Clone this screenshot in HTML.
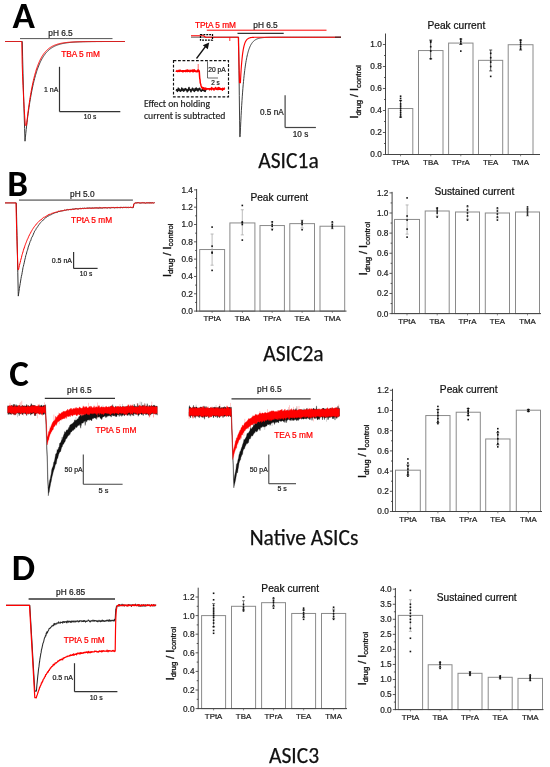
<!DOCTYPE html>
<html><head><meta charset="utf-8"><title>figure</title>
<style>html,body{margin:0;padding:0;background:#fff;}svg{display:block}</style></head>
<body><svg width="550" height="767" viewBox="0 0 550 767">
<rect width="550" height="767" fill="#fff"/>
<text x="12.6" y="27.6" font-size="37" fill="#000" text-anchor="start" font-family="Carlito, Liberation Sans, sans-serif" font-weight="bold" textLength="22.42" lengthAdjust="spacingAndGlyphs" >A</text>
<text x="7.3" y="195.6" font-size="37" fill="#000" text-anchor="start" font-family="Carlito, Liberation Sans, sans-serif" font-weight="bold" textLength="20.75" lengthAdjust="spacingAndGlyphs" >B</text>
<text x="9.2" y="386.3" font-size="37" fill="#000" text-anchor="start" font-family="Carlito, Liberation Sans, sans-serif" font-weight="bold" textLength="19.59" lengthAdjust="spacingAndGlyphs" >C</text>
<text x="11.7" y="579.5" font-size="37" fill="#000" text-anchor="start" font-family="Carlito, Liberation Sans, sans-serif" font-weight="bold" textLength="23.33" lengthAdjust="spacingAndGlyphs" >D</text>
<text x="60.5" y="36" font-size="8.3" fill="#222" text-anchor="middle" font-family="Liberation Sans, Arial, sans-serif" font-weight="normal" stroke="#222" stroke-width="0.22" >pH 6.5</text>
<line x1="20" y1="38.6" x2="112.5" y2="38.6" stroke="#555" stroke-width="1" />
<path d="M5 41.5 L5.4 41.5 L5.8 41.5 L6.2 41.5 L6.6 41.5 L7 41.5 L7.4 41.5 L7.8 41.5 L8.2 41.5 L8.6 41.5 L9 41.5 L9.4 41.5 L9.8 41.5 L10.2 41.5 L10.6 41.5 L11 41.5 L11.4 41.5 L11.8 41.5 L12.2 41.5 L12.6 41.5 L13 41.5 L13.4 41.5 L13.8 41.5 L14.2 41.5 L14.6 41.5 L15 41.5 L15.4 41.5 L15.8 41.5 L16.2 41.5 L16.6 41.5 L17 41.5 L17.4 41.5 L17.8 41.5 L18.2 41.5 L18.6 41.5 L19 41.5 L19.4 41.5 L19.8 41.5 L20.2 41.5 L20.6 41.5 L21 41.5 L21.4 41.5 L21.8 41.5 L22.2 41.5 L22.3 41.5 L22.6 56.9 L23 73.15 L23.4 87.98 L23.8 101.99 L24.2 115.46 L24.6 128.5 L25 141.2 L25.4 137.17 L25.8 133.31 L26.2 129.6 L26.6 126.04 L27 122.62 L27.4 119.35 L27.8 116.2 L28.2 113.18 L28.6 110.29 L29 107.51 L29.4 104.84 L29.8 102.28 L30.2 99.83 L30.6 97.47 L31 95.21 L31.4 93.04 L31.8 90.96 L32.2 88.96 L32.6 87.04 L33 85.2 L33.4 83.44 L33.8 81.74 L34.2 80.12 L34.6 78.56 L35 77.06 L35.4 75.62 L35.8 74.25 L36.2 72.92 L36.6 71.65 L37 70.44 L37.4 69.27 L37.8 68.14 L38.2 67.07 L38.6 66.04 L39 65.04 L39.4 64.09 L39.8 63.18 L40.2 62.3 L40.6 61.46 L41 60.66 L41.4 59.88 L41.8 59.14 L42.2 58.43 L42.6 57.74 L43 57.09 L43.4 56.46 L43.8 55.85 L44.2 55.27 L44.6 54.72 L45 54.18 L45.4 53.67 L45.8 53.18 L46.2 52.71 L46.6 52.25 L47 51.82 L47.4 51.4 L47.8 51 L48.2 50.62 L48.6 50.25 L49 49.9 L49.4 49.56 L49.8 49.23 L50.2 48.92 L50.6 48.62 L51 48.33 L51.4 48.06 L51.8 47.79 L52.2 47.54 L52.6 47.29 L53 47.06 L53.4 46.84 L53.8 46.62 L54.2 46.41 L54.6 46.21 L55 46.02 L55.4 45.84 L55.8 45.67 L56.2 45.5 L56.6 45.34 L57 45.18 L57.4 45.03 L57.8 44.89 L58.2 44.75 L58.6 44.62 L59 44.5 L59.4 44.37 L59.8 44.26 L60.2 44.15 L60.6 44.04 L61 43.94 L61.4 43.84 L61.8 43.74 L62.2 43.65 L62.6 43.57 L63 43.48 L63.4 43.4 L63.8 43.33 L64.2 43.25 L64.6 43.18 L65 43.11 L65.4 43.05 L65.8 42.99 L66.2 42.93 L66.6 42.87 L67 42.81 L67.4 42.76 L67.8 42.71 L68.2 42.66 L68.6 42.61 L69 42.57 L69.4 42.53 L69.8 42.48 L70.2 42.44 L70.6 42.41 L71 42.37 L71.4 42.33 L71.8 42.3 L72.2 42.27 L72.6 42.24 L73 42.21 L73.4 42.18 L73.8 42.15 L74.2 42.13 L74.6 42.1 L75 42.08 L75.4 42.05 L75.8 42.03 L76.2 42.01 L76.6 41.99 L77 41.97 L77.4 41.95 L77.8 41.93 L78.2 41.91 L78.6 41.9 L79 41.88 L79.4 41.87 L79.8 41.85 L80.2 41.84 L80.6 41.82 L81 41.81 L81.4 41.8 L81.8 41.79 L82.2 41.77 L82.6 41.76 L83 41.75 L83.4 41.74 L83.8 41.73 L84.2 41.72 L84.6 41.71 L85 41.71 L85.4 41.7 L85.8 41.69 L86.2 41.68 L86.6 41.67 L87 41.67 L87.4 41.66 L87.8 41.65 L88.2 41.65 L88.6 41.64 L89 41.64 L89.4 41.63 L89.8 41.63 L90.2 41.62 L90.6 41.62 L91 41.61 L91.4 41.61 L91.8 41.6 L92.2 41.6 L92.6 41.59 L93 41.59 L93.4 41.59 L93.8 41.58 L94.2 41.58 L94.6 41.58 L95 41.57 L95.4 41.57 L95.8 41.57 L96.2 41.56 L96.6 41.56 L97 41.56 L97.4 41.56 L97.8 41.55 L98.2 41.55 L98.6 41.55 L99 41.55 L99.4 41.55 L99.8 41.54 L100.2 41.54 L100.6 41.54 L101 41.54 L101.4 41.54 L101.8 41.54 L102.2 41.53 L102.6 41.53 L103 41.53 L103.4 41.53 L103.8 41.53 L104.2 41.53 L104.6 41.53 L105 41.53 L105.4 41.53 L105.8 41.52 L106.2 41.52 L106.6 41.52 L107 41.52 L107.4 41.52 L107.8 41.52 L108.2 41.52 L108.6 41.52 L109 41.52 L109.4 41.52 L109.8 41.52 L110.2 41.52 L110.6 41.51 L111 41.51 L111.4 41.51 L111.8 41.51 L112.2 41.51 L112.6 41.51 L113 41.51 L113.4 41.51 L113.8 41.51 L114.2 41.51 L114.6 41.51 L115 41.51 L115.4 41.51 L115.8 41.51 L116.2 41.51 L116.6 41.51 L117 41.51 L117.4 41.51 L117.8 41.51 L118.2 41.51 L118.6 41.51 L119 41.51 L119.4 41.51 L119.8 41.51 L120.2 41.51 L120.6 41.51 L121 41.51 L121.4 41.5 L121.8 41.5 L122.2 41.5 L122.6 41.5 L123 41.5 L123.4 41.5 L123.8 41.5 L124.2 41.5 L124.6 41.5 L125 41.5" fill="none" stroke="#3a3a3a" stroke-width="1.0" stroke-linejoin="round" />
<path d="M5 41.5 L5.4 41.5 L5.8 41.5 L6.2 41.5 L6.6 41.5 L7 41.5 L7.4 41.5 L7.8 41.5 L8.2 41.5 L8.6 41.5 L9 41.5 L9.4 41.5 L9.8 41.5 L10.2 41.5 L10.6 41.5 L11 41.5 L11.4 41.5 L11.8 41.5 L12.2 41.5 L12.6 41.5 L13 41.5 L13.4 41.5 L13.8 41.5 L14.2 41.5 L14.6 41.5 L15 41.5 L15.4 41.5 L15.8 41.5 L16.2 41.5 L16.6 41.5 L17 41.5 L17.4 41.5 L17.8 41.5 L18.2 41.5 L18.6 41.5 L19 41.5 L19.4 41.5 L19.8 41.5 L20.2 41.5 L20.6 41.5 L21 41.5 L21.4 41.5 L21.8 41.5 L22.2 64.33 L22.6 76.11 L23 85.64 L23.4 93.96 L23.8 101.47 L24.2 108.4 L24.6 114.89 L25 121.01 L25.3 125.4 L25.4 125.4 L25.8 125.4 L26.2 125.4 L26.5 125.4 L26.6 124.47 L27 120.87 L27.4 117.42 L27.8 114.12 L28.2 110.96 L28.6 107.94 L29 105.05 L29.4 102.29 L29.8 99.65 L30.2 97.12 L30.6 94.7 L31 92.39 L31.4 90.18 L31.8 88.06 L32.2 86.04 L32.6 84.1 L33 82.25 L33.4 80.48 L33.8 78.78 L34.2 77.16 L34.6 75.61 L35 74.13 L35.4 72.71 L35.8 71.35 L36.2 70.06 L36.6 68.81 L37 67.63 L37.4 66.49 L37.8 65.4 L38.2 64.37 L38.6 63.37 L39 62.42 L39.4 61.51 L39.8 60.64 L40.2 59.81 L40.6 59.01 L41 58.25 L41.4 57.52 L41.8 56.83 L42.2 56.16 L42.6 55.52 L43 54.91 L43.4 54.33 L43.8 53.77 L44.2 53.24 L44.6 52.73 L45 52.24 L45.4 51.77 L45.8 51.33 L46.2 50.9 L46.6 50.49 L47 50.1 L47.4 49.73 L47.8 49.37 L48.2 49.03 L48.6 48.7 L49 48.39 L49.4 48.09 L49.8 47.8 L50.2 47.53 L50.6 47.27 L51 47.01 L51.4 46.77 L51.8 46.55 L52.2 46.33 L52.6 46.12 L53 45.92 L53.4 45.72 L53.8 45.54 L54.2 45.36 L54.6 45.2 L55 45.04 L55.4 44.88 L55.8 44.74 L56.2 44.59 L56.6 44.46 L57 44.33 L57.4 44.21 L57.8 44.09 L58.2 43.98 L58.6 43.87 L59 43.77 L59.4 43.67 L59.8 43.57 L60.2 43.48 L60.6 43.4 L61 43.32 L61.4 43.24 L61.8 43.16 L62.2 43.09 L62.6 43.02 L63 42.95 L63.4 42.89 L63.8 42.83 L64.2 42.77 L64.6 42.72 L65 42.66 L65.4 42.61 L65.8 42.56 L66.2 42.52 L66.6 42.47 L67 42.43 L67.4 42.39 L67.8 42.35 L68.2 42.32 L68.6 42.28 L69 42.25 L69.4 42.21 L69.8 42.18 L70.2 42.15 L70.6 42.12 L71 42.1 L71.4 42.07 L71.8 42.05 L72.2 42.02 L72.6 42 L73 41.98 L73.4 41.96 L73.8 41.94 L74.2 41.92 L74.6 41.9 L75 41.88 L75.4 41.87 L75.8 41.85 L76.2 41.84 L76.6 41.82 L77 41.81 L77.4 41.79 L77.8 41.78 L78.2 41.77 L78.6 41.76 L79 41.75 L79.4 41.74 L79.8 41.72 L80.2 41.72 L80.6 41.71 L81 41.7 L81.4 41.69 L81.8 41.68 L82.2 41.67 L82.6 41.66 L83 41.66 L83.4 41.65 L83.8 41.64 L84.2 41.64 L84.6 41.63 L85 41.63 L85.4 41.62 L85.8 41.62 L86.2 41.61 L86.6 41.61 L87 41.6 L87.4 41.6 L87.8 41.59 L88.2 41.59 L88.6 41.58 L89 41.58 L89.4 41.58 L89.8 41.57 L90.2 41.57 L90.6 41.57 L91 41.56 L91.4 41.56 L91.8 41.56 L92.2 41.56 L92.6 41.55 L93 41.55 L93.4 41.55 L93.8 41.55 L94.2 41.55 L94.6 41.54 L95 41.54 L95.4 41.54 L95.8 41.54 L96.2 41.54 L96.6 41.53 L97 41.53 L97.4 41.53 L97.8 41.53 L98.2 41.53 L98.6 41.53 L99 41.53 L99.4 41.53 L99.8 41.52 L100.2 41.52 L100.6 41.52 L101 41.52 L101.4 41.52 L101.8 41.52 L102.2 41.52 L102.6 41.52 L103 41.52 L103.4 41.52 L103.8 41.52 L104.2 41.51 L104.6 41.51 L105 41.51 L105.4 41.51 L105.8 41.51 L106.2 41.51 L106.6 41.51 L107 41.51 L107.4 41.51 L107.8 41.51 L108.2 41.51 L108.6 41.51 L109 41.51 L109.4 41.51 L109.8 41.51 L110.2 41.51 L110.6 41.51 L111 41.51 L111.4 41.51 L111.8 41.51 L112.2 41.51 L112.6 41.51 L113 41.51 L113.4 41.51 L113.8 41.51 L114.2 41.5 L114.6 41.5 L115 41.5 L115.4 41.5 L115.8 41.5 L116.2 41.5 L116.6 41.5 L117 41.5 L117.4 41.5 L117.8 41.5 L118.2 41.5 L118.6 41.5 L119 41.5 L119.4 41.5 L119.8 41.5 L120.2 41.5 L120.6 41.5 L121 41.5 L121.4 41.5 L121.8 41.5 L122.2 41.5 L122.6 41.5 L123 41.5 L123.4 41.5 L123.8 41.5 L124.2 41.5 L124.6 41.5 L125 41.5" fill="none" stroke="#ff0000" stroke-width="1.0" stroke-linejoin="round" />
<text x="80.5" y="57" font-size="8.3" fill="#ff0000" text-anchor="middle" font-family="Liberation Sans, Arial, sans-serif" font-weight="normal" stroke="#ff0000" stroke-width="0.22" >TBA 5 mM</text>
<line x1="59.5" y1="66.8" x2="59.5" y2="111.6" stroke="#333" stroke-width="1.2" />
<line x1="59.5" y1="111.6" x2="120.3" y2="111.6" stroke="#333" stroke-width="1.2" />
<text x="58.3" y="92.1" font-size="6.9" fill="#222" text-anchor="end" font-family="Liberation Sans, Arial, sans-serif" font-weight="normal" stroke="#222" stroke-width="0.22" >1 nA</text>
<text x="90.1" y="119.2" font-size="6.6" fill="#222" text-anchor="middle" font-family="Liberation Sans, Arial, sans-serif" font-weight="normal" stroke="#222" stroke-width="0.22" >10 s</text>
<text x="215.5" y="27.5" font-size="8.3" fill="#ff0000" text-anchor="middle" font-family="Liberation Sans, Arial, sans-serif" font-weight="normal" stroke="#ff0000" stroke-width="0.22" >TPtA 5 mM</text>
<text x="265.5" y="27.5" font-size="8.3" fill="#222" text-anchor="middle" font-family="Liberation Sans, Arial, sans-serif" font-weight="normal" stroke="#222" stroke-width="0.22" >pH 6.5</text>
<line x1="206.8" y1="30.2" x2="326.5" y2="30.2" stroke="#ff0000" stroke-width="1" />
<line x1="237.5" y1="33.4" x2="283.7" y2="33.4" stroke="#333" stroke-width="1.2" />
<path d="M191 37.2 L191.3 37.2 L191.6 37.2 L191.9 37.2 L192.2 37.2 L192.5 37.2 L192.8 37.2 L193.1 37.2 L193.4 37.2 L193.7 37.2 L194 37.2 L194.3 37.2 L194.6 37.2 L194.9 37.2 L195.2 37.2 L195.5 37.2 L195.8 37.2 L196.1 37.2 L196.4 37.2 L196.7 37.2 L197 37.2 L197.3 37.2 L197.6 37.2 L197.9 37.2 L198.2 37.2 L198.5 37.2 L198.8 37.2 L199.1 37.2 L199.4 37.2 L199.7 37.2 L200 37.2 L200.3 37.2 L200.6 37.2 L200.9 37.2 L201.2 37.2 L201.5 37.2 L201.8 37.2 L202.1 37.2 L202.4 37.2 L202.7 37.2 L203 37.2 L203.3 37.2 L203.6 37.2 L203.9 37.2 L204.2 37.2 L204.5 37.2 L204.8 37.2 L205.1 37.2 L205.4 37.2 L205.7 37.2 L206 37.2 L206.3 37.2 L206.6 37.2 L206.9 37.2 L207.2 37.2 L207.5 37.2 L207.8 37.2 L208.1 37.2 L208.4 37.2 L208.7 37.2 L209 37.2 L209.3 37.2 L209.6 37.2 L209.9 37.2 L210.2 37.2 L210.5 37.2 L210.8 37.2 L211.1 37.2 L211.4 37.2 L211.7 37.2 L212 37.2 L212.3 37.2 L212.6 37.2 L212.9 37.2 L213.2 37.2 L213.5 37.2 L213.8 37.2 L214.1 37.2 L214.4 37.2 L214.7 37.2 L215 37.2 L215.3 37.2 L215.6 37.2 L215.9 37.2 L216.2 37.2 L216.5 37.2 L216.8 37.2 L217.1 37.2 L217.4 37.2 L217.7 37.2 L218 37.2 L218.3 37.2 L218.6 37.2 L218.9 37.2 L219.2 37.2 L219.5 37.2 L219.8 37.2 L220.1 37.2 L220.4 37.2 L220.7 37.2 L221 37.2 L221.3 37.2 L221.6 37.2 L221.9 37.2 L222.2 37.2 L222.5 37.2 L222.8 37.2 L223.1 37.2 L223.4 37.2 L223.7 37.2 L224 37.2 L224.3 37.2 L224.6 37.2 L224.9 37.2 L225.2 37.2 L225.5 37.2 L225.8 37.2 L226.1 37.2 L226.4 37.2 L226.7 37.2 L227 37.2 L227.3 37.2 L227.6 37.2 L227.9 37.2 L228.2 37.2 L228.5 37.2 L228.8 37.2 L229.1 37.2 L229.4 37.2 L229.7 37.2 L230 37.2 L230.3 37.2 L230.6 37.2 L230.9 37.2 L231.2 37.2 L231.5 37.2 L231.8 37.2 L232.1 37.2 L232.4 37.2 L232.7 37.2 L233 37.2 L233.3 37.2 L233.6 37.2 L233.9 37.2 L234.2 37.2 L234.5 37.2 L234.8 37.2 L235.1 37.2 L235.4 37.2 L235.7 37.2 L236 37.2 L236.3 37.2 L236.6 37.2 L236.9 37.2 L237.2 37.2 L237.5 37.2 L237.8 37.2 L238.1 37.2 L238.4 37.2 L238.6 37.2 L238.7 45.5 L239 70.4 L239.3 95.3 L239.6 120.2 L239.8 136.8 L239.9 136.8 L240.1 136.8 L240.2 134.46 L240.5 127.75 L240.8 121.51 L241.1 115.7 L241.4 110.29 L241.7 105.25 L242 100.56 L242.3 96.19 L242.6 92.12 L242.9 88.34 L243.2 84.81 L243.5 81.53 L243.8 78.47 L244.1 75.63 L244.4 72.98 L244.7 70.51 L245 68.22 L245.3 66.08 L245.6 64.09 L245.9 62.23 L246.2 60.51 L246.5 58.9 L246.8 57.4 L247.1 56.01 L247.4 54.72 L247.7 53.51 L248 52.38 L248.3 51.34 L248.6 50.36 L248.9 49.45 L249.2 48.61 L249.5 47.82 L249.8 47.09 L250.1 46.41 L250.4 45.77 L250.7 45.18 L251 44.63 L251.3 44.12 L251.6 43.64 L251.9 43.2 L252.2 42.79 L252.5 42.4 L252.8 42.04 L253.1 41.71 L253.4 41.4 L253.7 41.11 L254 40.84 L254.3 40.59 L254.6 40.35 L254.9 40.14 L255.2 39.93 L255.5 39.75 L255.8 39.57 L256.1 39.41 L256.4 39.25 L256.7 39.11 L257 38.98 L257.3 38.86 L257.6 38.74 L257.9 38.64 L258.2 38.54 L258.5 38.45 L258.8 38.36 L259.1 38.28 L259.4 38.21 L259.7 38.14 L260 38.07 L260.3 38.01 L260.6 37.96 L260.9 37.9 L261.2 37.86 L261.5 37.81 L261.8 37.77 L262.1 37.73 L262.4 37.69 L262.7 37.66 L263 37.63 L263.3 37.6 L263.6 37.57 L263.9 37.54 L264.2 37.52 L264.5 37.5 L264.8 37.48 L265.1 37.46 L265.4 37.44 L265.7 37.42 L266 37.41 L266.3 37.39 L266.6 37.38 L266.9 37.37 L267.2 37.36 L267.5 37.35 L267.8 37.34 L268.1 37.33 L268.4 37.32 L268.7 37.31 L269 37.3 L269.3 37.3 L269.6 37.29 L269.9 37.28 L270.2 37.28 L270.5 37.27 L270.8 37.27 L271.1 37.26 L271.4 37.26 L271.7 37.25 L272 37.25 L272.3 37.25 L272.6 37.24 L272.9 37.24 L273.2 37.24 L273.5 37.24 L273.8 37.23 L274.1 37.23 L274.4 37.23 L274.7 37.23 L275 37.22 L275.3 37.22 L275.6 37.22 L275.9 37.22 L276.2 37.22 L276.5 37.22 L276.8 37.22 L277.1 37.21 L277.4 37.21 L277.7 37.21 L278 37.21 L278.3 37.21 L278.6 37.21 L278.9 37.21 L279.2 37.21 L279.5 37.21 L279.8 37.21 L280.1 37.21 L280.4 37.21 L280.7 37.21 L281 37.21 L281.3 37.21 L281.6 37.21 L281.9 37.2 L282.2 37.2 L282.5 37.2 L282.8 37.2 L283.1 37.2 L283.4 37.2 L283.7 37.2 L284 37.2 L284.3 37.2 L284.6 37.2 L284.9 37.2 L285.2 37.2 L285.5 37.2 L285.8 37.2 L286.1 37.2 L286.4 37.2 L286.7 37.2 L287 37.2 L287.3 37.2 L287.6 37.2 L287.9 37.2 L288.2 37.2 L288.5 37.2 L288.8 37.2 L289.1 37.2 L289.4 37.2 L289.7 37.2 L290 37.2 L290.3 37.2 L290.6 37.2 L290.9 37.2 L291.2 37.2 L291.5 37.2 L291.8 37.2 L292.1 37.2 L292.4 37.2 L292.7 37.2 L293 37.2 L293.3 37.2 L293.6 37.2 L293.9 37.2 L294.2 37.2 L294.5 37.2 L294.8 37.2 L295.1 37.2 L295.4 37.2 L295.7 37.2 L296 37.2 L296.3 37.2 L296.6 37.2 L296.9 37.2 L297.2 37.2 L297.5 37.2 L297.8 37.2 L298.1 37.2 L298.4 37.2 L298.7 37.2 L299 37.2 L299.3 37.2 L299.6 37.2 L299.9 37.2 L300.2 37.2 L300.5 37.2 L300.8 37.2 L301.1 37.2 L301.4 37.2 L301.7 37.2 L302 37.2 L302.3 37.2 L302.6 37.2 L302.9 37.2 L303.2 37.2 L303.5 37.2 L303.8 37.2 L304.1 37.2 L304.4 37.2 L304.7 37.2 L305 37.2 L305.3 37.2 L305.6 37.2 L305.9 37.2 L306.2 37.2 L306.5 37.2 L306.8 37.2 L307.1 37.2 L307.4 37.2 L307.7 37.2 L308 37.2 L308.3 37.2 L308.6 37.2 L308.9 37.2 L309.2 37.2 L309.5 37.2 L309.8 37.2 L310.1 37.2 L310.4 37.2 L310.7 37.2 L311 37.2 L311.3 37.2 L311.6 37.2 L311.9 37.2 L312.2 37.2 L312.5 37.2 L312.8 37.2 L313.1 37.2 L313.4 37.2 L313.7 37.2 L314 37.2 L314.3 37.2 L314.6 37.2 L314.9 37.2 L315.2 37.2 L315.5 37.2 L315.8 37.2 L316.1 37.2 L316.4 37.2 L316.7 37.2 L317 37.2 L317.3 37.2 L317.6 37.2 L317.9 37.2 L318.2 37.2 L318.5 37.2 L318.8 37.2 L319.1 37.2 L319.4 37.2 L319.7 37.2 L320 37.2 L320.3 37.2 L320.6 37.2 L320.9 37.2 L321.2 37.2 L321.5 37.2 L321.8 37.2 L322.1 37.2 L322.4 37.2 L322.7 37.2 L323 37.2 L323.3 37.2 L323.6 37.2 L323.9 37.2 L324.2 37.2 L324.5 37.2 L324.8 37.2 L325.1 37.2 L325.4 37.2 L325.7 37.2 L326 37.2 L326.3 37.2 L326.6 37.2 L326.9 37.2 L327.2 37.2 L327.5 37.2 L327.8 37.2 L328.1 37.2 L328.4 37.2 L328.7 37.2 L329 37.2 L329.3 37.2 L329.6 37.2 L329.9 37.2 L330.2 37.2 L330.5 37.2 L330.8 37.2 L331.1 37.2 L331.4 37.2 L331.7 37.2 L332 37.2 L332.3 37.2 L332.6 37.2 L332.9 37.2 L333.2 37.2 L333.5 37.2 L333.8 37.2 L334.1 37.2 L334.4 37.2 L334.7 37.2 L335 37.2 L335.3 37.2 L335.6 37.2 L335.9 37.2 L336.2 37.2 L336.5 37.2 L336.8 37.2 L337.1 37.2 L337.4 37.2 L337.7 37.2 L338 37.2 L338.3 37.2 L338.6 37.2 L338.9 37.2 L339.2 37.2 L339.5 37.2 L339.8 37.2 L340.1 37.2 L340.4 37.2 L340.7 37.2 L341 37.2" fill="none" stroke="#2a2a2a" stroke-width="0.9" stroke-linejoin="round" />
<path d="M191 35.7 L203.5 35.7 L205.5 37.2 L206 37.2 L206.3 37.2 L206.6 37.2 L206.9 37.2 L207.2 37.2 L207.5 37.2 L207.8 37.2 L208.1 37.2 L208.4 37.2 L208.7 37.2 L209 37.2 L209.3 37.2 L209.6 37.2 L209.9 37.2 L210.2 37.2 L210.5 37.2 L210.8 37.2 L211.1 37.2 L211.4 37.2 L211.7 37.2 L212 37.2 L212.3 37.2 L212.6 37.2 L212.9 37.2 L213.2 37.2 L213.5 37.2 L213.8 37.2 L214.1 37.2 L214.4 37.2 L214.7 37.2 L215 37.2 L215.3 37.2 L215.6 37.2 L215.9 37.2 L216.2 37.2 L216.5 37.2 L216.8 37.2 L217.1 37.2 L217.4 37.2 L217.7 37.2 L218 37.2 L218.3 37.2 L218.6 37.2 L218.9 37.2 L219.2 37.2 L219.5 37.2 L219.8 37.2 L220.1 37.2 L220.4 37.2 L220.7 37.2 L221 37.2 L221.3 37.2 L221.6 37.2 L221.9 37.2 L222.2 37.2 L222.5 37.2 L222.8 37.2 L223.1 37.2 L223.4 37.2 L223.7 37.2 L224 37.2 L224.3 37.2 L224.6 37.2 L224.9 37.2 L225.2 37.2 L225.5 37.2 L225.8 37.2 L226.1 37.2 L226.4 37.2 L226.7 37.2 L227 37.2 L227.3 37.2 L227.6 37.2 L227.9 37.2 L228.2 37.2 L228.5 37.2 L228.8 37.2 L229.1 37.2 L229.4 37.2 L229.7 37.2 L230 37.2 L230.3 37.2 L230.6 37.2 L230.9 37.2 L231.2 37.2 L231.5 37.2 L231.8 37.2 L232.1 37.2 L232.4 37.2 L232.7 37.2 L233 37.2 L233.3 37.2 L233.6 37.2 L233.9 37.2 L234.2 37.2 L234.5 37.2 L234.8 37.2 L235.1 37.2 L235.4 37.2 L235.7 37.2 L236 37.2 L236.3 37.2 L236.6 37.2 L236.9 37.2 L237.2 37.2 L237.5 37.2 L237.8 37.2 L238.1 37.2 L238.3 37.2 L238.4 40.99 L238.7 52.37 L239 63.74 L239.3 75.12 L239.5 82.7 L239.6 82.7 L239.9 82.7 L240.2 82.7 L240.4 82.7 L240.5 80.68 L240.8 75.14 L241.1 70.3 L241.4 66.08 L241.7 62.4 L242 59.19 L242.3 56.38 L242.6 53.94 L242.9 51.8 L243.2 49.94 L243.5 48.32 L243.8 46.9 L244.1 45.66 L244.4 44.59 L244.7 43.64 L245 42.82 L245.3 42.11 L245.6 41.48 L245.9 40.93 L246.2 40.46 L246.5 40.04 L246.8 39.68 L247.1 39.36 L247.4 39.09 L247.7 38.85 L248 38.64 L248.3 38.45 L248.6 38.29 L248.9 38.16 L249.2 38.03 L249.5 37.93 L249.8 37.83 L250.1 37.75 L250.4 37.68 L250.7 37.62 L251 37.57 L251.3 37.52 L251.6 37.48 L251.9 37.44 L252.2 37.41 L252.5 37.39 L252.8 37.36 L253.1 37.34 L253.4 37.32 L253.7 37.31 L254 37.29 L254.3 37.28 L254.6 37.27 L254.9 37.26 L255.2 37.25 L255.5 37.25 L255.8 37.24 L256.1 37.24 L256.4 37.23 L256.7 37.23 L257 37.22 L257.3 37.22 L257.6 37.22 L257.9 37.22 L258.2 37.21 L258.5 37.21 L258.8 37.21 L259.1 37.21 L259.4 37.21 L259.7 37.21 L260 37.21 L260.3 37.21 L260.6 37.2 L260.9 37.2 L261.2 37.2 L261.5 37.2 L261.8 37.2 L262.1 37.2 L262.4 37.2 L262.7 37.2 L263 37.2 L263.3 37.2 L263.6 37.2 L263.9 37.2 L264.2 37.2 L264.5 37.2 L264.8 37.2 L265.1 37.2 L265.4 37.2 L265.7 37.2 L266 37.2 L266.3 37.2 L266.6 37.2 L266.9 37.2 L267.2 37.2 L267.5 37.2 L267.8 37.2 L268.1 37.2 L268.4 37.2 L268.7 37.2 L269 37.2 L269.3 37.2 L269.6 37.2 L269.9 37.2 L270.2 37.2 L270.5 37.2 L270.8 37.2 L271.1 37.2 L271.4 37.2 L271.7 37.2 L272 37.2 L272.3 37.2 L272.6 37.2 L272.9 37.2 L273.2 37.2 L273.5 37.2 L273.8 37.2 L274.1 37.2 L274.4 37.2 L274.7 37.2 L275 37.2 L275.3 37.2 L275.6 37.2 L275.9 37.2 L276.2 37.2 L276.5 37.2 L276.8 37.2 L277.1 37.2 L277.4 37.2 L277.7 37.2 L278 37.2 L278.3 37.2 L278.6 37.2 L278.9 37.2 L279.2 37.2 L279.5 37.2 L279.8 37.2 L280.1 37.2 L280.4 37.2 L280.7 37.2 L281 37.2 L281.3 37.2 L281.6 37.2 L281.9 37.2 L282.2 37.2 L282.5 37.2 L282.8 37.2 L283.1 37.2 L283.4 37.2 L283.7 37.2 L284 37.2 L284.3 37.2 L284.6 37.2 L284.9 37.2 L285.2 37.2 L285.5 37.2 L285.8 37.2 L286.1 37.2 L286.4 37.2 L286.7 37.2 L287 37.2 L287.3 37.2 L287.6 37.2 L287.9 37.2 L288.2 37.2 L288.5 37.2 L288.8 37.2 L289.1 37.2 L289.4 37.2 L289.7 37.2 L290 37.2 L290.3 37.2 L290.6 37.2 L290.9 37.2 L291.2 37.2 L291.5 37.2 L291.8 37.2 L292.1 37.2 L292.4 37.2 L292.7 37.2 L293 37.2 L293.3 37.2 L293.6 37.2 L293.9 37.2 L294.2 37.2 L294.5 37.2 L294.8 37.2 L295.1 37.2 L295.4 37.2 L295.7 37.2 L296 37.2 L296.3 37.2 L296.6 37.2 L296.9 37.2 L297.2 37.2 L297.5 37.2 L297.8 37.2 L298.1 37.2 L298.4 37.2 L298.7 37.2 L299 37.2 L299.3 37.2 L299.6 37.2 L299.9 37.2 L300.2 37.2 L300.5 37.2 L300.8 37.2 L301.1 37.2 L301.4 37.2 L301.7 37.2 L302 37.2 L302.3 37.2 L302.6 37.2 L302.9 37.2 L303.2 37.2 L303.5 37.2 L303.8 37.2 L304.1 37.2 L304.4 37.2 L304.7 37.2 L305 37.2 L305.3 37.2 L305.6 37.2 L305.9 37.2 L306.2 37.2 L306.5 37.2 L306.8 37.2 L307.1 37.2 L307.4 37.2 L307.7 37.2 L308 37.2 L308.3 37.2 L308.6 37.2 L308.9 37.2 L309.2 37.2 L309.5 37.2 L309.8 37.2 L310.1 37.2 L310.4 37.2 L310.7 37.2 L311 37.2 L311.3 37.2 L311.6 37.2 L311.9 37.2 L312.2 37.2 L312.5 37.2 L312.8 37.2 L313.1 37.2 L313.4 37.2 L313.7 37.2 L314 37.2 L314.3 37.2 L314.6 37.2 L314.9 37.2 L315.2 37.2 L315.5 37.2 L315.8 37.2 L316.1 37.2 L316.4 37.2 L316.7 37.2 L317 37.2 L317.3 37.2 L317.6 37.2 L317.9 37.2 L318.2 37.2 L318.5 37.2 L318.8 37.2 L319.1 37.2 L319.4 37.2 L319.7 37.2 L320 37.2 L320.3 37.2 L320.6 37.2 L320.9 37.2 L321.2 37.2 L321.5 37.2 L321.8 37.2 L322.1 37.2 L322.4 37.2 L322.7 37.2 L323 37.2 L323.3 37.2 L323.6 37.2 L323.9 37.2 L324.2 37.2 L324.5 37.2 L324.8 37.2 L325.1 37.2 L325.4 37.2 L325.7 37.2 L326 37.2 L326.3 37.2 L326.6 37.2 L326.9 37.2 L327.2 37.2 L327.5 37.2 L327.8 37.2 L328.1 37.2 L328.4 37.2 L328.7 37.2 L329 37.2 L329.3 37.2 L329.6 37.2 L329.9 37.2 L330.2 37.2 L330.5 37.2 L330.8 37.2 L331.1 37.2 L331.4 37.2 L331.7 37.2 L332 37.2 L332.3 37.2 L332.6 37.2 L332.9 37.2 L333.2 37.2 L333.5 37.2 L333.8 37.2 L334.1 37.2 L334.4 37.2 L334.7 37.2 L335 37.2 L335.3 37.2 L335.6 37.2 L335.9 37.2 L336.2 37.2 L336.5 37.2 L336.8 37.2 L337.1 37.2 L337.4 37.2 L337.7 37.2 L338 37.2 L338.3 37.2 L338.6 37.2 L338.9 37.2 L339.2 37.2 L339.5 37.2 L339.8 37.2 L340.1 37.2 L340.4 37.2 L340.7 37.2 L341 37.2" fill="none" stroke="#ff0000" stroke-width="1.15" stroke-linejoin="round" />
<line x1="229.8" y1="37.2" x2="229.8" y2="41" stroke="#ff0000" stroke-width="0.8" />
<line x1="335" y1="37.2" x2="341" y2="37.2" stroke="#2a2a2a" stroke-width="1.0" />
<rect x="200.5" y="34.6" width="12" height="5.6" fill="none" stroke="#000" stroke-width="1.25" stroke-dasharray="1.9,1.0"/>
<line x1="196.5" y1="58.5" x2="205.5" y2="46.5" stroke="#111" stroke-width="1.3" />
<path d="M209.2 42.6 L202.8 45.3 L207.8 49.3 Z" fill="#111"/>
<rect x="173.5" y="60.6" width="55" height="36.2" fill="none" stroke="#111" stroke-width="1.15" stroke-dasharray="2.8,1.7"/>
<path d="M176 90.08 L176.25 90.34 L176.5 90.35 L176.75 89.6 L177 90.72 L177.25 90.97 L177.5 91.45 L177.75 89.56 L178 88.91 L178.25 88.12 L178.5 89.52 L178.75 90.23 L179 88.77 L179.25 89.57 L179.5 89.9 L179.75 90.49 L180 90.18 L180.25 91.25 L180.5 90.04 L180.75 89.97 L181 90.81 L181.25 90.46 L181.5 89.87 L181.75 88.02 L182 89.3 L182.25 90.13 L182.5 90.18 L182.75 89.04 L183 88.92 L183.25 90.68 L183.5 91.15 L183.75 91.05 L184 90.9 L184.25 89.83 L184.5 89.25 L184.75 90.19 L185 88.73 L185.25 88.94 L185.5 88.6 L185.75 88.91 L186 89.71 L186.25 89.89 L186.5 89.32 L186.75 90.47 L187 90.87 L187.25 91.71 L187.5 91.27 L187.75 90.6 L188 89.59 L188.25 90.6 L188.5 89.01 L188.75 88.38 L189 87.43 L189.25 89.29 L189.5 89.11 L189.75 89.87 L190 89.46 L190.25 89.65 L190.5 90.28 L190.75 91.37 L191 91.78 L191.25 90.07 L191.5 89.84 L191.75 90.31 L192 89.86 L192.25 88.68 L192.5 88.16 L192.75 88.97 L193 88.66 L193.25 89.8 L193.5 90.39 L193.75 90.06 L194 90.19 L194.25 91.42 L194.5 91.29 L194.75 89.85 L195 88.82 L195.25 89.18 L195.5 90.21 L195.75 89.29 L196 88.31 L196.25 88 L196.5 88.34 L196.75 89.97 L197 89.77 L197.25 90.12 L197.5 88.92 L197.75 90.84 L198 90.94 L198.25 89.87 L198.5 90.01 L198.75 89.05 L199 88.45 L199.25 89.24 L199.5 89.23 L199.75 88.25 L200 89.06 L200.25 90.1 L200.5 90.8 L200.75 90.49 L201 90.61 L201.25 90.63 L201.5 91.21 L201.75 90.05 L202 90.42 L202.25 89.68 L202.5 88.93 L202.75 89.28 L203 90.27 L203.25 87.97 L203.5 88.79 L203.75 90.48 L204 90.03 L204.25 91.02 L204.5 91.11 L204.75 90.06 L205 90.9 L205.25 91.4 L205.5 89.97 L205.75 89.22 L206 88.9 L206.25 89.53 L206.5 89.49 L206.75 89.06" fill="none" stroke="#1a1a1a" stroke-width="1.5" stroke-linejoin="round" />
<path d="M176 70.87 L176.25 71.26 L176.5 70.89 L176.75 70.84 L177 70.53 L177.25 70.89 L177.5 71.56 L177.75 71.21 L178 71.52 L178.25 71.12 L178.5 71.2 L178.75 71.09 L179 70.17 L179.25 71.43 L179.5 71.25 L179.75 71.25 L180 70.15 L180.25 70.13 L180.5 70.56 L180.75 70.77 L181 71.15 L181.25 70.98 L181.5 71.26 L181.75 70.68 L182 71.15 L182.25 71.2 L182.5 70.67 L182.75 71.86 L183 71.28 L183.25 71.6 L183.5 70.69 L183.75 70.63 L184 70.83 L184.25 70.95 L184.5 71.32 L184.75 71.12 L185 70.78 L185.25 70.52 L185.5 70.74 L185.75 71.61 L186 70.6 L186.25 71.12 L186.5 71.21 L186.75 70.26 L187 71.02 L187.25 71.65 L187.5 69.99 L187.75 70.84 L188 70.95 L188.25 70.59 L188.5 71.25 L188.75 70.97 L189 70.27 L189.25 71.41 L189.5 71.33 L189.75 71.47 L190 71.72 L190.25 71.18 L190.5 71.06 L190.75 70.35 L191 71.31 L191.25 70.69 L191.5 70.77 L191.75 70.37 L192 70.52 L192.25 70.73 L192.5 71.64 L192.75 69.98 L193 70.27 L193.25 71.12 L193.5 71.72 L193.75 71.29 L194 70.05 L194.25 69.74 L194.5 71.18 L194.75 70.63 L195 70.44 L195.25 71.49 L195.5 71.55 L195.75 71.08 L196 71.12 L196.25 71.22 L196.5 71.8 L196.75 71.31 L197 71.26 L197.25 71.27 L197.5 70.22 L197.75 71.64 L198 71.48 L198.25 71.26 L198.5 70.01 L198.75 70.68 L199 71.42 L199.25 70.89 L199.5 75.16 L199.75 78.51 L200 79.54 L200.25 82.75 L200.5 83.62 L200.75 84.38 L201 85.5 L201.25 86.36 L201.5 86.66 L201.75 87.62 L202 87.07 L202.25 87.48 L202.5 88.43 L202.75 88.11 L203 87.8 L203.25 88.83 L203.5 89.18 L203.75 88.29 L204 87.88 L204.25 88.55 L204.5 88.58 L204.75 88.54 L205 89.41 L205.25 88.21 L205.5 89.37 L205.75 88.12 L206 88.37 L206.25 89.09 L206.5 89.34 L206.75 89.21 L207 88.96 L207.25 88.86 L207.5 88.87 L207.75 89.08 L208 88.71 L208.25 88.93 L208.5 89.08 L208.75 88.8 L209 89.18 L209.25 89.08 L209.5 89.8 L209.75 88.96 L210 88.59 L210.25 88.61 L210.5 88.79 L210.75 89.26 L211 88.63 L211.25 88.99 L211.5 89.72 L211.75 87.52 L212 88.24 L212.25 88.92 L212.5 89 L212.75 88.92 L213 88.58 L213.25 89.13 L213.5 88.94 L213.75 88.54 L214 90.02 L214.25 88.98 L214.5 88.52 L214.75 88.75 L215 88.69 L215.25 88.77 L215.5 87.44 L215.75 88.56 L216 89.3 L216.25 88.22 L216.5 88.77 L216.75 89.28 L217 89.23 L217.25 89.55 L217.5 87.95 L217.75 88.62 L218 88.63 L218.25 89.11 L218.5 89.35 L218.75 87.46 L219 89.34 L219.25 88.08 L219.5 89.14 L219.75 88.05 L220 88.89 L220.25 89.4 L220.5 88.73 L220.75 88.9 L221 89.2 L221.25 88.87 L221.5 88.76 L221.75 89.57 L222 89.32 L222.25 88.65 L222.5 90.17 L222.75 88.23 L223 89.26 L223.25 88.67 L223.5 88.87 L223.75 89.15 L224 88.91 L224.25 89.12 L224.5 88.04 L224.75 88.05" fill="none" stroke="#ff0000" stroke-width="1.5" stroke-linejoin="round" />
<line x1="198.2" y1="71" x2="198.2" y2="64" stroke="#ff0000" stroke-width="0.6" />
<line x1="207.5" y1="61.3" x2="207.5" y2="78" stroke="#444" stroke-width="0.8" />
<line x1="207.5" y1="78" x2="218" y2="78" stroke="#444" stroke-width="0.8" />
<text x="208.2" y="71.7" font-size="6.7" fill="#222" text-anchor="start" font-family="Liberation Sans, Arial, sans-serif" font-weight="normal" stroke="#222" stroke-width="0.22" >20 pA</text>
<text x="215.4" y="85.3" font-size="6.4" fill="#222" text-anchor="middle" font-family="Liberation Sans, Arial, sans-serif" font-weight="normal" stroke="#222" stroke-width="0.22" >2 s</text>
<text x="144" y="107.4" font-size="9.7" fill="#1a1a1a" text-anchor="start" font-family="Carlito, Liberation Sans, sans-serif" font-weight="normal" stroke="#1a1a1a" stroke-width="0.15" textLength="65.97" lengthAdjust="spacingAndGlyphs" >Effect on holding</text>
<text x="144" y="118.8" font-size="9.7" fill="#1a1a1a" text-anchor="start" font-family="Carlito, Liberation Sans, sans-serif" font-weight="normal" stroke="#1a1a1a" stroke-width="0.15" textLength="81.42" lengthAdjust="spacingAndGlyphs" >current is subtracted</text>
<line x1="285.1" y1="95.3" x2="285.1" y2="127.5" stroke="#444" stroke-width="1.2" />
<line x1="285.1" y1="127.5" x2="315.9" y2="127.5" stroke="#444" stroke-width="1.2" />
<text x="283.7" y="114.8" font-size="8.2" fill="#222" text-anchor="end" font-family="Liberation Sans, Arial, sans-serif" font-weight="normal" stroke="#222" stroke-width="0.22" >0.5 nA</text>
<text x="300.5" y="136.6" font-size="8.2" fill="#222" text-anchor="middle" font-family="Liberation Sans, Arial, sans-serif" font-weight="normal" stroke="#222" stroke-width="0.22" >10 s</text>
<text x="288.5" y="167.6" font-size="21.5" fill="#111" text-anchor="middle" font-family="Carlito, Liberation Sans, sans-serif" font-weight="normal" stroke="#111" stroke-width="0.25" textLength="60.41" lengthAdjust="spacingAndGlyphs" >ASIC1a</text>
<rect x="388.3" y="108.52" width="24.5" height="45.98" fill="#fff" stroke="#8a8a8a" stroke-width="1"/>
<rect x="418.5" y="50.55" width="24.5" height="103.95" fill="#fff" stroke="#8a8a8a" stroke-width="1"/>
<rect x="448.6" y="43.07" width="24.4" height="111.43" fill="#fff" stroke="#8a8a8a" stroke-width="1"/>
<rect x="478.5" y="60.34" width="24.2" height="94.16" fill="#fff" stroke="#8a8a8a" stroke-width="1"/>
<rect x="508.2" y="44.72" width="24.8" height="109.78" fill="#fff" stroke="#8a8a8a" stroke-width="1"/>
<line x1="400.6" y1="100.6" x2="400.6" y2="117.1" stroke="#222" stroke-width="0.8" />
<line x1="399.1" y1="100.6" x2="402.1" y2="100.6" stroke="#222" stroke-width="0.8" />
<line x1="399.1" y1="117.1" x2="402.1" y2="117.1" stroke="#222" stroke-width="0.8" />
<line x1="430.7" y1="40.1" x2="430.7" y2="58.8" stroke="#222" stroke-width="0.8" />
<line x1="429.2" y1="40.1" x2="432.2" y2="40.1" stroke="#222" stroke-width="0.8" />
<line x1="429.2" y1="58.8" x2="432.2" y2="58.8" stroke="#222" stroke-width="0.8" />
<line x1="460.8" y1="39" x2="460.8" y2="44.5" stroke="#222" stroke-width="0.8" />
<line x1="459.3" y1="39" x2="462.3" y2="39" stroke="#222" stroke-width="0.8" />
<line x1="459.3" y1="44.5" x2="462.3" y2="44.5" stroke="#222" stroke-width="0.8" />
<line x1="490.7" y1="50" x2="490.7" y2="70.9" stroke="#222" stroke-width="0.8" />
<line x1="489.2" y1="50" x2="492.2" y2="50" stroke="#222" stroke-width="0.8" />
<line x1="489.2" y1="70.9" x2="492.2" y2="70.9" stroke="#222" stroke-width="0.8" />
<line x1="520.6" y1="40.1" x2="520.6" y2="50" stroke="#222" stroke-width="0.8" />
<line x1="519.1" y1="40.1" x2="522.1" y2="40.1" stroke="#222" stroke-width="0.8" />
<line x1="519.1" y1="50" x2="522.1" y2="50" stroke="#222" stroke-width="0.8" />
<rect x="399.8" y="116.3" width="1.6" height="1.6" fill="#111"/>
<rect x="399.8" y="114.1" width="1.6" height="1.6" fill="#111"/>
<rect x="399.8" y="111.9" width="1.6" height="1.6" fill="#111"/>
<rect x="399.8" y="109.7" width="1.6" height="1.6" fill="#111"/>
<rect x="399.8" y="107.5" width="1.6" height="1.6" fill="#111"/>
<rect x="399.8" y="105.3" width="1.6" height="1.6" fill="#111"/>
<rect x="399.8" y="103.1" width="1.6" height="1.6" fill="#111"/>
<rect x="399.8" y="99.8" width="1.6" height="1.6" fill="#111"/>
<rect x="399.8" y="97.6" width="1.6" height="1.6" fill="#111"/>
<rect x="399.8" y="95.4" width="1.6" height="1.6" fill="#111"/>
<rect x="429.9" y="58" width="1.6" height="1.6" fill="#111"/>
<rect x="429.9" y="50.3" width="1.6" height="1.6" fill="#111"/>
<rect x="429.9" y="45.9" width="1.6" height="1.6" fill="#111"/>
<rect x="429.9" y="41.5" width="1.6" height="1.6" fill="#111"/>
<rect x="429.9" y="40.4" width="1.6" height="1.6" fill="#111"/>
<rect x="460" y="50.3" width="1.6" height="1.6" fill="#111"/>
<rect x="460" y="42.6" width="1.6" height="1.6" fill="#111"/>
<rect x="460" y="40.4" width="1.6" height="1.6" fill="#111"/>
<rect x="460" y="38.2" width="1.6" height="1.6" fill="#111"/>
<rect x="489.9" y="75.6" width="1.6" height="1.6" fill="#111"/>
<rect x="489.9" y="65.7" width="1.6" height="1.6" fill="#111"/>
<rect x="489.9" y="61.3" width="1.6" height="1.6" fill="#111"/>
<rect x="489.9" y="56.9" width="1.6" height="1.6" fill="#111"/>
<rect x="489.9" y="52.5" width="1.6" height="1.6" fill="#111"/>
<rect x="519.8" y="48.1" width="1.6" height="1.6" fill="#111"/>
<rect x="519.8" y="45.9" width="1.6" height="1.6" fill="#111"/>
<rect x="519.8" y="43.7" width="1.6" height="1.6" fill="#111"/>
<rect x="519.8" y="41.5" width="1.6" height="1.6" fill="#111"/>
<rect x="519.8" y="39.3" width="1.6" height="1.6" fill="#111"/>
<line x1="385.5" y1="33.5" x2="385.5" y2="155" stroke="#444" stroke-width="1" />
<line x1="385" y1="154.5" x2="540" y2="154.5" stroke="#444" stroke-width="1" />
<line x1="382.9" y1="154.5" x2="385.5" y2="154.5" stroke="#333" stroke-width="0.8" />
<text x="381.8" y="157.4" font-size="8.25" fill="#222" text-anchor="end" font-family="Liberation Sans, Arial, sans-serif" font-weight="normal" stroke="#222" stroke-width="0.22" >0.0</text>
<line x1="384" y1="143.5" x2="385.5" y2="143.5" stroke="#333" stroke-width="0.8" />
<line x1="382.9" y1="132.5" x2="385.5" y2="132.5" stroke="#333" stroke-width="0.8" />
<text x="381.8" y="135.4" font-size="8.25" fill="#222" text-anchor="end" font-family="Liberation Sans, Arial, sans-serif" font-weight="normal" stroke="#222" stroke-width="0.22" >0.2</text>
<line x1="384" y1="121.5" x2="385.5" y2="121.5" stroke="#333" stroke-width="0.8" />
<line x1="382.9" y1="110.5" x2="385.5" y2="110.5" stroke="#333" stroke-width="0.8" />
<text x="381.8" y="113.4" font-size="8.25" fill="#222" text-anchor="end" font-family="Liberation Sans, Arial, sans-serif" font-weight="normal" stroke="#222" stroke-width="0.22" >0.4</text>
<line x1="384" y1="99.5" x2="385.5" y2="99.5" stroke="#333" stroke-width="0.8" />
<line x1="382.9" y1="88.5" x2="385.5" y2="88.5" stroke="#333" stroke-width="0.8" />
<text x="381.8" y="91.4" font-size="8.25" fill="#222" text-anchor="end" font-family="Liberation Sans, Arial, sans-serif" font-weight="normal" stroke="#222" stroke-width="0.22" >0.6</text>
<line x1="384" y1="77.5" x2="385.5" y2="77.5" stroke="#333" stroke-width="0.8" />
<line x1="382.9" y1="66.5" x2="385.5" y2="66.5" stroke="#333" stroke-width="0.8" />
<text x="381.8" y="69.4" font-size="8.25" fill="#222" text-anchor="end" font-family="Liberation Sans, Arial, sans-serif" font-weight="normal" stroke="#222" stroke-width="0.22" >0.8</text>
<line x1="384" y1="55.5" x2="385.5" y2="55.5" stroke="#333" stroke-width="0.8" />
<line x1="382.9" y1="44.5" x2="385.5" y2="44.5" stroke="#333" stroke-width="0.8" />
<text x="381.8" y="47.4" font-size="8.25" fill="#222" text-anchor="end" font-family="Liberation Sans, Arial, sans-serif" font-weight="normal" stroke="#222" stroke-width="0.22" >1.0</text>
<line x1="400.55" y1="154.5" x2="400.55" y2="156.3" stroke="#555" stroke-width="0.7" />
<text x="400.55" y="164.8" font-size="7.9" fill="#222" text-anchor="middle" font-family="Liberation Sans, Arial, sans-serif" font-weight="normal" stroke="#222" stroke-width="0.22" >TPtA</text>
<line x1="430.75" y1="154.5" x2="430.75" y2="156.3" stroke="#555" stroke-width="0.7" />
<text x="430.75" y="164.8" font-size="7.9" fill="#222" text-anchor="middle" font-family="Liberation Sans, Arial, sans-serif" font-weight="normal" stroke="#222" stroke-width="0.22" >TBA</text>
<line x1="460.8" y1="154.5" x2="460.8" y2="156.3" stroke="#555" stroke-width="0.7" />
<text x="460.8" y="164.8" font-size="7.9" fill="#222" text-anchor="middle" font-family="Liberation Sans, Arial, sans-serif" font-weight="normal" stroke="#222" stroke-width="0.22" >TPrA</text>
<line x1="490.6" y1="154.5" x2="490.6" y2="156.3" stroke="#555" stroke-width="0.7" />
<text x="490.6" y="164.8" font-size="7.9" fill="#222" text-anchor="middle" font-family="Liberation Sans, Arial, sans-serif" font-weight="normal" stroke="#222" stroke-width="0.22" >TEA</text>
<line x1="520.6" y1="154.5" x2="520.6" y2="156.3" stroke="#555" stroke-width="0.7" />
<text x="520.6" y="164.8" font-size="7.9" fill="#222" text-anchor="middle" font-family="Liberation Sans, Arial, sans-serif" font-weight="normal" stroke="#222" stroke-width="0.22" >TMA</text>
<text x="456.35" y="28.65" font-size="10.2" fill="#111" text-anchor="middle" font-family="Liberation Sans, Arial, sans-serif" font-weight="normal" stroke="#111" stroke-width="0.22" >Peak current</text>
<text transform="translate(357.9,91.7) rotate(-90)" text-anchor="middle" font-size="10.8" fill="#111" stroke="#111" stroke-width="0.3" font-family="Liberation Sans, Arial, sans-serif">I<tspan font-size="7.7" dy="2.6">drug</tspan><tspan dy="-2.6"> / I</tspan><tspan font-size="7.7" dy="2.6">control</tspan></text>
<rect x="199.7" y="249.53" width="24.9" height="61.57" fill="#fff" stroke="#8a8a8a" stroke-width="1"/>
<rect x="229.9" y="222.94" width="25" height="88.16" fill="#fff" stroke="#8a8a8a" stroke-width="1"/>
<rect x="260" y="225.54" width="24.4" height="85.56" fill="#fff" stroke="#8a8a8a" stroke-width="1"/>
<rect x="289.8" y="223.63" width="24.7" height="87.47" fill="#fff" stroke="#8a8a8a" stroke-width="1"/>
<rect x="320" y="226.23" width="24.7" height="84.87" fill="#fff" stroke="#8a8a8a" stroke-width="1"/>
<line x1="212.1" y1="234.03" x2="212.1" y2="265.2" stroke="#aaa" stroke-width="0.8" />
<line x1="210.6" y1="234.03" x2="213.6" y2="234.03" stroke="#aaa" stroke-width="0.8" />
<line x1="210.6" y1="265.2" x2="213.6" y2="265.2" stroke="#aaa" stroke-width="0.8" />
<line x1="242.3" y1="209.78" x2="242.3" y2="234.89" stroke="#aaa" stroke-width="0.8" />
<line x1="240.8" y1="209.78" x2="243.8" y2="209.78" stroke="#aaa" stroke-width="0.8" />
<line x1="240.8" y1="234.89" x2="243.8" y2="234.89" stroke="#aaa" stroke-width="0.8" />
<line x1="272.2" y1="221.9" x2="272.2" y2="228.83" stroke="#aaa" stroke-width="0.8" />
<line x1="270.7" y1="221.9" x2="273.7" y2="221.9" stroke="#aaa" stroke-width="0.8" />
<line x1="270.7" y1="228.83" x2="273.7" y2="228.83" stroke="#aaa" stroke-width="0.8" />
<line x1="302.1" y1="220.17" x2="302.1" y2="227.96" stroke="#aaa" stroke-width="0.8" />
<line x1="300.6" y1="220.17" x2="303.6" y2="220.17" stroke="#aaa" stroke-width="0.8" />
<line x1="300.6" y1="227.96" x2="303.6" y2="227.96" stroke="#aaa" stroke-width="0.8" />
<line x1="332.3" y1="222.77" x2="332.3" y2="228.83" stroke="#aaa" stroke-width="0.8" />
<line x1="330.8" y1="222.77" x2="333.8" y2="222.77" stroke="#aaa" stroke-width="0.8" />
<line x1="330.8" y1="228.83" x2="333.8" y2="228.83" stroke="#aaa" stroke-width="0.8" />
<rect x="211.3" y="269.6" width="1.6" height="1.6" fill="#111"/>
<rect x="211.3" y="252.28" width="1.6" height="1.6" fill="#111"/>
<rect x="211.3" y="251.41" width="1.6" height="1.6" fill="#111"/>
<rect x="211.3" y="245.35" width="1.6" height="1.6" fill="#111"/>
<rect x="211.3" y="226.3" width="1.6" height="1.6" fill="#111"/>
<rect x="241.5" y="239.29" width="1.6" height="1.6" fill="#111"/>
<rect x="241.5" y="223.7" width="1.6" height="1.6" fill="#111"/>
<rect x="241.5" y="221.97" width="1.6" height="1.6" fill="#111"/>
<rect x="241.5" y="221.1" width="1.6" height="1.6" fill="#111"/>
<rect x="241.5" y="204.65" width="1.6" height="1.6" fill="#111"/>
<rect x="271.4" y="228.9" width="1.6" height="1.6" fill="#111"/>
<rect x="271.4" y="225.43" width="1.6" height="1.6" fill="#111"/>
<rect x="271.4" y="223.7" width="1.6" height="1.6" fill="#111"/>
<rect x="271.4" y="221.1" width="1.6" height="1.6" fill="#111"/>
<rect x="301.3" y="228.9" width="1.6" height="1.6" fill="#111"/>
<rect x="301.3" y="223.7" width="1.6" height="1.6" fill="#111"/>
<rect x="301.3" y="221.97" width="1.6" height="1.6" fill="#111"/>
<rect x="301.3" y="220.24" width="1.6" height="1.6" fill="#111"/>
<rect x="331.5" y="227.16" width="1.6" height="1.6" fill="#111"/>
<rect x="331.5" y="225.43" width="1.6" height="1.6" fill="#111"/>
<rect x="331.5" y="223.7" width="1.6" height="1.6" fill="#111"/>
<rect x="331.5" y="221.1" width="1.6" height="1.6" fill="#111"/>
<line x1="196.6" y1="188.99" x2="196.6" y2="311.6" stroke="#444" stroke-width="1" />
<line x1="196.1" y1="311.1" x2="346.5" y2="311.1" stroke="#444" stroke-width="1" />
<line x1="194" y1="311.1" x2="196.6" y2="311.1" stroke="#333" stroke-width="0.8" />
<text x="192.9" y="314" font-size="8.25" fill="#222" text-anchor="end" font-family="Liberation Sans, Arial, sans-serif" font-weight="normal" stroke="#222" stroke-width="0.22" >0.0</text>
<line x1="195.1" y1="302.44" x2="196.6" y2="302.44" stroke="#333" stroke-width="0.8" />
<line x1="194" y1="293.78" x2="196.6" y2="293.78" stroke="#333" stroke-width="0.8" />
<text x="192.9" y="296.68" font-size="8.25" fill="#222" text-anchor="end" font-family="Liberation Sans, Arial, sans-serif" font-weight="normal" stroke="#222" stroke-width="0.22" >0.2</text>
<line x1="195.1" y1="285.12" x2="196.6" y2="285.12" stroke="#333" stroke-width="0.8" />
<line x1="194" y1="276.46" x2="196.6" y2="276.46" stroke="#333" stroke-width="0.8" />
<text x="192.9" y="279.36" font-size="8.25" fill="#222" text-anchor="end" font-family="Liberation Sans, Arial, sans-serif" font-weight="normal" stroke="#222" stroke-width="0.22" >0.4</text>
<line x1="195.1" y1="267.8" x2="196.6" y2="267.8" stroke="#333" stroke-width="0.8" />
<line x1="194" y1="259.14" x2="196.6" y2="259.14" stroke="#333" stroke-width="0.8" />
<text x="192.9" y="262.04" font-size="8.25" fill="#222" text-anchor="end" font-family="Liberation Sans, Arial, sans-serif" font-weight="normal" stroke="#222" stroke-width="0.22" >0.6</text>
<line x1="195.1" y1="250.48" x2="196.6" y2="250.48" stroke="#333" stroke-width="0.8" />
<line x1="194" y1="241.82" x2="196.6" y2="241.82" stroke="#333" stroke-width="0.8" />
<text x="192.9" y="244.72" font-size="8.25" fill="#222" text-anchor="end" font-family="Liberation Sans, Arial, sans-serif" font-weight="normal" stroke="#222" stroke-width="0.22" >0.8</text>
<line x1="195.1" y1="233.16" x2="196.6" y2="233.16" stroke="#333" stroke-width="0.8" />
<line x1="194" y1="224.5" x2="196.6" y2="224.5" stroke="#333" stroke-width="0.8" />
<text x="192.9" y="227.4" font-size="8.25" fill="#222" text-anchor="end" font-family="Liberation Sans, Arial, sans-serif" font-weight="normal" stroke="#222" stroke-width="0.22" >1.0</text>
<line x1="195.1" y1="215.84" x2="196.6" y2="215.84" stroke="#333" stroke-width="0.8" />
<line x1="194" y1="207.18" x2="196.6" y2="207.18" stroke="#333" stroke-width="0.8" />
<text x="192.9" y="210.08" font-size="8.25" fill="#222" text-anchor="end" font-family="Liberation Sans, Arial, sans-serif" font-weight="normal" stroke="#222" stroke-width="0.22" >1.2</text>
<line x1="195.1" y1="198.52" x2="196.6" y2="198.52" stroke="#333" stroke-width="0.8" />
<line x1="194" y1="189.86" x2="196.6" y2="189.86" stroke="#333" stroke-width="0.8" />
<text x="192.9" y="192.76" font-size="8.25" fill="#222" text-anchor="end" font-family="Liberation Sans, Arial, sans-serif" font-weight="normal" stroke="#222" stroke-width="0.22" >1.4</text>
<line x1="212.15" y1="311.1" x2="212.15" y2="312.9" stroke="#555" stroke-width="0.7" />
<text x="212.15" y="321.4" font-size="7.9" fill="#222" text-anchor="middle" font-family="Liberation Sans, Arial, sans-serif" font-weight="normal" stroke="#222" stroke-width="0.22" >TPtA</text>
<line x1="242.4" y1="311.1" x2="242.4" y2="312.9" stroke="#555" stroke-width="0.7" />
<text x="242.4" y="321.4" font-size="7.9" fill="#222" text-anchor="middle" font-family="Liberation Sans, Arial, sans-serif" font-weight="normal" stroke="#222" stroke-width="0.22" >TBA</text>
<line x1="272.2" y1="311.1" x2="272.2" y2="312.9" stroke="#555" stroke-width="0.7" />
<text x="272.2" y="321.4" font-size="7.9" fill="#222" text-anchor="middle" font-family="Liberation Sans, Arial, sans-serif" font-weight="normal" stroke="#222" stroke-width="0.22" >TPrA</text>
<line x1="302.15" y1="311.1" x2="302.15" y2="312.9" stroke="#555" stroke-width="0.7" />
<text x="302.15" y="321.4" font-size="7.9" fill="#222" text-anchor="middle" font-family="Liberation Sans, Arial, sans-serif" font-weight="normal" stroke="#222" stroke-width="0.22" >TEA</text>
<line x1="332.35" y1="311.1" x2="332.35" y2="312.9" stroke="#555" stroke-width="0.7" />
<text x="332.35" y="321.4" font-size="7.9" fill="#222" text-anchor="middle" font-family="Liberation Sans, Arial, sans-serif" font-weight="normal" stroke="#222" stroke-width="0.22" >TMA</text>
<text x="279.3" y="200.7" font-size="10.2" fill="#111" text-anchor="middle" font-family="Liberation Sans, Arial, sans-serif" font-weight="normal" stroke="#111" stroke-width="0.22" >Peak current</text>
<text transform="translate(170.6,250.2) rotate(-90)" text-anchor="middle" font-size="10.8" fill="#111" stroke="#111" stroke-width="0.3" font-family="Liberation Sans, Arial, sans-serif">I<tspan font-size="7.7" dy="2.6">drug</tspan><tspan dy="-2.6"> / I</tspan><tspan font-size="7.7" dy="2.6">control</tspan></text>
<rect x="394.5" y="219.44" width="25" height="94.16" fill="#fff" stroke="#8a8a8a" stroke-width="1"/>
<rect x="425.2" y="210.99" width="24" height="102.61" fill="#fff" stroke="#8a8a8a" stroke-width="1"/>
<rect x="455.5" y="211.99" width="24" height="101.61" fill="#fff" stroke="#8a8a8a" stroke-width="1"/>
<rect x="485.3" y="213" width="24.2" height="100.6" fill="#fff" stroke="#8a8a8a" stroke-width="1"/>
<rect x="515.5" y="211.99" width="24" height="101.61" fill="#fff" stroke="#8a8a8a" stroke-width="1"/>
<line x1="407.1" y1="204.95" x2="407.1" y2="234.13" stroke="#aaa" stroke-width="0.8" />
<line x1="405.6" y1="204.95" x2="408.6" y2="204.95" stroke="#aaa" stroke-width="0.8" />
<line x1="405.6" y1="234.13" x2="408.6" y2="234.13" stroke="#aaa" stroke-width="0.8" />
<line x1="437.2" y1="207.97" x2="437.2" y2="216.02" stroke="#aaa" stroke-width="0.8" />
<line x1="435.7" y1="207.97" x2="438.7" y2="207.97" stroke="#aaa" stroke-width="0.8" />
<line x1="435.7" y1="216.02" x2="438.7" y2="216.02" stroke="#aaa" stroke-width="0.8" />
<line x1="467.5" y1="206.96" x2="467.5" y2="219.04" stroke="#aaa" stroke-width="0.8" />
<line x1="466" y1="206.96" x2="469" y2="206.96" stroke="#aaa" stroke-width="0.8" />
<line x1="466" y1="219.04" x2="469" y2="219.04" stroke="#aaa" stroke-width="0.8" />
<line x1="497.4" y1="208.98" x2="497.4" y2="218.03" stroke="#aaa" stroke-width="0.8" />
<line x1="495.9" y1="208.98" x2="498.9" y2="208.98" stroke="#aaa" stroke-width="0.8" />
<line x1="495.9" y1="218.03" x2="498.9" y2="218.03" stroke="#aaa" stroke-width="0.8" />
<line x1="527.5" y1="208.98" x2="527.5" y2="216.02" stroke="#aaa" stroke-width="0.8" />
<line x1="526" y1="208.98" x2="529" y2="208.98" stroke="#aaa" stroke-width="0.8" />
<line x1="526" y1="216.02" x2="529" y2="216.02" stroke="#aaa" stroke-width="0.8" />
<rect x="406.3" y="236.34" width="1.6" height="1.6" fill="#111"/>
<rect x="406.3" y="228.3" width="1.6" height="1.6" fill="#111"/>
<rect x="406.3" y="219.24" width="1.6" height="1.6" fill="#111"/>
<rect x="406.3" y="215.22" width="1.6" height="1.6" fill="#111"/>
<rect x="406.3" y="197.11" width="1.6" height="1.6" fill="#111"/>
<rect x="436.4" y="216.22" width="1.6" height="1.6" fill="#111"/>
<rect x="436.4" y="212.2" width="1.6" height="1.6" fill="#111"/>
<rect x="436.4" y="210.19" width="1.6" height="1.6" fill="#111"/>
<rect x="436.4" y="208.18" width="1.6" height="1.6" fill="#111"/>
<rect x="436.4" y="207.17" width="1.6" height="1.6" fill="#111"/>
<rect x="466.7" y="219.24" width="1.6" height="1.6" fill="#111"/>
<rect x="466.7" y="215.22" width="1.6" height="1.6" fill="#111"/>
<rect x="466.7" y="212.2" width="1.6" height="1.6" fill="#111"/>
<rect x="466.7" y="209.18" width="1.6" height="1.6" fill="#111"/>
<rect x="466.7" y="205.16" width="1.6" height="1.6" fill="#111"/>
<rect x="496.6" y="219.24" width="1.6" height="1.6" fill="#111"/>
<rect x="496.6" y="216.22" width="1.6" height="1.6" fill="#111"/>
<rect x="496.6" y="213.21" width="1.6" height="1.6" fill="#111"/>
<rect x="496.6" y="210.19" width="1.6" height="1.6" fill="#111"/>
<rect x="496.6" y="207.17" width="1.6" height="1.6" fill="#111"/>
<rect x="526.7" y="214.21" width="1.6" height="1.6" fill="#111"/>
<rect x="526.7" y="212.2" width="1.6" height="1.6" fill="#111"/>
<rect x="526.7" y="210.19" width="1.6" height="1.6" fill="#111"/>
<rect x="526.7" y="208.18" width="1.6" height="1.6" fill="#111"/>
<rect x="526.7" y="206.16" width="1.6" height="1.6" fill="#111"/>
<line x1="392.1" y1="191.87" x2="392.1" y2="314.1" stroke="#444" stroke-width="1" />
<line x1="391.6" y1="313.6" x2="541" y2="313.6" stroke="#444" stroke-width="1" />
<line x1="389.5" y1="313.6" x2="392.1" y2="313.6" stroke="#333" stroke-width="0.8" />
<text x="388.4" y="316.5" font-size="8.25" fill="#222" text-anchor="end" font-family="Liberation Sans, Arial, sans-serif" font-weight="normal" stroke="#222" stroke-width="0.22" >0.0</text>
<line x1="390.6" y1="303.54" x2="392.1" y2="303.54" stroke="#333" stroke-width="0.8" />
<line x1="389.5" y1="293.48" x2="392.1" y2="293.48" stroke="#333" stroke-width="0.8" />
<text x="388.4" y="296.38" font-size="8.25" fill="#222" text-anchor="end" font-family="Liberation Sans, Arial, sans-serif" font-weight="normal" stroke="#222" stroke-width="0.22" >0.2</text>
<line x1="390.6" y1="283.42" x2="392.1" y2="283.42" stroke="#333" stroke-width="0.8" />
<line x1="389.5" y1="273.36" x2="392.1" y2="273.36" stroke="#333" stroke-width="0.8" />
<text x="388.4" y="276.26" font-size="8.25" fill="#222" text-anchor="end" font-family="Liberation Sans, Arial, sans-serif" font-weight="normal" stroke="#222" stroke-width="0.22" >0.4</text>
<line x1="390.6" y1="263.3" x2="392.1" y2="263.3" stroke="#333" stroke-width="0.8" />
<line x1="389.5" y1="253.24" x2="392.1" y2="253.24" stroke="#333" stroke-width="0.8" />
<text x="388.4" y="256.14" font-size="8.25" fill="#222" text-anchor="end" font-family="Liberation Sans, Arial, sans-serif" font-weight="normal" stroke="#222" stroke-width="0.22" >0.6</text>
<line x1="390.6" y1="243.18" x2="392.1" y2="243.18" stroke="#333" stroke-width="0.8" />
<line x1="389.5" y1="233.12" x2="392.1" y2="233.12" stroke="#333" stroke-width="0.8" />
<text x="388.4" y="236.02" font-size="8.25" fill="#222" text-anchor="end" font-family="Liberation Sans, Arial, sans-serif" font-weight="normal" stroke="#222" stroke-width="0.22" >0.8</text>
<line x1="390.6" y1="223.06" x2="392.1" y2="223.06" stroke="#333" stroke-width="0.8" />
<line x1="389.5" y1="213" x2="392.1" y2="213" stroke="#333" stroke-width="0.8" />
<text x="388.4" y="215.9" font-size="8.25" fill="#222" text-anchor="end" font-family="Liberation Sans, Arial, sans-serif" font-weight="normal" stroke="#222" stroke-width="0.22" >1.0</text>
<line x1="390.6" y1="202.94" x2="392.1" y2="202.94" stroke="#333" stroke-width="0.8" />
<line x1="389.5" y1="192.88" x2="392.1" y2="192.88" stroke="#333" stroke-width="0.8" />
<text x="388.4" y="195.78" font-size="8.25" fill="#222" text-anchor="end" font-family="Liberation Sans, Arial, sans-serif" font-weight="normal" stroke="#222" stroke-width="0.22" >1.2</text>
<line x1="407" y1="313.6" x2="407" y2="315.4" stroke="#555" stroke-width="0.7" />
<text x="407" y="323.9" font-size="7.9" fill="#222" text-anchor="middle" font-family="Liberation Sans, Arial, sans-serif" font-weight="normal" stroke="#222" stroke-width="0.22" >TPtA</text>
<line x1="437.2" y1="313.6" x2="437.2" y2="315.4" stroke="#555" stroke-width="0.7" />
<text x="437.2" y="323.9" font-size="7.9" fill="#222" text-anchor="middle" font-family="Liberation Sans, Arial, sans-serif" font-weight="normal" stroke="#222" stroke-width="0.22" >TBA</text>
<line x1="467.5" y1="313.6" x2="467.5" y2="315.4" stroke="#555" stroke-width="0.7" />
<text x="467.5" y="323.9" font-size="7.9" fill="#222" text-anchor="middle" font-family="Liberation Sans, Arial, sans-serif" font-weight="normal" stroke="#222" stroke-width="0.22" >TPrA</text>
<line x1="497.4" y1="313.6" x2="497.4" y2="315.4" stroke="#555" stroke-width="0.7" />
<text x="497.4" y="323.9" font-size="7.9" fill="#222" text-anchor="middle" font-family="Liberation Sans, Arial, sans-serif" font-weight="normal" stroke="#222" stroke-width="0.22" >TEA</text>
<line x1="527.5" y1="313.6" x2="527.5" y2="315.4" stroke="#555" stroke-width="0.7" />
<text x="527.5" y="323.9" font-size="7.9" fill="#222" text-anchor="middle" font-family="Liberation Sans, Arial, sans-serif" font-weight="normal" stroke="#222" stroke-width="0.22" >TMA</text>
<text x="474.4" y="195.3" font-size="10.2" fill="#111" text-anchor="middle" font-family="Liberation Sans, Arial, sans-serif" font-weight="normal" stroke="#111" stroke-width="0.22" >Sustained current</text>
<text transform="translate(367.3,248.6) rotate(-90)" text-anchor="middle" font-size="10.8" fill="#111" stroke="#111" stroke-width="0.3" font-family="Liberation Sans, Arial, sans-serif">I<tspan font-size="7.7" dy="2.6">drug</tspan><tspan dy="-2.6"> / I</tspan><tspan font-size="7.7" dy="2.6">control</tspan></text>
<rect x="395.5" y="470.19" width="24.8" height="41.31" fill="#fff" stroke="#8a8a8a" stroke-width="1"/>
<rect x="425.8" y="415.55" width="24.2" height="95.95" fill="#fff" stroke="#8a8a8a" stroke-width="1"/>
<rect x="456.2" y="412.22" width="24.1" height="99.28" fill="#fff" stroke="#8a8a8a" stroke-width="1"/>
<rect x="485.7" y="438.98" width="24.3" height="72.52" fill="#fff" stroke="#8a8a8a" stroke-width="1"/>
<rect x="516.3" y="410.2" width="24.2" height="101.3" fill="#fff" stroke="#8a8a8a" stroke-width="1"/>
<line x1="407.9" y1="465.04" x2="407.9" y2="475.14" stroke="#222" stroke-width="0.8" />
<line x1="406.4" y1="465.04" x2="409.4" y2="465.04" stroke="#222" stroke-width="0.8" />
<line x1="406.4" y1="475.14" x2="409.4" y2="475.14" stroke="#222" stroke-width="0.8" />
<line x1="437.9" y1="409.49" x2="437.9" y2="422.62" stroke="#222" stroke-width="0.8" />
<line x1="436.4" y1="409.49" x2="439.4" y2="409.49" stroke="#222" stroke-width="0.8" />
<line x1="436.4" y1="422.62" x2="439.4" y2="422.62" stroke="#222" stroke-width="0.8" />
<line x1="468.2" y1="408.48" x2="468.2" y2="415.55" stroke="#222" stroke-width="0.8" />
<line x1="466.7" y1="408.48" x2="469.7" y2="408.48" stroke="#222" stroke-width="0.8" />
<line x1="466.7" y1="415.55" x2="469.7" y2="415.55" stroke="#222" stroke-width="0.8" />
<line x1="497.8" y1="432.72" x2="497.8" y2="444.84" stroke="#222" stroke-width="0.8" />
<line x1="496.3" y1="432.72" x2="499.3" y2="432.72" stroke="#222" stroke-width="0.8" />
<line x1="496.3" y1="444.84" x2="499.3" y2="444.84" stroke="#222" stroke-width="0.8" />
<line x1="528.4" y1="409.49" x2="528.4" y2="411.51" stroke="#222" stroke-width="0.8" />
<line x1="526.9" y1="409.49" x2="529.9" y2="409.49" stroke="#222" stroke-width="0.8" />
<line x1="526.9" y1="411.51" x2="529.9" y2="411.51" stroke="#222" stroke-width="0.8" />
<rect x="407.1" y="475.35" width="1.6" height="1.6" fill="#111"/>
<rect x="407.1" y="473.33" width="1.6" height="1.6" fill="#111"/>
<rect x="407.1" y="471.31" width="1.6" height="1.6" fill="#111"/>
<rect x="407.1" y="468.28" width="1.6" height="1.6" fill="#111"/>
<rect x="407.1" y="465.25" width="1.6" height="1.6" fill="#111"/>
<rect x="407.1" y="462.22" width="1.6" height="1.6" fill="#111"/>
<rect x="407.1" y="458.18" width="1.6" height="1.6" fill="#111"/>
<rect x="437.1" y="422.83" width="1.6" height="1.6" fill="#111"/>
<rect x="437.1" y="420.81" width="1.6" height="1.6" fill="#111"/>
<rect x="437.1" y="417.78" width="1.6" height="1.6" fill="#111"/>
<rect x="437.1" y="414.75" width="1.6" height="1.6" fill="#111"/>
<rect x="437.1" y="411.72" width="1.6" height="1.6" fill="#111"/>
<rect x="437.1" y="408.69" width="1.6" height="1.6" fill="#111"/>
<rect x="437.1" y="405.66" width="1.6" height="1.6" fill="#111"/>
<rect x="467.4" y="418.79" width="1.6" height="1.6" fill="#111"/>
<rect x="467.4" y="414.75" width="1.6" height="1.6" fill="#111"/>
<rect x="467.4" y="412.73" width="1.6" height="1.6" fill="#111"/>
<rect x="467.4" y="410.71" width="1.6" height="1.6" fill="#111"/>
<rect x="467.4" y="409.7" width="1.6" height="1.6" fill="#111"/>
<rect x="467.4" y="407.68" width="1.6" height="1.6" fill="#111"/>
<rect x="497" y="446.06" width="1.6" height="1.6" fill="#111"/>
<rect x="497" y="443.03" width="1.6" height="1.6" fill="#111"/>
<rect x="497" y="437.98" width="1.6" height="1.6" fill="#111"/>
<rect x="497" y="433.94" width="1.6" height="1.6" fill="#111"/>
<rect x="497" y="430.91" width="1.6" height="1.6" fill="#111"/>
<rect x="497" y="427.88" width="1.6" height="1.6" fill="#111"/>
<rect x="527.6" y="410.71" width="1.6" height="1.6" fill="#111"/>
<rect x="527.6" y="409.7" width="1.6" height="1.6" fill="#111"/>
<rect x="527.6" y="408.69" width="1.6" height="1.6" fill="#111"/>
<line x1="392.5" y1="388.78" x2="392.5" y2="512" stroke="#444" stroke-width="1" />
<line x1="392" y1="511.5" x2="542" y2="511.5" stroke="#444" stroke-width="1" />
<line x1="389.9" y1="511.5" x2="392.5" y2="511.5" stroke="#333" stroke-width="0.8" />
<text x="388.8" y="514.4" font-size="8.25" fill="#222" text-anchor="end" font-family="Liberation Sans, Arial, sans-serif" font-weight="normal" stroke="#222" stroke-width="0.22" >0.0</text>
<line x1="391" y1="501.4" x2="392.5" y2="501.4" stroke="#333" stroke-width="0.8" />
<line x1="389.9" y1="491.3" x2="392.5" y2="491.3" stroke="#333" stroke-width="0.8" />
<text x="388.8" y="494.2" font-size="8.25" fill="#222" text-anchor="end" font-family="Liberation Sans, Arial, sans-serif" font-weight="normal" stroke="#222" stroke-width="0.22" >0.2</text>
<line x1="391" y1="481.2" x2="392.5" y2="481.2" stroke="#333" stroke-width="0.8" />
<line x1="389.9" y1="471.1" x2="392.5" y2="471.1" stroke="#333" stroke-width="0.8" />
<text x="388.8" y="474" font-size="8.25" fill="#222" text-anchor="end" font-family="Liberation Sans, Arial, sans-serif" font-weight="normal" stroke="#222" stroke-width="0.22" >0.4</text>
<line x1="391" y1="461" x2="392.5" y2="461" stroke="#333" stroke-width="0.8" />
<line x1="389.9" y1="450.9" x2="392.5" y2="450.9" stroke="#333" stroke-width="0.8" />
<text x="388.8" y="453.8" font-size="8.25" fill="#222" text-anchor="end" font-family="Liberation Sans, Arial, sans-serif" font-weight="normal" stroke="#222" stroke-width="0.22" >0.6</text>
<line x1="391" y1="440.8" x2="392.5" y2="440.8" stroke="#333" stroke-width="0.8" />
<line x1="389.9" y1="430.7" x2="392.5" y2="430.7" stroke="#333" stroke-width="0.8" />
<text x="388.8" y="433.6" font-size="8.25" fill="#222" text-anchor="end" font-family="Liberation Sans, Arial, sans-serif" font-weight="normal" stroke="#222" stroke-width="0.22" >0.8</text>
<line x1="391" y1="420.6" x2="392.5" y2="420.6" stroke="#333" stroke-width="0.8" />
<line x1="389.9" y1="410.5" x2="392.5" y2="410.5" stroke="#333" stroke-width="0.8" />
<text x="388.8" y="413.4" font-size="8.25" fill="#222" text-anchor="end" font-family="Liberation Sans, Arial, sans-serif" font-weight="normal" stroke="#222" stroke-width="0.22" >1.0</text>
<line x1="391" y1="400.4" x2="392.5" y2="400.4" stroke="#333" stroke-width="0.8" />
<line x1="389.9" y1="390.3" x2="392.5" y2="390.3" stroke="#333" stroke-width="0.8" />
<text x="388.8" y="393.2" font-size="8.25" fill="#222" text-anchor="end" font-family="Liberation Sans, Arial, sans-serif" font-weight="normal" stroke="#222" stroke-width="0.22" >1.2</text>
<line x1="407.9" y1="511.5" x2="407.9" y2="513.3" stroke="#555" stroke-width="0.7" />
<text x="407.9" y="521.8" font-size="7.9" fill="#222" text-anchor="middle" font-family="Liberation Sans, Arial, sans-serif" font-weight="normal" stroke="#222" stroke-width="0.22" >TPtA</text>
<line x1="437.9" y1="511.5" x2="437.9" y2="513.3" stroke="#555" stroke-width="0.7" />
<text x="437.9" y="521.8" font-size="7.9" fill="#222" text-anchor="middle" font-family="Liberation Sans, Arial, sans-serif" font-weight="normal" stroke="#222" stroke-width="0.22" >TBA</text>
<line x1="468.25" y1="511.5" x2="468.25" y2="513.3" stroke="#555" stroke-width="0.7" />
<text x="468.25" y="521.8" font-size="7.9" fill="#222" text-anchor="middle" font-family="Liberation Sans, Arial, sans-serif" font-weight="normal" stroke="#222" stroke-width="0.22" >TPrA</text>
<line x1="497.85" y1="511.5" x2="497.85" y2="513.3" stroke="#555" stroke-width="0.7" />
<text x="497.85" y="521.8" font-size="7.9" fill="#222" text-anchor="middle" font-family="Liberation Sans, Arial, sans-serif" font-weight="normal" stroke="#222" stroke-width="0.22" >TEA</text>
<line x1="528.4" y1="511.5" x2="528.4" y2="513.3" stroke="#555" stroke-width="0.7" />
<text x="528.4" y="521.8" font-size="7.9" fill="#222" text-anchor="middle" font-family="Liberation Sans, Arial, sans-serif" font-weight="normal" stroke="#222" stroke-width="0.22" >TMA</text>
<text x="468.75" y="392.6" font-size="10.2" fill="#111" text-anchor="middle" font-family="Liberation Sans, Arial, sans-serif" font-weight="normal" stroke="#111" stroke-width="0.22" >Peak current</text>
<text transform="translate(366,451.2) rotate(-90)" text-anchor="middle" font-size="10.8" fill="#111" stroke="#111" stroke-width="0.3" font-family="Liberation Sans, Arial, sans-serif">I<tspan font-size="7.7" dy="2.6">drug</tspan><tspan dy="-2.6"> / I</tspan><tspan font-size="7.7" dy="2.6">control</tspan></text>
<rect x="201.6" y="615.6" width="24" height="93" fill="#fff" stroke="#8a8a8a" stroke-width="1"/>
<rect x="231.5" y="606.3" width="24.1" height="102.3" fill="#fff" stroke="#8a8a8a" stroke-width="1"/>
<rect x="261.6" y="602.67" width="23.9" height="105.93" fill="#fff" stroke="#8a8a8a" stroke-width="1"/>
<rect x="291.7" y="613.46" width="23.9" height="95.14" fill="#fff" stroke="#8a8a8a" stroke-width="1"/>
<rect x="321.5" y="613.46" width="24.2" height="95.14" fill="#fff" stroke="#8a8a8a" stroke-width="1"/>
<line x1="213.6" y1="603.51" x2="213.6" y2="626.76" stroke="#666" stroke-width="0.8" />
<line x1="212.1" y1="603.51" x2="215.1" y2="603.51" stroke="#666" stroke-width="0.8" />
<line x1="212.1" y1="626.76" x2="215.1" y2="626.76" stroke="#666" stroke-width="0.8" />
<line x1="243.5" y1="600.72" x2="243.5" y2="610.02" stroke="#666" stroke-width="0.8" />
<line x1="242" y1="600.72" x2="245" y2="600.72" stroke="#666" stroke-width="0.8" />
<line x1="242" y1="610.02" x2="245" y2="610.02" stroke="#666" stroke-width="0.8" />
<line x1="273.5" y1="598.86" x2="273.5" y2="606.3" stroke="#666" stroke-width="0.8" />
<line x1="272" y1="598.86" x2="275" y2="598.86" stroke="#666" stroke-width="0.8" />
<line x1="272" y1="606.3" x2="275" y2="606.3" stroke="#666" stroke-width="0.8" />
<line x1="303.6" y1="610.02" x2="303.6" y2="617.46" stroke="#666" stroke-width="0.8" />
<line x1="302.1" y1="610.02" x2="305.1" y2="610.02" stroke="#666" stroke-width="0.8" />
<line x1="302.1" y1="617.46" x2="305.1" y2="617.46" stroke="#666" stroke-width="0.8" />
<line x1="333.6" y1="609.09" x2="333.6" y2="618.39" stroke="#666" stroke-width="0.8" />
<line x1="332.1" y1="609.09" x2="335.1" y2="609.09" stroke="#666" stroke-width="0.8" />
<line x1="332.1" y1="618.39" x2="335.1" y2="618.39" stroke="#666" stroke-width="0.8" />
<rect x="212.8" y="632.47" width="1.6" height="1.6" fill="#111"/>
<rect x="212.8" y="629.68" width="1.6" height="1.6" fill="#111"/>
<rect x="212.8" y="625.96" width="1.6" height="1.6" fill="#111"/>
<rect x="212.8" y="622.24" width="1.6" height="1.6" fill="#111"/>
<rect x="212.8" y="619.45" width="1.6" height="1.6" fill="#111"/>
<rect x="212.8" y="616.66" width="1.6" height="1.6" fill="#111"/>
<rect x="212.8" y="614.8" width="1.6" height="1.6" fill="#111"/>
<rect x="212.8" y="612.94" width="1.6" height="1.6" fill="#111"/>
<rect x="212.8" y="611.08" width="1.6" height="1.6" fill="#111"/>
<rect x="212.8" y="609.22" width="1.6" height="1.6" fill="#111"/>
<rect x="212.8" y="607.36" width="1.6" height="1.6" fill="#111"/>
<rect x="212.8" y="604.57" width="1.6" height="1.6" fill="#111"/>
<rect x="212.8" y="598.99" width="1.6" height="1.6" fill="#111"/>
<rect x="212.8" y="592.48" width="1.6" height="1.6" fill="#111"/>
<rect x="242.7" y="610.15" width="1.6" height="1.6" fill="#111"/>
<rect x="242.7" y="608.29" width="1.6" height="1.6" fill="#111"/>
<rect x="242.7" y="606.43" width="1.6" height="1.6" fill="#111"/>
<rect x="242.7" y="603.64" width="1.6" height="1.6" fill="#111"/>
<rect x="242.7" y="596.2" width="1.6" height="1.6" fill="#111"/>
<rect x="272.7" y="607.36" width="1.6" height="1.6" fill="#111"/>
<rect x="272.7" y="604.57" width="1.6" height="1.6" fill="#111"/>
<rect x="272.7" y="601.78" width="1.6" height="1.6" fill="#111"/>
<rect x="272.7" y="599.92" width="1.6" height="1.6" fill="#111"/>
<rect x="272.7" y="597.13" width="1.6" height="1.6" fill="#111"/>
<rect x="302.8" y="618.52" width="1.6" height="1.6" fill="#111"/>
<rect x="302.8" y="615.73" width="1.6" height="1.6" fill="#111"/>
<rect x="302.8" y="613.87" width="1.6" height="1.6" fill="#111"/>
<rect x="302.8" y="612.01" width="1.6" height="1.6" fill="#111"/>
<rect x="302.8" y="609.22" width="1.6" height="1.6" fill="#111"/>
<rect x="302.8" y="607.36" width="1.6" height="1.6" fill="#111"/>
<rect x="332.8" y="618.52" width="1.6" height="1.6" fill="#111"/>
<rect x="332.8" y="615.73" width="1.6" height="1.6" fill="#111"/>
<rect x="332.8" y="612.94" width="1.6" height="1.6" fill="#111"/>
<rect x="332.8" y="610.15" width="1.6" height="1.6" fill="#111"/>
<rect x="332.8" y="606.43" width="1.6" height="1.6" fill="#111"/>
<line x1="198.2" y1="587.7" x2="198.2" y2="709.1" stroke="#444" stroke-width="1" />
<line x1="197.7" y1="708.6" x2="347" y2="708.6" stroke="#444" stroke-width="1" />
<line x1="195.6" y1="708.6" x2="198.2" y2="708.6" stroke="#333" stroke-width="0.8" />
<text x="194.5" y="711.5" font-size="8.25" fill="#222" text-anchor="end" font-family="Liberation Sans, Arial, sans-serif" font-weight="normal" stroke="#222" stroke-width="0.22" >0.0</text>
<line x1="196.7" y1="699.3" x2="198.2" y2="699.3" stroke="#333" stroke-width="0.8" />
<line x1="195.6" y1="690" x2="198.2" y2="690" stroke="#333" stroke-width="0.8" />
<text x="194.5" y="692.9" font-size="8.25" fill="#222" text-anchor="end" font-family="Liberation Sans, Arial, sans-serif" font-weight="normal" stroke="#222" stroke-width="0.22" >0.2</text>
<line x1="196.7" y1="680.7" x2="198.2" y2="680.7" stroke="#333" stroke-width="0.8" />
<line x1="195.6" y1="671.4" x2="198.2" y2="671.4" stroke="#333" stroke-width="0.8" />
<text x="194.5" y="674.3" font-size="8.25" fill="#222" text-anchor="end" font-family="Liberation Sans, Arial, sans-serif" font-weight="normal" stroke="#222" stroke-width="0.22" >0.4</text>
<line x1="196.7" y1="662.1" x2="198.2" y2="662.1" stroke="#333" stroke-width="0.8" />
<line x1="195.6" y1="652.8" x2="198.2" y2="652.8" stroke="#333" stroke-width="0.8" />
<text x="194.5" y="655.7" font-size="8.25" fill="#222" text-anchor="end" font-family="Liberation Sans, Arial, sans-serif" font-weight="normal" stroke="#222" stroke-width="0.22" >0.6</text>
<line x1="196.7" y1="643.5" x2="198.2" y2="643.5" stroke="#333" stroke-width="0.8" />
<line x1="195.6" y1="634.2" x2="198.2" y2="634.2" stroke="#333" stroke-width="0.8" />
<text x="194.5" y="637.1" font-size="8.25" fill="#222" text-anchor="end" font-family="Liberation Sans, Arial, sans-serif" font-weight="normal" stroke="#222" stroke-width="0.22" >0.8</text>
<line x1="196.7" y1="624.9" x2="198.2" y2="624.9" stroke="#333" stroke-width="0.8" />
<line x1="195.6" y1="615.6" x2="198.2" y2="615.6" stroke="#333" stroke-width="0.8" />
<text x="194.5" y="618.5" font-size="8.25" fill="#222" text-anchor="end" font-family="Liberation Sans, Arial, sans-serif" font-weight="normal" stroke="#222" stroke-width="0.22" >1.0</text>
<line x1="196.7" y1="606.3" x2="198.2" y2="606.3" stroke="#333" stroke-width="0.8" />
<line x1="195.6" y1="597" x2="198.2" y2="597" stroke="#333" stroke-width="0.8" />
<text x="194.5" y="599.9" font-size="8.25" fill="#222" text-anchor="end" font-family="Liberation Sans, Arial, sans-serif" font-weight="normal" stroke="#222" stroke-width="0.22" >1.2</text>
<line x1="213.6" y1="708.6" x2="213.6" y2="710.4" stroke="#555" stroke-width="0.7" />
<text x="213.6" y="718.9" font-size="7.9" fill="#222" text-anchor="middle" font-family="Liberation Sans, Arial, sans-serif" font-weight="normal" stroke="#222" stroke-width="0.22" >TPtA</text>
<line x1="243.55" y1="708.6" x2="243.55" y2="710.4" stroke="#555" stroke-width="0.7" />
<text x="243.55" y="718.9" font-size="7.9" fill="#222" text-anchor="middle" font-family="Liberation Sans, Arial, sans-serif" font-weight="normal" stroke="#222" stroke-width="0.22" >TBA</text>
<line x1="273.55" y1="708.6" x2="273.55" y2="710.4" stroke="#555" stroke-width="0.7" />
<text x="273.55" y="718.9" font-size="7.9" fill="#222" text-anchor="middle" font-family="Liberation Sans, Arial, sans-serif" font-weight="normal" stroke="#222" stroke-width="0.22" >TPrA</text>
<line x1="303.65" y1="708.6" x2="303.65" y2="710.4" stroke="#555" stroke-width="0.7" />
<text x="303.65" y="718.9" font-size="7.9" fill="#222" text-anchor="middle" font-family="Liberation Sans, Arial, sans-serif" font-weight="normal" stroke="#222" stroke-width="0.22" >TEA</text>
<line x1="333.6" y1="708.6" x2="333.6" y2="710.4" stroke="#555" stroke-width="0.7" />
<text x="333.6" y="718.9" font-size="7.9" fill="#222" text-anchor="middle" font-family="Liberation Sans, Arial, sans-serif" font-weight="normal" stroke="#222" stroke-width="0.22" >TMA</text>
<text x="290.25" y="591.7" font-size="10.2" fill="#111" text-anchor="middle" font-family="Liberation Sans, Arial, sans-serif" font-weight="normal" stroke="#111" stroke-width="0.22" >Peak current</text>
<text transform="translate(173.8,653.5) rotate(-90)" text-anchor="middle" font-size="10.8" fill="#111" stroke="#111" stroke-width="0.3" font-family="Liberation Sans, Arial, sans-serif">I<tspan font-size="7.7" dy="2.6">drug</tspan><tspan dy="-2.6"> / I</tspan><tspan font-size="7.7" dy="2.6">control</tspan></text>
<rect x="398.3" y="615.39" width="24.3" height="94.21" fill="#fff" stroke="#8a8a8a" stroke-width="1"/>
<rect x="428.2" y="664.75" width="23.8" height="44.85" fill="#fff" stroke="#8a8a8a" stroke-width="1"/>
<rect x="458" y="673.3" width="24" height="36.3" fill="#fff" stroke="#8a8a8a" stroke-width="1"/>
<rect x="488.2" y="677.3" width="24" height="32.3" fill="#fff" stroke="#8a8a8a" stroke-width="1"/>
<rect x="518" y="678.39" width="24.5" height="31.21" fill="#fff" stroke="#8a8a8a" stroke-width="1"/>
<line x1="410.4" y1="599.74" x2="410.4" y2="631.34" stroke="#aaa" stroke-width="0.8" />
<line x1="408.9" y1="599.74" x2="411.9" y2="599.74" stroke="#aaa" stroke-width="0.8" />
<line x1="408.9" y1="631.34" x2="411.9" y2="631.34" stroke="#aaa" stroke-width="0.8" />
<line x1="440.1" y1="662.34" x2="440.1" y2="667.46" stroke="#aaa" stroke-width="0.8" />
<line x1="438.6" y1="662.34" x2="441.6" y2="662.34" stroke="#aaa" stroke-width="0.8" />
<line x1="438.6" y1="667.46" x2="441.6" y2="667.46" stroke="#aaa" stroke-width="0.8" />
<line x1="470" y1="671.67" x2="470" y2="674.99" stroke="#aaa" stroke-width="0.8" />
<line x1="468.5" y1="671.67" x2="471.5" y2="671.67" stroke="#aaa" stroke-width="0.8" />
<line x1="468.5" y1="674.99" x2="471.5" y2="674.99" stroke="#aaa" stroke-width="0.8" />
<line x1="500.2" y1="675.89" x2="500.2" y2="678.9" stroke="#aaa" stroke-width="0.8" />
<line x1="498.7" y1="675.89" x2="501.7" y2="675.89" stroke="#aaa" stroke-width="0.8" />
<line x1="498.7" y1="678.9" x2="501.7" y2="678.9" stroke="#aaa" stroke-width="0.8" />
<line x1="530.2" y1="675.29" x2="530.2" y2="680.7" stroke="#aaa" stroke-width="0.8" />
<line x1="528.7" y1="675.29" x2="531.7" y2="675.29" stroke="#aaa" stroke-width="0.8" />
<line x1="528.7" y1="680.7" x2="531.7" y2="680.7" stroke="#aaa" stroke-width="0.8" />
<rect x="409.6" y="650.71" width="1.6" height="1.6" fill="#111"/>
<rect x="409.6" y="637.46" width="1.6" height="1.6" fill="#111"/>
<rect x="409.6" y="627.53" width="1.6" height="1.6" fill="#111"/>
<rect x="409.6" y="621.51" width="1.6" height="1.6" fill="#111"/>
<rect x="409.6" y="618.5" width="1.6" height="1.6" fill="#111"/>
<rect x="409.6" y="615.49" width="1.6" height="1.6" fill="#111"/>
<rect x="409.6" y="612.48" width="1.6" height="1.6" fill="#111"/>
<rect x="409.6" y="609.47" width="1.6" height="1.6" fill="#111"/>
<rect x="409.6" y="606.46" width="1.6" height="1.6" fill="#111"/>
<rect x="409.6" y="603.45" width="1.6" height="1.6" fill="#111"/>
<rect x="409.6" y="589.6" width="1.6" height="1.6" fill="#111"/>
<rect x="439.3" y="667.56" width="1.6" height="1.6" fill="#111"/>
<rect x="439.3" y="665.76" width="1.6" height="1.6" fill="#111"/>
<rect x="439.3" y="663.65" width="1.6" height="1.6" fill="#111"/>
<rect x="439.3" y="662.15" width="1.6" height="1.6" fill="#111"/>
<rect x="439.3" y="661.24" width="1.6" height="1.6" fill="#111"/>
<rect x="469.2" y="674.49" width="1.6" height="1.6" fill="#111"/>
<rect x="469.2" y="673.28" width="1.6" height="1.6" fill="#111"/>
<rect x="469.2" y="672.08" width="1.6" height="1.6" fill="#111"/>
<rect x="469.2" y="671.18" width="1.6" height="1.6" fill="#111"/>
<rect x="499.4" y="677.8" width="1.6" height="1.6" fill="#111"/>
<rect x="499.4" y="676.89" width="1.6" height="1.6" fill="#111"/>
<rect x="499.4" y="675.99" width="1.6" height="1.6" fill="#111"/>
<rect x="499.4" y="675.09" width="1.6" height="1.6" fill="#111"/>
<rect x="529.4" y="679.6" width="1.6" height="1.6" fill="#111"/>
<rect x="529.4" y="678.1" width="1.6" height="1.6" fill="#111"/>
<rect x="529.4" y="676.89" width="1.6" height="1.6" fill="#111"/>
<rect x="529.4" y="675.69" width="1.6" height="1.6" fill="#111"/>
<rect x="529.4" y="674.19" width="1.6" height="1.6" fill="#111"/>
<line x1="395.4" y1="588" x2="395.4" y2="710.1" stroke="#444" stroke-width="1" />
<line x1="394.9" y1="709.6" x2="543.5" y2="709.6" stroke="#444" stroke-width="1" />
<line x1="392.8" y1="709.6" x2="395.4" y2="709.6" stroke="#333" stroke-width="0.8" />
<text x="391.7" y="712.5" font-size="8.25" fill="#222" text-anchor="end" font-family="Liberation Sans, Arial, sans-serif" font-weight="normal" stroke="#222" stroke-width="0.22" >0.0</text>
<line x1="393.9" y1="702.08" x2="395.4" y2="702.08" stroke="#333" stroke-width="0.8" />
<line x1="392.8" y1="694.55" x2="395.4" y2="694.55" stroke="#333" stroke-width="0.8" />
<text x="391.7" y="697.45" font-size="8.25" fill="#222" text-anchor="end" font-family="Liberation Sans, Arial, sans-serif" font-weight="normal" stroke="#222" stroke-width="0.22" >0.5</text>
<line x1="393.9" y1="687.02" x2="395.4" y2="687.02" stroke="#333" stroke-width="0.8" />
<line x1="392.8" y1="679.5" x2="395.4" y2="679.5" stroke="#333" stroke-width="0.8" />
<text x="391.7" y="682.4" font-size="8.25" fill="#222" text-anchor="end" font-family="Liberation Sans, Arial, sans-serif" font-weight="normal" stroke="#222" stroke-width="0.22" >1.0</text>
<line x1="393.9" y1="671.98" x2="395.4" y2="671.98" stroke="#333" stroke-width="0.8" />
<line x1="392.8" y1="664.45" x2="395.4" y2="664.45" stroke="#333" stroke-width="0.8" />
<text x="391.7" y="667.35" font-size="8.25" fill="#222" text-anchor="end" font-family="Liberation Sans, Arial, sans-serif" font-weight="normal" stroke="#222" stroke-width="0.22" >1.5</text>
<line x1="393.9" y1="656.93" x2="395.4" y2="656.93" stroke="#333" stroke-width="0.8" />
<line x1="392.8" y1="649.4" x2="395.4" y2="649.4" stroke="#333" stroke-width="0.8" />
<text x="391.7" y="652.3" font-size="8.25" fill="#222" text-anchor="end" font-family="Liberation Sans, Arial, sans-serif" font-weight="normal" stroke="#222" stroke-width="0.22" >2.0</text>
<line x1="393.9" y1="641.88" x2="395.4" y2="641.88" stroke="#333" stroke-width="0.8" />
<line x1="392.8" y1="634.35" x2="395.4" y2="634.35" stroke="#333" stroke-width="0.8" />
<text x="391.7" y="637.25" font-size="8.25" fill="#222" text-anchor="end" font-family="Liberation Sans, Arial, sans-serif" font-weight="normal" stroke="#222" stroke-width="0.22" >2.5</text>
<line x1="393.9" y1="626.83" x2="395.4" y2="626.83" stroke="#333" stroke-width="0.8" />
<line x1="392.8" y1="619.3" x2="395.4" y2="619.3" stroke="#333" stroke-width="0.8" />
<text x="391.7" y="622.2" font-size="8.25" fill="#222" text-anchor="end" font-family="Liberation Sans, Arial, sans-serif" font-weight="normal" stroke="#222" stroke-width="0.22" >3.0</text>
<line x1="393.9" y1="611.77" x2="395.4" y2="611.77" stroke="#333" stroke-width="0.8" />
<line x1="392.8" y1="604.25" x2="395.4" y2="604.25" stroke="#333" stroke-width="0.8" />
<text x="391.7" y="607.15" font-size="8.25" fill="#222" text-anchor="end" font-family="Liberation Sans, Arial, sans-serif" font-weight="normal" stroke="#222" stroke-width="0.22" >3.5</text>
<line x1="393.9" y1="596.73" x2="395.4" y2="596.73" stroke="#333" stroke-width="0.8" />
<line x1="392.8" y1="589.2" x2="395.4" y2="589.2" stroke="#333" stroke-width="0.8" />
<text x="391.7" y="592.1" font-size="8.25" fill="#222" text-anchor="end" font-family="Liberation Sans, Arial, sans-serif" font-weight="normal" stroke="#222" stroke-width="0.22" >4.0</text>
<line x1="410.45" y1="709.6" x2="410.45" y2="711.4" stroke="#555" stroke-width="0.7" />
<text x="410.45" y="719.9" font-size="7.9" fill="#222" text-anchor="middle" font-family="Liberation Sans, Arial, sans-serif" font-weight="normal" stroke="#222" stroke-width="0.22" >TPtA</text>
<line x1="440.1" y1="709.6" x2="440.1" y2="711.4" stroke="#555" stroke-width="0.7" />
<text x="440.1" y="719.9" font-size="7.9" fill="#222" text-anchor="middle" font-family="Liberation Sans, Arial, sans-serif" font-weight="normal" stroke="#222" stroke-width="0.22" >TBA</text>
<line x1="470" y1="709.6" x2="470" y2="711.4" stroke="#555" stroke-width="0.7" />
<text x="470" y="719.9" font-size="7.9" fill="#222" text-anchor="middle" font-family="Liberation Sans, Arial, sans-serif" font-weight="normal" stroke="#222" stroke-width="0.22" >TPrA</text>
<line x1="500.2" y1="709.6" x2="500.2" y2="711.4" stroke="#555" stroke-width="0.7" />
<text x="500.2" y="719.9" font-size="7.9" fill="#222" text-anchor="middle" font-family="Liberation Sans, Arial, sans-serif" font-weight="normal" stroke="#222" stroke-width="0.22" >TEA</text>
<line x1="530.25" y1="709.6" x2="530.25" y2="711.4" stroke="#555" stroke-width="0.7" />
<text x="530.25" y="719.9" font-size="7.9" fill="#222" text-anchor="middle" font-family="Liberation Sans, Arial, sans-serif" font-weight="normal" stroke="#222" stroke-width="0.22" >TMA</text>
<text x="476.75" y="601" font-size="10.2" fill="#111" text-anchor="middle" font-family="Liberation Sans, Arial, sans-serif" font-weight="normal" stroke="#111" stroke-width="0.22" >Sustained current</text>
<text transform="translate(365.8,658.5) rotate(-90)" text-anchor="middle" font-size="10.8" fill="#111" stroke="#111" stroke-width="0.3" font-family="Liberation Sans, Arial, sans-serif">I<tspan font-size="7.7" dy="2.6">drug</tspan><tspan dy="-2.6"> / I</tspan><tspan font-size="7.7" dy="2.6">control</tspan></text>
<text x="293.4" y="360.8" font-size="21.5" fill="#111" text-anchor="middle" font-family="Carlito, Liberation Sans, sans-serif" font-weight="normal" stroke="#111" stroke-width="0.25" textLength="60.41" lengthAdjust="spacingAndGlyphs" >ASIC2a</text>
<text x="304" y="544.8" font-size="21.5" fill="#111" text-anchor="middle" font-family="Carlito, Liberation Sans, sans-serif" font-weight="normal" stroke="#111" stroke-width="0.25" textLength="108.63" lengthAdjust="spacingAndGlyphs" >Native ASICs</text>
<text x="294.1" y="762.8" font-size="21.5" fill="#111" text-anchor="middle" font-family="Carlito, Liberation Sans, sans-serif" font-weight="normal" stroke="#111" stroke-width="0.25" textLength="50.11" lengthAdjust="spacingAndGlyphs" >ASIC3</text>
<text x="82.3" y="197" font-size="8.3" fill="#222" text-anchor="middle" font-family="Liberation Sans, Arial, sans-serif" font-weight="normal" stroke="#222" stroke-width="0.22" >pH 5.0</text>
<line x1="19" y1="200.1" x2="132.9" y2="200.1" stroke="#8a8a8a" stroke-width="1.8" />
<path d="M5 202.9 L5.4 202.9 L5.8 202.9 L6.2 202.9 L6.6 202.9 L7 202.9 L7.4 202.9 L7.8 202.9 L8.2 202.9 L8.6 202.9 L9 202.9 L9.4 202.9 L9.8 202.9 L10.2 202.9 L10.6 202.9 L11 202.9 L11.4 202.9 L11.8 202.9 L12.2 202.9 L12.6 202.9 L13 202.9 L13.4 202.9 L13.8 202.9 L14.2 202.9 L14.6 202.9 L15 202.9 L15.4 202.9 L15.8 202.9 L16.2 202.9 L16.3 202.9 L16.6 216.88 L17 235.52 L17.4 254.16 L17.8 272.8 L18.2 291.44 L18.3 296.1 L18.6 293.97 L19 291.21 L19.4 288.34 L19.8 285.88 L20.2 283.63 L20.6 281.06 L21 278.53 L21.4 276.27 L21.8 274.78 L22.2 272.35 L22.6 270.2 L23 267.57 L23.4 266.29 L23.8 264.41 L24.2 262.85 L24.6 260.86 L25 259.08 L25.4 257.57 L25.8 255.5 L26.2 254.57 L26.6 252.96 L27 251.32 L27.4 250.35 L27.8 249.11 L28.2 247.17 L28.6 246.07 L29 245.05 L29.4 243.86 L29.8 242.61 L30.2 241.39 L30.6 240.95 L31 239.71 L31.4 238.27 L31.8 237.27 L32.2 236.95 L32.6 235.91 L33 235.2 L33.4 234.15 L33.8 233 L34.2 232.43 L34.6 231.18 L35 230.73 L35.4 230.15 L35.8 229.57 L36.2 228.65 L36.6 228.12 L37 227.6 L37.4 226.98 L37.8 226.44 L38.2 225.78 L38.6 225.12 L39 224.81 L39.4 224.14 L39.8 223.47 L40.2 223.02 L40.6 222.67 L41 222.2 L41.4 221.81 L41.8 221.35 L42.2 220.97 L42.6 220.51 L43 219.9 L43.4 219.86 L43.8 219.62 L44.2 219.15 L44.6 218.68 L45 218.48 L45.4 217.87 L45.8 217.38 L46.2 217.47 L46.6 216.98 L47 217.03 L47.4 216.4 L47.8 215.82 L48.2 215.89 L48.6 216.16 L49 215.53 L49.4 215.1 L49.8 215 L50.2 215.03 L50.6 214.82 L51 214.55 L51.4 214.61 L51.8 214.26 L52.2 213.93 L52.6 213.87 L53 213.91 L53.4 213.6 L53.8 213.45 L54.2 212.87 L54.6 212.9 L55 212.93 L55.4 212.58 L55.8 212.71 L56.2 212.48 L56.6 212.41 L57 212.06 L57.4 212.48 L57.8 212.1 L58.2 211.69 L58.6 211.64 L59 212.03 L59.4 211.34 L59.8 211.48 L60.2 211.4 L60.6 211.1 L61 210.77 L61.4 210.95 L61.8 210.9 L62.2 210.97 L62.6 210.81 L63 210.58 L63.4 210.67 L63.8 210.53 L64.2 210.39 L64.6 210.28 L65 210.15 L65.4 210.27 L65.8 209.86 L66.2 209.88 L66.6 209.94 L67 209.59 L67.4 209.73 L67.8 209.36 L68.2 209.57 L68.6 209.77 L69 209.71 L69.4 209.54 L69.8 209.45 L70.2 209.17 L70.6 209.77 L71 209.46 L71.4 209.53 L71.8 209.09 L72.2 209.19 L72.6 208.82 L73 209.3 L73.4 209.3 L73.8 208.69 L74.2 209.03 L74.6 209.13 L75 208.61 L75.4 208.57 L75.8 208.69 L76.2 208.74 L76.6 208.56 L77 208.81 L77.4 208.83 L77.8 208.87 L78.2 208.86 L78.6 208.99 L79 208.9 L79.4 208.38 L79.8 208.51 L80.2 208.38 L80.6 208.35 L81 208.53 L81.4 208.52 L81.8 208.59 L82.2 208.16 L82.6 208.21 L83 208.43 L83.4 208.37 L83.8 208.33 L84.2 208.36 L84.6 208.2 L85 208.48 L85.4 208.39 L85.8 208.28 L86.2 208.15 L86.6 208.23 L87 207.71 L87.4 208.04 L87.8 208.23 L88.2 207.9 L88.6 208.23 L89 208.2 L89.4 207.88 L89.8 208.1 L90.2 208.07 L90.6 208.21 L91 208.23 L91.4 208.09 L91.8 207.91 L92.2 208.04 L92.6 208.04 L93 208.19 L93.4 208.09 L93.8 207.88 L94.2 207.74 L94.6 207.93 L95 207.84 L95.4 207.76 L95.8 207.95 L96.2 207.86 L96.6 207.97 L97 208.04 L97.4 207.85 L97.8 208.39 L98.2 207.85 L98.6 208.12 L99 207.92 L99.4 208.11 L99.8 207.4 L100.2 207.72 L100.6 207.91 L101 207.97 L101.4 208.31 L101.8 207.9 L102.2 208.09 L102.6 207.98 L103 208 L103.4 207.91 L103.8 207.77 L104.2 207.9 L104.6 207.57 L105 208.02 L105.4 207.57 L105.8 207.82 L106.2 208.18 L106.6 207.71 L107 207.75 L107.4 207.97 L107.8 207.74 L108.2 207.57 L108.6 207.78 L109 207.83 L109.4 207.85 L109.8 207.55 L110.2 208.05 L110.6 208.03 L111 207.69 L111.4 207.74 L111.8 207.59 L112.2 207.96 L112.6 207.53 L113 207.8 L113.4 207.56 L113.8 207.52 L114.2 207.79 L114.6 207.91 L115 207.64 L115.4 207.5 L115.8 207.79 L116.2 207.62 L116.6 207.69 L117 207.92 L117.4 207.84 L117.8 207.51 L118.2 208.06 L118.6 207.6 L119 207.76 L119.4 207.47 L119.8 207.58 L120.2 207.24 L120.6 207.94 L121 207.85 L121.4 207.33 L121.8 207.27 L122.2 207.24 L122.6 207.8 L123 207.47 L123.4 207.55 L123.8 207.49 L124.2 207.53 L124.6 207.33 L125 207.55 L125.4 207.25 L125.8 207.52 L126.2 207.6 L126.6 207.62 L127 207.48 L127.4 207.34 L127.8 207.55 L128.2 207.42 L128.6 207.83 L129 207.67 L129.4 207.49 L129.8 207.41 L130.2 207.36 L130.6 207.31 L131 207.43 L131.4 207.55 L131.8 207.6 L132.2 207.6 L132.6 207.91 L133 207.34 L133.3 207.48 L133.4 207.21 L133.8 204.21 L134.2 203.55 L134.6 203.27 L135 203.08 L135.4 203.05 L135.8 202.88 L136.2 202.99 L136.6 202.92 L137 203.06 L137.4 202.52 L137.8 202.72 L138.2 202.9 L138.6 202.69 L139 202.69 L139.4 203.03 L139.8 202.77 L140.2 203.03 L140.6 203.05 L141 202.96 L141.4 203 L141.8 202.88 L142.2 202.62 L142.6 202.89 L143 202.99 L143.4 202.79 L143.8 202.88 L144.2 203.05 L144.6 202.72 L145 203.03 L145.4 203.27 L145.8 202.79 L146.2 202.93 L146.6 202.87 L147 203.21 L147.4 202.96 L147.8 203.08 L148.2 202.76 L148.6 202.9 L149 202.9 L149.4 202.54 L149.8 203.19 L150.2 203.08 L150.6 202.55 L151 203.05 L151.4 202.87 L151.8 202.99 L152.2 202.97 L152.6 202.6 L153 202.86 L153.4 203.2 L153.8 202.79 L154.2 202.7 L154.6 202.63" fill="none" stroke="#333" stroke-width="1.0" stroke-linejoin="round" />
<path d="M5 202.9 L5.4 202.9 L5.8 202.9 L6.2 202.9 L6.6 202.9 L7 202.9 L7.4 202.9 L7.8 202.9 L8.2 202.9 L8.6 202.9 L9 202.9 L9.4 202.9 L9.8 202.9 L10.2 202.9 L10.6 202.9 L11 202.9 L11.4 202.9 L11.8 202.9 L12.2 202.9 L12.6 202.9 L13 202.9 L13.4 202.9 L13.8 202.9 L14.2 202.9 L14.6 202.9 L15 202.9 L15.4 202.9 L15.8 202.9 L16 202.9 L16.2 213.49 L16.6 228.4 L17 241.27 L17.4 253.12 L17.8 264.3 L18 269.7 L18.2 269.7 L18.5 269.7 L18.6 269.23 L19 267.38 L19.4 265.41 L19.8 263.91 L20.2 262.43 L20.6 260.61 L21 259 L21.4 257.77 L21.8 255.87 L22.2 254.41 L22.6 253.2 L23 251.85 L23.4 250.31 L23.8 249.02 L24.2 248.01 L24.6 246.81 L25 245.43 L25.4 244.47 L25.8 243.34 L26.2 242.44 L26.6 241.33 L27 240.35 L27.4 239.35 L27.8 238.64 L28.2 237.79 L28.6 236.65 L29 235.99 L29.4 234.93 L29.8 234.26 L30.2 233.59 L30.6 232.96 L31 231.95 L31.4 231.29 L31.8 230.65 L32.2 229.74 L32.6 229.33 L33 228.6 L33.4 228.16 L33.8 227.35 L34.2 226.66 L34.6 226.41 L35 225.92 L35.4 225.28 L35.8 224.99 L36.2 224.33 L36.6 223.81 L37 223.52 L37.4 222.77 L37.8 222.48 L38.2 222.16 L38.6 221.88 L39 221.34 L39.4 221.03 L39.8 220.52 L40.2 220.3 L40.6 220.16 L41 219.47 L41.4 219.6 L41.8 218.83 L42.2 218.62 L42.6 218.35 L43 218.19 L43.4 217.57 L43.8 217.16 L44.2 217.31 L44.6 217.08 L45 216.8 L45.4 216.86 L45.8 216.26 L46.2 216.04 L46.6 215.92 L47 215.62 L47.4 215.61 L47.8 214.97 L48.2 214.9 L48.6 214.25 L49 214.7 L49.4 214.34 L49.8 214.36 L50.2 214.37 L50.6 213.88 L51 213.69 L51.4 213.49 L51.8 213.29 L52.2 213.17 L52.6 213.22 L53 212.99 L53.4 212.86 L53.8 212.69 L54.2 212.73 L54.6 212.54 L55 212.32 L55.4 212.33 L55.8 212.09 L56.2 211.83 L56.6 212.11 L57 211.86 L57.4 211.54 L57.8 211.75 L58.2 211.54 L58.6 211.16 L59 211.55 L59.4 211.27 L59.8 211.26 L60.2 211.07 L60.6 210.94 L61 210.65 L61.4 210.95 L61.8 210.73 L62.2 210.61 L62.6 210.63 L63 210.52 L63.4 210.55 L63.8 210.32 L64.2 210.31 L64.6 209.93 L65 210.12 L65.4 210.23 L65.8 210.27 L66.2 209.96 L66.6 209.94 L67 210.14 L67.4 209.8 L67.8 209.91 L68.2 210 L68.6 209.7 L69 209.84 L69.4 209.5 L69.8 209.59 L70.2 209.5 L70.6 209.49 L71 209.6 L71.4 209.75 L71.8 209.25 L72.2 209.22 L72.6 209.34 L73 209.07 L73.4 209.27 L73.8 209.24 L74.2 209.08 L74.6 209.17 L75 208.82 L75.4 209.14 L75.8 208.76 L76.2 208.85 L76.6 208.85 L77 208.84 L77.4 209 L77.8 208.85 L78.2 208.75 L78.6 208.87 L79 209 L79.4 208.73 L79.8 208.76 L80.2 208.87 L80.6 208.7 L81 208.44 L81.4 208.98 L81.8 208.92 L82.2 208.26 L82.6 208.53 L83 208.58 L83.4 208.64 L83.8 208.58 L84.2 208.41 L84.6 208.28 L85 208.43 L85.4 208.55 L85.8 208.21 L86.2 208.2 L86.6 208.33 L87 208.03 L87.4 208.26 L87.8 208.22 L88.2 208.34 L88.6 208.15 L89 208.1 L89.4 208.16 L89.8 208.19 L90.2 208.09 L90.6 208.17 L91 208.27 L91.4 208.32 L91.8 208.38 L92.2 207.99 L92.6 208.03 L93 207.71 L93.4 208.35 L93.8 207.95 L94.2 208.04 L94.6 208.11 L95 207.81 L95.4 208.07 L95.8 207.99 L96.2 207.71 L96.6 208.01 L97 208.13 L97.4 207.66 L97.8 208.05 L98.2 207.95 L98.6 207.98 L99 207.96 L99.4 208.08 L99.8 207.84 L100.2 208 L100.6 207.79 L101 207.95 L101.4 207.71 L101.8 207.81 L102.2 208.07 L102.6 207.87 L103 207.77 L103.4 207.61 L103.8 207.66 L104.2 207.8 L104.6 207.9 L105 207.81 L105.4 207.82 L105.8 207.73 L106.2 207.93 L106.6 207.66 L107 207.62 L107.4 207.83 L107.8 207.7 L108.2 207.64 L108.6 207.59 L109 207.63 L109.4 207.75 L109.8 207.7 L110.2 207.46 L110.6 207.7 L111 207.65 L111.4 207.47 L111.8 207.73 L112.2 207.56 L112.6 207.55 L113 207.71 L113.4 207.78 L113.8 207.47 L114.2 207.64 L114.6 207.43 L115 207.9 L115.4 207.48 L115.8 207.72 L116.2 207.44 L116.6 207.65 L117 207.86 L117.4 207.14 L117.8 207.45 L118.2 207.58 L118.6 207.48 L119 207.39 L119.4 207.81 L119.8 207.49 L120.2 207.23 L120.6 207.6 L121 207.21 L121.4 207.63 L121.8 207.37 L122.2 207.47 L122.6 207.63 L123 207.45 L123.4 207.22 L123.8 207.17 L124.2 207.6 L124.6 207.53 L125 207.29 L125.4 207.53 L125.8 207.47 L126.2 207.49 L126.6 207.05 L127 207.34 L127.4 207.51 L127.8 207.48 L128.2 207.5 L128.6 207 L129 207.39 L129.4 207.43 L129.8 207.73 L130.2 207.2 L130.6 207.29 L131 207.34 L131.4 207.47 L131.8 207.26 L132.2 207.5 L132.6 207.2 L133 207.36 L133.3 207.23 L133.4 206.54 L133.8 204.42 L134.2 203.39 L134.6 203.39 L135 203.09 L135.4 202.88 L135.8 202.96 L136.2 203.06 L136.6 202.76 L137 202.89 L137.4 202.98 L137.8 202.98 L138.2 202.85 L138.6 202.58 L139 203.09 L139.4 202.95 L139.8 202.9 L140.2 202.86 L140.6 202.94 L141 202.84 L141.4 202.75 L141.8 202.79 L142.2 202.81 L142.6 202.81 L143 202.73 L143.4 203 L143.8 202.7 L144.2 203 L144.6 202.75 L145 202.95 L145.4 203.11 L145.8 202.93 L146.2 202.79 L146.6 202.91 L147 202.92 L147.4 202.64 L147.8 202.81 L148.2 202.92 L148.6 202.83 L149 202.91 L149.4 203.01 L149.8 203.01 L150.2 203.04 L150.6 202.99 L151 202.86 L151.4 202.9 L151.8 202.86 L152.2 202.85 L152.6 202.87 L153 202.64 L153.4 202.85 L153.8 202.9 L154.2 202.75 L154.6 202.9" fill="none" stroke="#ff0000" stroke-width="1.0" stroke-linejoin="round" />
<text x="91.6" y="222.6" font-size="8.3" fill="#ff0000" text-anchor="middle" font-family="Liberation Sans, Arial, sans-serif" font-weight="normal" stroke="#ff0000" stroke-width="0.22" >TPtA 5 mM</text>
<line x1="73.6" y1="252.1" x2="73.6" y2="268.4" stroke="#333" stroke-width="1.2" />
<line x1="73.6" y1="268.4" x2="97.6" y2="268.4" stroke="#333" stroke-width="1.2" />
<text x="72" y="263.3" font-size="7.0" fill="#222" text-anchor="end" font-family="Liberation Sans, Arial, sans-serif" font-weight="normal" stroke="#222" stroke-width="0.22" >0.5 nA</text>
<text x="86" y="276.3" font-size="6.6" fill="#222" text-anchor="middle" font-family="Liberation Sans, Arial, sans-serif" font-weight="normal" stroke="#222" stroke-width="0.22" >10 s</text>
<text x="79.3" y="393.3" font-size="8.3" fill="#222" text-anchor="middle" font-family="Liberation Sans, Arial, sans-serif" font-weight="normal" stroke="#222" stroke-width="0.22" >pH 6.5</text>
<line x1="44.8" y1="398.3" x2="115" y2="398.3" stroke="#333" stroke-width="1.3" />
<line x1="149.85" y1="410.15" x2="149.85" y2="406.51" stroke="#666" stroke-width="0.6" opacity="0.55"/>
<line x1="17.62" y1="409.7" x2="17.62" y2="417.23" stroke="#666" stroke-width="0.6" opacity="0.55"/>
<line x1="129.54" y1="410.62" x2="129.54" y2="406.4" stroke="#666" stroke-width="0.6" opacity="0.55"/>
<line x1="140.11" y1="410.33" x2="140.11" y2="401.57" stroke="#666" stroke-width="0.6" opacity="0.55"/>
<line x1="144.65" y1="410.24" x2="144.65" y2="402.97" stroke="#666" stroke-width="0.6" opacity="0.55"/>
<line x1="115.5" y1="411.35" x2="115.5" y2="407.49" stroke="#666" stroke-width="0.6" opacity="0.55"/>
<line x1="60.16" y1="447.19" x2="60.16" y2="442.81" stroke="#666" stroke-width="0.6" opacity="0.55"/>
<line x1="141.73" y1="410.29" x2="141.73" y2="401.81" stroke="#666" stroke-width="0.6" opacity="0.55"/>
<line x1="75.93" y1="423.37" x2="75.93" y2="417.11" stroke="#666" stroke-width="0.6" opacity="0.55"/>
<line x1="145.23" y1="410.22" x2="145.23" y2="403.47" stroke="#666" stroke-width="0.6" opacity="0.55"/>
<line x1="99.77" y1="413.19" x2="99.77" y2="407.93" stroke="#666" stroke-width="0.6" opacity="0.55"/>
<line x1="13.21" y1="409.7" x2="13.21" y2="403.98" stroke="#666" stroke-width="0.6" opacity="0.55"/>
<line x1="102.87" y1="412.69" x2="102.87" y2="405.45" stroke="#666" stroke-width="0.6" opacity="0.55"/>
<line x1="141.56" y1="410.3" x2="141.56" y2="402.44" stroke="#666" stroke-width="0.6" opacity="0.55"/>
<line x1="122.56" y1="410.92" x2="122.56" y2="403.92" stroke="#666" stroke-width="0.6" opacity="0.55"/>
<line x1="61.49" y1="443.73" x2="61.49" y2="437.17" stroke="#666" stroke-width="0.6" opacity="0.55"/>
<line x1="94.42" y1="414.37" x2="94.42" y2="409.49" stroke="#666" stroke-width="0.6" opacity="0.55"/>
<line x1="87.79" y1="416.42" x2="87.79" y2="408.86" stroke="#666" stroke-width="0.6" opacity="0.55"/>
<path d="M7.7 405.83 L8.2 405.79 L8.7 406.2 L9.2 406.16 L9.7 406.44 L10.2 406.23 L10.7 406.48 L11.2 404.92 L11.7 405.65 L12.2 406.42 L12.7 405.59 L13.2 406.59 L13.7 404.13 L14.2 406.14 L14.7 404.21 L15.2 405.5 L15.7 406.47 L16.2 404.56 L16.7 406.51 L17.2 405.64 L17.7 405.75 L18.2 405.74 L18.7 406.43 L19.2 406.39 L19.7 404.91 L20.2 406.57 L20.7 406.28 L21.2 406.58 L21.7 405.69 L22.2 406.25 L22.7 405.11 L23.2 406.47 L23.7 405.76 L24.2 406.13 L24.7 405.87 L25.2 405.78 L25.7 406.34 L26.2 406.03 L26.7 404.37 L27.2 406.49 L27.7 406.32 L28.2 405.33 L28.7 406.03 L29.2 406.42 L29.7 406.18 L30.2 405.81 L30.7 405.42 L31.2 403.55 L31.7 404.44 L32.2 405.87 L32.7 405.34 L33.2 405.61 L33.7 405.15 L34.2 405.86 L34.7 405.19 L35.2 406.53 L35.7 406.68 L36.2 406.67 L36.7 406.43 L37.2 406.59 L37.7 406.4 L38.2 406 L38.7 406.18 L39.2 406.38 L39.7 405.26 L40.2 405.46 L40.7 406.26 L41.2 405.43 L41.7 404.85 L42.2 406.49 L42.7 405.89 L43.2 405.62 L43.7 405.53 L44.2 405.69 L44.7 405.02 L45.2 405.99 L45.6 404.61 L45.7 409.65 L46.2 423.28 L46.7 439.8 L47.2 454.19 L47.7 469.34 L48.2 485.02 L48.3 488.22 L48.7 485.91 L49.2 483.09 L49.7 480.24 L50.2 478.81 L50.7 476.07 L51.2 473.69 L51.7 469.73 L52.2 468.04 L52.7 466.91 L53.2 465.53 L53.7 462.22 L54.2 461.52 L54.7 459.48 L55.2 456.82 L55.7 453.92 L56.2 453.6 L56.7 452.92 L57.2 449.39 L57.7 450.36 L58.2 449.04 L58.7 447.22 L59.2 446.66 L59.7 443.36 L60.2 442.78 L60.7 442.77 L61.2 441.11 L61.7 440 L62.2 439.22 L62.7 437.26 L63.2 436.46 L63.7 434.78 L64.2 433.94 L64.7 431.53 L65.2 432.15 L65.7 432.16 L66.2 430.86 L66.7 429.84 L67.2 430.36 L67.7 429.6 L68.2 429.16 L68.7 427.57 L69.2 427.54 L69.7 425.43 L70.2 425 L70.7 424.57 L71.2 424.23 L71.7 424.01 L72.2 423.88 L72.7 423.04 L73.2 423.01 L73.7 422.08 L74.2 421.62 L74.7 419.69 L75.2 420.95 L75.7 420.1 L76.2 420.23 L76.7 419.72 L77.2 419.26 L77.7 418.81 L78.2 418.64 L78.7 417.08 L79.2 416.37 L79.7 416.75 L80.2 414.36 L80.7 415.24 L81.2 416.4 L81.7 414.92 L82.2 414.73 L82.7 415.64 L83.2 414.44 L83.7 415.4 L84.2 414.29 L84.7 411.82 L85.2 414.02 L85.7 412.61 L86.2 413.08 L86.7 412.17 L87.2 412.68 L87.7 412.61 L88.2 412.32 L88.7 411.68 L89.2 411.34 L89.7 412.21 L90.2 411.83 L90.7 412.01 L91.2 411.5 L91.7 410.44 L92.2 409.65 L92.7 409.82 L93.2 411.12 L93.7 409.75 L94.2 410.31 L94.7 410.19 L95.2 410.36 L95.7 410.62 L96.2 408.92 L96.7 410.81 L97.2 410.47 L97.7 410.09 L98.2 410.5 L98.7 410.07 L99.2 410.29 L99.7 408.39 L100.2 409.36 L100.7 409.3 L101.2 408.51 L101.7 409.6 L102.2 408.49 L102.7 408.7 L103.2 409.53 L103.7 409.61 L104.2 409.11 L104.7 409.13 L105.2 408.93 L105.7 408.52 L106.2 406.99 L106.7 407.5 L107.2 408.79 L107.7 407.58 L108.2 408.62 L108.7 408.3 L109.2 408.56 L109.7 407.65 L110.2 406.01 L110.7 408.68 L111.2 407.95 L111.7 406.62 L112.2 407.8 L112.7 404.6 L113.2 408.3 L113.7 407.94 L114.2 408.23 L114.7 408.15 L115.2 407.87 L115.7 405.88 L116.2 407.12 L116.7 408.23 L117.2 406.88 L117.7 407.44 L118.2 407.18 L118.7 407.69 L119.2 406.81 L119.7 407.32 L120.2 407.83 L120.7 406.2 L121.2 407.79 L121.7 407.33 L122.2 407.71 L122.7 406.27 L123.2 406.79 L123.7 407.6 L124.2 407.64 L124.7 406.45 L125.2 407.03 L125.7 406.82 L126.2 406.71 L126.7 406.65 L127.2 407.34 L127.7 405.76 L128.2 407.22 L128.7 407.62 L129.2 406.7 L129.7 406.68 L130.2 405.99 L130.7 407.08 L131.2 406.11 L131.7 407.32 L132.2 405.37 L132.7 406.69 L133.2 405.91 L133.7 406.91 L134.2 404 L134.7 407.17 L135.2 405.71 L135.7 406.88 L136.2 406.65 L136.7 406.44 L137.2 407.12 L137.7 403.33 L138.2 406.19 L138.7 406.39 L139.2 405.71 L139.7 407.09 L140.2 406.63 L140.7 406.66 L141.2 406.42 L141.7 406.99 L142.2 406.29 L142.7 405.06 L143.2 405.45 L143.7 406.74 L144.2 404.59 L144.7 407.04 L145.2 407.19 L145.7 406.37 L146.2 406.11 L146.7 406.58 L147.2 403.6 L147.7 407.11 L148.2 406.92 L148.7 407.08 L149.2 405.04 L149.7 406.19 L150.2 407.12 L150.7 405.93 L151.2 405.53 L151.7 405.53 L152.2 406.15 L152.7 406.02 L153.2 405.52 L153.7 405.57 L154.2 404.92 L154.7 406.01 L155.2 405.75 L155.7 406.97 L156.2 406.26 L156.7 406.09 L157.2 406.09 L157.2 415.22 L156.7 413.37 L156.2 414.48 L155.7 413.33 L155.2 414.49 L154.7 413.57 L154.2 413.32 L153.7 413.85 L153.2 413.25 L152.7 413.75 L152.2 413.27 L151.7 413.9 L151.2 413.8 L150.7 415.13 L150.2 413.87 L149.7 414.04 L149.2 413.82 L148.7 415.56 L148.2 414.81 L147.7 413.86 L147.2 414.07 L146.7 414.16 L146.2 414.54 L145.7 414.69 L145.2 413.32 L144.7 413.69 L144.2 413.47 L143.7 413.62 L143.2 415.66 L142.7 414.6 L142.2 413.83 L141.7 414.73 L141.2 414.39 L140.7 413.38 L140.2 414.01 L139.7 413.59 L139.2 414.96 L138.7 414.8 L138.2 416.32 L137.7 413.49 L137.2 414 L136.7 414.7 L136.2 413.6 L135.7 414.47 L135.2 414.1 L134.7 413.6 L134.2 413.69 L133.7 416.05 L133.2 413.62 L132.7 415.45 L132.2 414.52 L131.7 414.51 L131.2 414.05 L130.7 416.31 L130.2 413.77 L129.7 414.14 L129.2 415.49 L128.7 414.91 L128.2 413.76 L127.7 415.6 L127.2 415.29 L126.7 414.48 L126.2 414.03 L125.7 414.18 L125.2 414.75 L124.7 415.59 L124.2 415.84 L123.7 414.88 L123.2 413.92 L122.7 415.5 L122.2 415.3 L121.7 416.51 L121.2 414.21 L120.7 415.69 L120.2 414.37 L119.7 414.22 L119.2 416.62 L118.7 414.79 L118.2 415.03 L117.7 414.93 L117.2 414.46 L116.7 416.9 L116.2 416.08 L115.7 416.77 L115.2 415.38 L114.7 415.35 L114.2 416.17 L113.7 415.39 L113.2 415.9 L112.7 415.8 L112.2 414.81 L111.7 415 L111.2 417.19 L110.7 415.76 L110.2 416.37 L109.7 416.04 L109.2 415.27 L108.7 416.19 L108.2 415.6 L107.7 416.51 L107.2 415.5 L106.7 417.4 L106.2 415.97 L105.7 417.65 L105.2 415.77 L104.7 415.97 L104.2 416.49 L103.7 417.02 L103.2 416.67 L102.7 417.1 L102.2 418.13 L101.7 419.65 L101.2 418.52 L100.7 418.52 L100.2 418.11 L99.7 417.01 L99.2 416.4 L98.7 417.12 L98.2 417.3 L97.7 417.17 L97.2 417.04 L96.7 419.52 L96.2 417.05 L95.7 418.3 L95.2 418.43 L94.7 417.67 L94.2 417.93 L93.7 417.64 L93.2 418.94 L92.7 418.17 L92.2 419.02 L91.7 420.92 L91.2 420.27 L90.7 419.76 L90.2 419.76 L89.7 420.45 L89.2 419.39 L88.7 419.81 L88.2 420.13 L87.7 420.17 L87.2 420.03 L86.7 422.2 L86.2 420.77 L85.7 420.67 L85.2 425.5 L84.7 421.33 L84.2 421.22 L83.7 421.81 L83.2 423.12 L82.7 423.15 L82.2 422.96 L81.7 422.88 L81.2 425.41 L80.7 428.29 L80.2 424.82 L79.7 424.18 L79.2 425.53 L78.7 424.95 L78.2 425.77 L77.7 425.79 L77.2 426.8 L76.7 427.67 L76.2 427.15 L75.7 426.81 L75.2 428.36 L74.7 429.36 L74.2 428.68 L73.7 430.04 L73.2 430.44 L72.7 430.34 L72.2 431.11 L71.7 431.74 L71.2 431.89 L70.7 432.22 L70.2 433.7 L69.7 435.34 L69.2 433.83 L68.7 435.38 L68.2 436 L67.7 436.61 L67.2 437.59 L66.7 438.75 L66.2 438.29 L65.7 439.6 L65.2 441.15 L64.7 442.3 L64.2 442.61 L63.7 443.94 L63.2 444.47 L62.7 444.8 L62.2 446.96 L61.7 447.29 L61.2 449.05 L60.7 451.24 L60.2 451.9 L59.7 451.9 L59.2 453.18 L58.7 454.14 L58.2 456.32 L57.7 458.44 L57.2 458.48 L56.7 460.93 L56.2 464.09 L55.7 464.34 L55.2 465.46 L54.7 467.78 L54.2 469.33 L53.7 470.39 L53.2 472.34 L52.7 474.46 L52.2 476.3 L51.7 478.42 L51.2 481.57 L50.7 483.13 L50.2 486.3 L49.7 488.44 L49.2 491.95 L48.7 493.15 L48.3 495.84 L48.2 492.11 L47.7 479.75 L47.2 462.59 L46.7 448.04 L46.2 431.13 L45.7 416.16 L45.6 414.93 L45.2 414.53 L44.7 414.03 L44.2 412.75 L43.7 414.9 L43.2 413.99 L42.7 413.08 L42.2 414.82 L41.7 413.93 L41.2 413.37 L40.7 412.99 L40.2 414.32 L39.7 414 L39.2 413.51 L38.7 412.96 L38.2 412.91 L37.7 413.14 L37.2 412.88 L36.7 413.46 L36.2 412.82 L35.7 416.01 L35.2 413.7 L34.7 416.02 L34.2 413.94 L33.7 413.13 L33.2 413 L32.7 413.25 L32.2 414.11 L31.7 414.05 L31.2 414.01 L30.7 415.27 L30.2 413.01 L29.7 413.04 L29.2 413.45 L28.7 413.34 L28.2 414.48 L27.7 412.93 L27.2 412.96 L26.7 415.71 L26.2 412.75 L25.7 413.53 L25.2 414.13 L24.7 412.77 L24.2 413.57 L23.7 413.51 L23.2 412.93 L22.7 414.99 L22.2 414.12 L21.7 413.11 L21.2 413.88 L20.7 413.52 L20.2 413.84 L19.7 413.07 L19.2 415.82 L18.7 413.37 L18.2 413.61 L17.7 412.71 L17.2 413.04 L16.7 413.22 L16.2 412.86 L15.7 415.15 L15.2 413.41 L14.7 413.61 L14.2 414.94 L13.7 414.1 L13.2 413.92 L12.7 413.69 L12.2 412.73 L11.7 412.96 L11.2 414.81 L10.7 414.1 L10.2 413.91 L9.7 414.36 L9.2 413.29 L8.7 413.46 L8.2 414.72 L7.7 412.82 Z" fill="#111" stroke="#111" stroke-width="0.3" />
<line x1="57.62" y1="419.14" x2="57.62" y2="415.31" stroke="#f55" stroke-width="0.6" opacity="0.55"/>
<line x1="153.31" y1="409.81" x2="153.31" y2="417.72" stroke="#f55" stroke-width="0.6" opacity="0.55"/>
<line x1="97.39" y1="410.43" x2="97.39" y2="417.92" stroke="#f55" stroke-width="0.6" opacity="0.55"/>
<line x1="10.02" y1="409.7" x2="10.02" y2="402.89" stroke="#f55" stroke-width="0.6" opacity="0.55"/>
<line x1="53.84" y1="423.51" x2="53.84" y2="414.64" stroke="#f55" stroke-width="0.6" opacity="0.55"/>
<line x1="44.49" y1="409.7" x2="44.49" y2="402.43" stroke="#f55" stroke-width="0.6" opacity="0.55"/>
<line x1="97.67" y1="410.43" x2="97.67" y2="402.49" stroke="#f55" stroke-width="0.6" opacity="0.55"/>
<line x1="50.05" y1="431.56" x2="50.05" y2="426.29" stroke="#f55" stroke-width="0.6" opacity="0.55"/>
<line x1="31.21" y1="409.7" x2="31.21" y2="404.61" stroke="#f55" stroke-width="0.6" opacity="0.55"/>
<line x1="28.73" y1="409.7" x2="28.73" y2="414.01" stroke="#f55" stroke-width="0.6" opacity="0.55"/>
<line x1="153.52" y1="409.81" x2="153.52" y2="417.07" stroke="#f55" stroke-width="0.6" opacity="0.55"/>
<line x1="144.31" y1="409.85" x2="144.31" y2="403.41" stroke="#f55" stroke-width="0.6" opacity="0.55"/>
<line x1="88.43" y1="410.75" x2="88.43" y2="402.87" stroke="#f55" stroke-width="0.6" opacity="0.55"/>
<line x1="37.66" y1="409.7" x2="37.66" y2="418.32" stroke="#f55" stroke-width="0.6" opacity="0.55"/>
<line x1="42.69" y1="409.7" x2="42.69" y2="413.52" stroke="#f55" stroke-width="0.6" opacity="0.55"/>
<line x1="66.83" y1="413.54" x2="66.83" y2="418.18" stroke="#f55" stroke-width="0.6" opacity="0.55"/>
<line x1="119.99" y1="410.03" x2="119.99" y2="404" stroke="#f55" stroke-width="0.6" opacity="0.55"/>
<line x1="20.81" y1="409.7" x2="20.81" y2="401.95" stroke="#f55" stroke-width="0.6" opacity="0.55"/>
<line x1="42.51" y1="409.7" x2="42.51" y2="416.07" stroke="#f55" stroke-width="0.6" opacity="0.55"/>
<line x1="132.28" y1="409.92" x2="132.28" y2="403.8" stroke="#f55" stroke-width="0.6" opacity="0.55"/>
<line x1="95.8" y1="410.47" x2="95.8" y2="405.8" stroke="#f55" stroke-width="0.6" opacity="0.55"/>
<line x1="21.48" y1="409.7" x2="21.48" y2="414.79" stroke="#f55" stroke-width="0.6" opacity="0.55"/>
<line x1="94.09" y1="410.54" x2="94.09" y2="404.82" stroke="#f55" stroke-width="0.6" opacity="0.55"/>
<line x1="85.02" y1="410.93" x2="85.02" y2="406.08" stroke="#f55" stroke-width="0.6" opacity="0.55"/>
<line x1="145.63" y1="409.84" x2="145.63" y2="404.28" stroke="#f55" stroke-width="0.6" opacity="0.55"/>
<line x1="23.56" y1="409.7" x2="23.56" y2="415.75" stroke="#f55" stroke-width="0.6" opacity="0.55"/>
<line x1="19.92" y1="409.7" x2="19.92" y2="402.92" stroke="#f55" stroke-width="0.6" opacity="0.55"/>
<line x1="59.27" y1="417.38" x2="59.27" y2="424.22" stroke="#f55" stroke-width="0.6" opacity="0.55"/>
<line x1="21.77" y1="409.7" x2="21.77" y2="400.75" stroke="#f55" stroke-width="0.6" opacity="0.55"/>
<line x1="137.18" y1="409.89" x2="137.18" y2="403.16" stroke="#f55" stroke-width="0.6" opacity="0.55"/>
<line x1="39.63" y1="409.7" x2="39.63" y2="403.86" stroke="#f55" stroke-width="0.6" opacity="0.55"/>
<line x1="149.2" y1="409.82" x2="149.2" y2="417.83" stroke="#f55" stroke-width="0.6" opacity="0.55"/>
<line x1="151.74" y1="409.81" x2="151.74" y2="401.67" stroke="#f55" stroke-width="0.6" opacity="0.55"/>
<line x1="58.36" y1="418.2" x2="58.36" y2="412.62" stroke="#f55" stroke-width="0.6" opacity="0.55"/>
<path d="M7.7 406.84 L8.2 407.05 L8.7 406.03 L9.2 405.96 L9.7 405.17 L10.2 406.94 L10.7 405.53 L11.2 405.88 L11.7 405.66 L12.2 405.36 L12.7 406.98 L13.2 406.68 L13.7 406.8 L14.2 406.44 L14.7 405.2 L15.2 405.9 L15.7 406.47 L16.2 407.07 L16.7 406.54 L17.2 406.32 L17.7 406.95 L18.2 405.51 L18.7 405.98 L19.2 405 L19.7 406.77 L20.2 406.97 L20.7 406.88 L21.2 407.02 L21.7 406.43 L22.2 406.72 L22.7 405.47 L23.2 406.96 L23.7 407.02 L24.2 405.95 L24.7 406.4 L25.2 406.58 L25.7 406.43 L26.2 407.08 L26.7 407.09 L27.2 405.77 L27.7 405.74 L28.2 406.58 L28.7 406.15 L29.2 406.92 L29.7 406.35 L30.2 406.48 L30.7 406.31 L31.2 406.36 L31.7 406.32 L32.2 405.03 L32.7 406.22 L33.2 406.4 L33.7 405.57 L34.2 406.17 L34.7 406.06 L35.2 405.52 L35.7 405.87 L36.2 406.45 L36.7 405.94 L37.2 405.91 L37.7 406.65 L38.2 404.62 L38.7 406.22 L39.2 406.66 L39.7 406.71 L40.2 407.05 L40.7 406.23 L41.2 406.95 L41.7 407.05 L42.2 406.61 L42.7 406.5 L43.2 406.43 L43.7 407.04 L44.2 406.47 L44.7 405.1 L45.2 406.47 L45.5 406.57 L45.7 410.57 L46.2 419.33 L46.7 428.82 L47.2 437.12 L47.7 436.35 L48.2 434.32 L48.7 431.49 L49.2 431.68 L49.7 429.81 L50.2 427.86 L50.7 427.4 L51.2 425.86 L51.7 424.46 L52.2 423.22 L52.7 422.17 L53.2 421.41 L53.7 421.12 L54.2 420.65 L54.7 419.72 L55.2 419.38 L55.7 416.14 L56.2 417.47 L56.7 417.28 L57.2 417 L57.7 415.8 L58.2 415.26 L58.7 414.94 L59.2 414.19 L59.7 413.17 L60.2 413.85 L60.7 413.97 L61.2 413.03 L61.7 412.57 L62.2 411.91 L62.7 412.77 L63.2 410.91 L63.7 411.7 L64.2 411.32 L64.7 411.58 L65.2 411.48 L65.7 411.24 L66.2 410.6 L66.7 410.67 L67.2 410.13 L67.7 409.04 L68.2 409.92 L68.7 410.4 L69.2 409.76 L69.7 409.04 L70.2 409.13 L70.7 408.17 L71.2 409.71 L71.7 408.13 L72.2 409.47 L72.7 409.14 L73.2 408.86 L73.7 408.22 L74.2 409.07 L74.7 408.5 L75.2 407.7 L75.7 409.07 L76.2 407.2 L76.7 408.81 L77.2 407.94 L77.7 408.32 L78.2 408.41 L78.7 408.16 L79.2 407.23 L79.7 406.88 L80.2 407.82 L80.7 408.09 L81.2 408.56 L81.7 408.03 L82.2 408.15 L82.7 407.84 L83.2 405.77 L83.7 407.3 L84.2 406.88 L84.7 408.01 L85.2 406.57 L85.7 407.41 L86.2 406.84 L86.7 406.43 L87.2 407.85 L87.7 408.12 L88.2 407.71 L88.7 407.56 L89.2 407.06 L89.7 406.17 L90.2 407.72 L90.7 406.09 L91.2 406.15 L91.7 407.04 L92.2 407.88 L92.7 407.53 L93.2 407.84 L93.7 406.87 L94.2 406.15 L94.7 407.63 L95.2 407.41 L95.7 407.33 L96.2 406.69 L96.7 407.12 L97.2 407.42 L97.7 407.08 L98.2 405.47 L98.7 406.95 L99.2 405.52 L99.7 407.5 L100.2 407.71 L100.7 406.98 L101.2 407 L101.7 406.52 L102.2 407 L102.7 407.54 L103.2 406.82 L103.7 407.37 L104.2 407.15 L104.7 407.32 L105.2 407.49 L105.7 406.54 L106.2 406.18 L106.7 406.76 L107.2 407.23 L107.7 407.28 L108.2 406.67 L108.7 406.76 L109.2 407.48 L109.7 406.86 L110.2 407.02 L110.7 406.59 L111.2 405.61 L111.7 406.07 L112.2 406.12 L112.7 407.36 L113.2 407.05 L113.7 406.25 L114.2 407.29 L114.7 407.34 L115.2 407.17 L115.7 407.43 L116.2 406.82 L116.7 406.71 L117.2 406.63 L117.7 406.11 L118.2 406.74 L118.7 406.37 L119.2 406.57 L119.7 407.36 L120.2 406.39 L120.7 406.68 L121.2 407.16 L121.7 406.91 L122.2 407.01 L122.7 406.56 L123.2 406.39 L123.7 406.32 L124.2 406.91 L124.7 407.35 L125.2 407.04 L125.7 406.56 L126.2 406.92 L126.7 405.95 L127.2 407.2 L127.7 406.32 L128.2 404.59 L128.7 405.26 L129.2 407.05 L129.7 407.25 L130.2 404.67 L130.7 407 L131.2 405.39 L131.7 406.82 L132.2 405.7 L132.7 405.78 L133.2 406.31 L133.7 406.33 L134.2 407.21 L134.7 407.05 L135.2 406.89 L135.7 407 L136.2 406.56 L136.7 407.23 L137.2 406.81 L137.7 407.16 L138.2 406.93 L138.7 406.78 L139.2 404.93 L139.7 406.34 L140.2 405.38 L140.7 406.24 L141.2 406.11 L141.7 406.58 L142.2 406.28 L142.7 406.81 L143.2 405.18 L143.7 407.1 L144.2 406.12 L144.7 406.58 L145.2 407 L145.7 405.63 L146.2 407.19 L146.7 406.41 L147.2 405.76 L147.7 406.79 L148.2 407.05 L148.7 406.25 L149.2 406.31 L149.7 406.94 L150.2 406.56 L150.7 406.68 L151.2 405.39 L151.7 406.96 L152.2 406.33 L152.7 407.04 L153.2 406.74 L153.7 406.04 L154.2 406.22 L154.7 407.01 L155.2 406.67 L155.7 406.93 L156.2 406.35 L156.7 406.94 L157.2 406.83 L157.2 413.76 L156.7 413.31 L156.2 413.11 L155.7 413.93 L155.2 413.17 L154.7 413.54 L154.2 413.88 L153.7 412.7 L153.2 413.77 L152.7 412.59 L152.2 412.89 L151.7 413.09 L151.2 413.69 L150.7 414.18 L150.2 413.45 L149.7 416.71 L149.2 412.67 L148.7 413.97 L148.2 414.42 L147.7 413.2 L147.2 413.77 L146.7 413.63 L146.2 412.68 L145.7 413.02 L145.2 413.89 L144.7 413.82 L144.2 412.76 L143.7 413.82 L143.2 413.97 L142.7 413.65 L142.2 413.38 L141.7 412.87 L141.2 412.9 L140.7 413.17 L140.2 413.96 L139.7 413.03 L139.2 414.06 L138.7 413.05 L138.2 413.4 L137.7 414.5 L137.2 414.44 L136.7 413.29 L136.2 413.21 L135.7 412.62 L135.2 413.99 L134.7 412.88 L134.2 412.64 L133.7 412.62 L133.2 412.8 L132.7 414.08 L132.2 414.22 L131.7 412.68 L131.2 413.59 L130.7 414.17 L130.2 414.04 L129.7 412.55 L129.2 412.58 L128.7 413.07 L128.2 412.77 L127.7 413.55 L127.2 413.67 L126.7 415.39 L126.2 412.59 L125.7 413.92 L125.2 414.71 L124.7 413.66 L124.2 414.49 L123.7 413.15 L123.2 413.69 L122.7 412.94 L122.2 413.57 L121.7 413.52 L121.2 413.62 L120.7 412.84 L120.2 413.59 L119.7 412.7 L119.2 413.01 L118.7 414.39 L118.2 413.89 L117.7 412.96 L117.2 413.85 L116.7 413.09 L116.2 413.21 L115.7 412.71 L115.2 412.98 L114.7 414.48 L114.2 413.02 L113.7 413.46 L113.2 412.91 L112.7 413.63 L112.2 413.06 L111.7 413.68 L111.2 413.79 L110.7 414.71 L110.2 414.84 L109.7 414.26 L109.2 413.44 L108.7 413.42 L108.2 413.49 L107.7 413.4 L107.2 413.49 L106.7 413.57 L106.2 412.92 L105.7 412.94 L105.2 413.17 L104.7 413.39 L104.2 413.16 L103.7 414.88 L103.2 413.83 L102.7 414.18 L102.2 413.44 L101.7 413.82 L101.2 414.29 L100.7 413.61 L100.2 413.01 L99.7 413.35 L99.2 415.08 L98.7 413.03 L98.2 413.3 L97.7 414.03 L97.2 413.12 L96.7 415.07 L96.2 413.39 L95.7 413.62 L95.2 413.68 L94.7 413.22 L94.2 413.38 L93.7 413.85 L93.2 413.47 L92.7 413.21 L92.2 414.19 L91.7 413.41 L91.2 413.38 L90.7 413.41 L90.2 413.54 L89.7 413.91 L89.2 415.21 L88.7 414.89 L88.2 413.66 L87.7 414.78 L87.2 414.22 L86.7 413.51 L86.2 413.74 L85.7 413.99 L85.2 414.76 L84.7 414.45 L84.2 414.35 L83.7 415.25 L83.2 413.73 L82.7 414.81 L82.2 414.85 L81.7 415.92 L81.2 413.82 L80.7 414.09 L80.2 414.85 L79.7 414.67 L79.2 415.27 L78.7 414.46 L78.2 414.13 L77.7 414.69 L77.2 415.73 L76.7 415.71 L76.2 415.59 L75.7 414.52 L75.2 414.55 L74.7 415.12 L74.2 414.68 L73.7 414.8 L73.2 415.24 L72.7 415.7 L72.2 416.15 L71.7 415.32 L71.2 415.12 L70.7 415.29 L70.2 416.84 L69.7 415.71 L69.2 416.17 L68.7 416.98 L68.2 416.03 L67.7 416.42 L67.2 416.33 L66.7 416.61 L66.2 418.52 L65.7 417.22 L65.2 417.14 L64.7 418.89 L64.2 417.54 L63.7 418.91 L63.2 418.24 L62.7 419.12 L62.2 419.19 L61.7 418.86 L61.2 420.22 L60.7 419.91 L60.2 419.99 L59.7 420.75 L59.2 421.1 L58.7 421.43 L58.2 421.7 L57.7 421.75 L57.2 423.05 L56.7 424.11 L56.2 425.51 L55.7 424.23 L55.2 425.14 L54.7 426.25 L54.2 426.64 L53.7 427.27 L53.2 429.6 L52.7 430.02 L52.2 430.26 L51.7 431.64 L51.2 432.05 L50.7 433.57 L50.2 434.2 L49.7 435.63 L49.2 437.29 L48.7 439.88 L48.2 440.51 L47.7 442.77 L47.2 445.03 L46.7 435.13 L46.2 425.92 L45.7 416.76 L45.5 412.5 L45.2 413.14 L44.7 412.81 L44.2 412.97 L43.7 412.42 L43.2 413.06 L42.7 413.88 L42.2 414.24 L41.7 414.68 L41.2 413.53 L40.7 412.77 L40.2 412.88 L39.7 414.61 L39.2 413.57 L38.7 414.14 L38.2 412.51 L37.7 412.68 L37.2 413.19 L36.7 412.71 L36.2 414.05 L35.7 412.88 L35.2 412.92 L34.7 415.32 L34.2 412.38 L33.7 412.39 L33.2 412.37 L32.7 412.52 L32.2 413.63 L31.7 413.05 L31.2 412.86 L30.7 413.07 L30.2 412.59 L29.7 413.55 L29.2 413.8 L28.7 413.67 L28.2 412.56 L27.7 413.87 L27.2 413.45 L26.7 414.19 L26.2 414.82 L25.7 412.45 L25.2 412.78 L24.7 412.92 L24.2 413.12 L23.7 413.29 L23.2 412.6 L22.7 413.33 L22.2 413.26 L21.7 412.32 L21.2 413.09 L20.7 414.07 L20.2 413.7 L19.7 412.68 L19.2 412.54 L18.7 412.82 L18.2 412.92 L17.7 412.82 L17.2 412.73 L16.7 413.04 L16.2 413.59 L15.7 414.39 L15.2 413.32 L14.7 412.7 L14.2 415.29 L13.7 413.65 L13.2 413.33 L12.7 412.5 L12.2 414.19 L11.7 413.5 L11.2 413.15 L10.7 412.73 L10.2 413.59 L9.7 412.37 L9.2 412.5 L8.7 412.78 L8.2 412.8 L7.7 413.01 Z" fill="#ff0000" stroke="#ff0000" stroke-width="0.3" />
<text x="115.9" y="432.9" font-size="8.3" fill="#ff0000" text-anchor="middle" font-family="Liberation Sans, Arial, sans-serif" font-weight="normal" stroke="#ff0000" stroke-width="0.22" >TPtA 5 mM</text>
<line x1="83.3" y1="454.5" x2="83.3" y2="484.3" stroke="#444" stroke-width="1.1" />
<line x1="83.3" y1="484.3" x2="122.6" y2="484.3" stroke="#444" stroke-width="1.1" />
<text x="82.6" y="472.2" font-size="6.9" fill="#222" text-anchor="end" font-family="Liberation Sans, Arial, sans-serif" font-weight="normal" stroke="#222" stroke-width="0.22" >50 pA</text>
<text x="103.4" y="493.1" font-size="7.4" fill="#222" text-anchor="middle" font-family="Liberation Sans, Arial, sans-serif" font-weight="normal" stroke="#222" stroke-width="0.22" >5 s</text>
<text x="269.3" y="392.4" font-size="8.3" fill="#222" text-anchor="middle" font-family="Liberation Sans, Arial, sans-serif" font-weight="normal" stroke="#222" stroke-width="0.22" >pH 6.5</text>
<line x1="231.5" y1="398.8" x2="310.7" y2="398.8" stroke="#333" stroke-width="1.3" />
<line x1="272.13" y1="419.04" x2="272.13" y2="426.05" stroke="#666" stroke-width="0.6" opacity="0.55"/>
<line x1="216.04" y1="411.9" x2="216.04" y2="405.26" stroke="#666" stroke-width="0.6" opacity="0.55"/>
<line x1="296.85" y1="414.98" x2="296.85" y2="406.39" stroke="#666" stroke-width="0.6" opacity="0.55"/>
<line x1="289.86" y1="415.74" x2="289.86" y2="421.16" stroke="#666" stroke-width="0.6" opacity="0.55"/>
<line x1="189.15" y1="411.9" x2="189.15" y2="416.97" stroke="#666" stroke-width="0.6" opacity="0.55"/>
<line x1="195.47" y1="411.9" x2="195.47" y2="418.74" stroke="#666" stroke-width="0.6" opacity="0.55"/>
<line x1="196.13" y1="411.9" x2="196.13" y2="404.65" stroke="#666" stroke-width="0.6" opacity="0.55"/>
<line x1="194.59" y1="411.9" x2="194.59" y2="407.24" stroke="#666" stroke-width="0.6" opacity="0.55"/>
<line x1="326.63" y1="413.17" x2="326.63" y2="421.7" stroke="#666" stroke-width="0.6" opacity="0.55"/>
<line x1="251.79" y1="431.51" x2="251.79" y2="437.18" stroke="#666" stroke-width="0.6" opacity="0.55"/>
<line x1="301.51" y1="414.55" x2="301.51" y2="409.5" stroke="#666" stroke-width="0.6" opacity="0.55"/>
<line x1="202.54" y1="411.9" x2="202.54" y2="405.97" stroke="#666" stroke-width="0.6" opacity="0.55"/>
<line x1="264.71" y1="421.75" x2="264.71" y2="429.81" stroke="#666" stroke-width="0.6" opacity="0.55"/>
<line x1="283.53" y1="416.58" x2="283.53" y2="410.29" stroke="#666" stroke-width="0.6" opacity="0.55"/>
<line x1="290.83" y1="415.62" x2="290.83" y2="409.76" stroke="#666" stroke-width="0.6" opacity="0.55"/>
<line x1="266.04" y1="421.1" x2="266.04" y2="414.91" stroke="#666" stroke-width="0.6" opacity="0.55"/>
<path d="M189 407.41 L189.5 405.62 L190 407.84 L190.5 407.12 L191 408.25 L191.5 407.91 L192 408.42 L192.5 407.66 L193 408.38 L193.5 405.26 L194 408.01 L194.5 407.55 L195 407.05 L195.5 407.58 L196 407.31 L196.5 407.1 L197 407.11 L197.5 408.47 L198 408.56 L198.5 408.46 L199 408.35 L199.5 407.95 L200 407.33 L200.5 407.04 L201 407.24 L201.5 407.08 L202 407.78 L202.5 408.1 L203 408.15 L203.5 408.13 L204 405.85 L204.5 407.19 L205 408.27 L205.5 407.92 L206 406.13 L206.5 408.28 L207 407.87 L207.5 408.11 L208 408.52 L208.5 408.41 L209 408.21 L209.5 408.57 L210 407.72 L210.5 407.93 L211 407.74 L211.5 407.88 L212 407.85 L212.5 408.42 L213 407.01 L213.5 408.03 L214 408.19 L214.5 406.99 L215 407.2 L215.5 408.19 L216 407.11 L216.5 408.41 L217 408.58 L217.5 407.43 L218 408.53 L218.5 407.58 L219 406.6 L219.5 406.02 L220 406.33 L220.5 408.43 L221 408.07 L221.5 407.5 L222 407.7 L222.5 408.02 L223 407.01 L223.5 407.22 L224 408.01 L224.5 406.8 L225 406.7 L225.5 407.58 L226 407.31 L226.5 408.39 L227 407.84 L227.5 407.62 L228 407.06 L228.5 408.22 L229 407.04 L229.5 407.4 L230 406.94 L230.5 407.36 L231 407.93 L231.3 406.93 L231.5 413.04 L232 427.64 L232.5 442.87 L233 457.23 L233.5 470.58 L233.8 478.99 L234 479.5 L234.5 476.31 L235 473.85 L235.5 471.61 L236 468.39 L236.5 464.2 L237 463.38 L237.5 462.54 L238 459.61 L238.5 458.22 L239 454.75 L239.5 453.84 L240 451.33 L240.5 451.4 L241 449.38 L241.5 447.86 L242 446.84 L242.5 444.87 L243 443.39 L243.5 442 L244 439.28 L244.5 440.31 L245 438.64 L245.5 438.37 L246 437.25 L246.5 436.28 L247 433.7 L247.5 433.13 L248 433.14 L248.5 432.99 L249 431.87 L249.5 431.33 L250 430.13 L250.5 427.46 L251 429.29 L251.5 428.75 L252 427.43 L252.5 427.41 L253 426.87 L253.5 425.28 L254 423.67 L254.5 425.46 L255 424.28 L255.5 423.08 L256 422.54 L256.5 423.4 L257 421.94 L257.5 422.77 L258 420.75 L258.5 421.77 L259 421.07 L259.5 420.39 L260 420.73 L260.5 420.5 L261 419.77 L261.5 418.3 L262 419.02 L262.5 418.02 L263 418.17 L263.5 418.62 L264 417.63 L264.5 417.28 L265 416.75 L265.5 416.25 L266 416.2 L266.5 417.45 L267 417.06 L267.5 416.65 L268 417.08 L268.5 415.04 L269 415.82 L269.5 415.31 L270 413.58 L270.5 415.3 L271 415.58 L271.5 415.29 L272 414.94 L272.5 415.38 L273 415.12 L273.5 412.08 L274 414.7 L274.5 413.13 L275 414.63 L275.5 412.52 L276 414.34 L276.5 414.04 L277 413.63 L277.5 412.7 L278 414.18 L278.5 412.86 L279 412.24 L279.5 413.57 L280 413.73 L280.5 411.05 L281 411.48 L281.5 412.67 L282 412.62 L282.5 411.42 L283 412.43 L283.5 412.22 L284 410.8 L284.5 413.09 L285 411.4 L285.5 412.47 L286 411.46 L286.5 412.52 L287 410.92 L287.5 412.27 L288 409.42 L288.5 411.7 L289 412.04 L289.5 411.13 L290 411.39 L290.5 411.69 L291 411.35 L291.5 411.36 L292 411.84 L292.5 412.04 L293 411.13 L293.5 408.94 L294 411.34 L294.5 411.76 L295 410.01 L295.5 409.69 L296 408.46 L296.5 409.69 L297 411.49 L297.5 411.02 L298 411.42 L298.5 410.34 L299 409.82 L299.5 409.6 L300 410.7 L300.5 409.37 L301 410.33 L301.5 411.21 L302 411.14 L302.5 409.65 L303 409.96 L303.5 410.94 L304 408.7 L304.5 410.89 L305 410.28 L305.5 410.01 L306 410.12 L306.5 409.35 L307 408.09 L307.5 410.24 L308 410.75 L308.5 409.56 L309 410.65 L309.5 410.46 L310 409.29 L310.5 410.55 L311 410.24 L311.5 409.14 L312 409.67 L312.5 410.09 L313 408.74 L313.5 408.05 L314 409.1 L314.5 409.05 L315 409.51 L315.5 408.89 L316 410.34 L316.5 405.86 L317 410.22 L317.5 409.25 L318 409.98 L318.5 410.13 L319 408.7 L319.5 410.13 L320 409.83 L320.5 410.1 L321 409.85 L321.5 409.65 L322 408.71 L322.5 408.76 L323 408 L323.5 408.54 L324 408.03 L324.5 409.56 L325 409.06 L325.5 409.63 L326 408.39 L326.5 409.48 L327 408.85 L327.5 408.63 L328 409.58 L328.5 409.18 L329 409.16 L329.5 409.15 L330 408.88 L330.5 407.85 L331 409.02 L331.5 408.44 L332 408.66 L332.5 409.25 L333 408.9 L333.5 408.37 L334 409.49 L334.5 408.65 L335 408.34 L335.5 408.35 L336 408.16 L336.5 408.03 L337 408.76 L337.5 408.53 L338 405.83 L338.5 407.96 L339 408.44 L339.5 408.16 L339.5 416.32 L339 416.35 L338.5 416.59 L338 416.41 L337.5 416.28 L337 418.58 L336.5 418.14 L336 416.91 L335.5 416.22 L335 420.1 L334.5 416.94 L334 416.87 L333.5 418.88 L333 417.19 L332.5 418.96 L332 416.49 L331.5 416.82 L331 416.88 L330.5 417.11 L330 417.79 L329.5 417.41 L329 416.43 L328.5 418.61 L328 419.91 L327.5 417.59 L327 416.7 L326.5 416.86 L326 417.89 L325.5 417.67 L325 416.67 L324.5 419.67 L324 417.37 L323.5 416.99 L323 416.76 L322.5 420.01 L322 417.07 L321.5 416.91 L321 416.78 L320.5 417.23 L320 416.84 L319.5 419.55 L319 418.9 L318.5 418.44 L318 419.9 L317.5 419.63 L317 418.64 L316.5 416.99 L316 418.54 L315.5 418.19 L315 418.09 L314.5 418.63 L314 417.32 L313.5 417.1 L313 417.2 L312.5 418.05 L312 420.49 L311.5 417.44 L311 417.8 L310.5 418.08 L310 419.91 L309.5 419.31 L309 418.02 L308.5 418.34 L308 418.82 L307.5 417.51 L307 418.17 L306.5 419.25 L306 418.1 L305.5 418.64 L305 418.98 L304.5 418.36 L304 418.63 L303.5 419.23 L303 418.97 L302.5 418.62 L302 418.92 L301.5 419.34 L301 417.94 L300.5 417.99 L300 419.22 L299.5 418.87 L299 418.84 L298.5 420.49 L298 419.85 L297.5 420.39 L297 419.21 L296.5 420.68 L296 420.32 L295.5 418.95 L295 419.77 L294.5 419.17 L294 420.73 L293.5 420.34 L293 419.95 L292.5 419.48 L292 420.95 L291.5 419.1 L291 419.78 L290.5 420.6 L290 419.8 L289.5 419.81 L289 419.85 L288.5 419.29 L288 419.4 L287.5 420.2 L287 420.15 L286.5 422.71 L286 419.97 L285.5 420.08 L285 422.73 L284.5 420.07 L284 422.17 L283.5 421.01 L283 421.16 L282.5 420.61 L282 421.16 L281.5 421.22 L281 421.1 L280.5 421.43 L280 420.83 L279.5 420.73 L279 421.04 L278.5 423.04 L278 422.41 L277.5 421.79 L277 422.26 L276.5 422.57 L276 421.61 L275.5 422.63 L275 422.23 L274.5 424.5 L274 422.94 L273.5 422.26 L273 422.33 L272.5 422.63 L272 422.56 L271.5 423.21 L271 423.48 L270.5 424.41 L270 425.49 L269.5 423.97 L269 424.02 L268.5 424.99 L268 424.16 L267.5 424.22 L267 425.39 L266.5 426.18 L266 426 L265.5 426.33 L265 427.2 L264.5 426.59 L264 427.19 L263.5 426.75 L263 426.19 L262.5 426.52 L262 427.4 L261.5 427.31 L261 427.6 L260.5 427.84 L260 430.78 L259.5 429.03 L259 429.32 L258.5 428.87 L258 429.87 L257.5 430.9 L257 431.82 L256.5 431.98 L256 430.77 L255.5 431.37 L255 432.66 L254.5 432.57 L254 433.76 L253.5 433.75 L253 435.61 L252.5 435.74 L252 435.95 L251.5 435.47 L251 436.38 L250.5 438.33 L250 439.15 L249.5 438.54 L249 439.7 L248.5 442.66 L248 442.55 L247.5 443.67 L247 443.3 L246.5 444.03 L246 444.85 L245.5 446.12 L245 446.81 L244.5 448.79 L244 448.79 L243.5 449.81 L243 450.99 L242.5 454.56 L242 454.15 L241.5 456.22 L241 457 L240.5 459.78 L240 460.47 L239.5 461.63 L239 463.42 L238.5 466.92 L238 469.57 L237.5 472.95 L237 471.93 L236.5 474.5 L236 477.47 L235.5 480.18 L235 482.55 L234.5 484.52 L234 486.87 L233.8 487.95 L233.5 480.86 L233 464.79 L232.5 450.25 L232 435.73 L231.5 422.14 L231.3 415.31 L231 416.34 L230.5 417.05 L230 415.44 L229.5 415.33 L229 415.23 L228.5 416.76 L228 415.89 L227.5 415.35 L227 415.68 L226.5 415.44 L226 415.84 L225.5 415.77 L225 415.98 L224.5 416.7 L224 415.51 L223.5 416.08 L223 417.8 L222.5 415.25 L222 415.6 L221.5 415.88 L221 415.87 L220.5 415.83 L220 417.3 L219.5 417.68 L219 416.46 L218.5 416.17 L218 415.8 L217.5 418.09 L217 415.73 L216.5 415.57 L216 417.16 L215.5 416.36 L215 416.08 L214.5 415.76 L214 416.15 L213.5 417.95 L213 416.28 L212.5 415.31 L212 415.7 L211.5 416.03 L211 416.92 L210.5 416.17 L210 415.39 L209.5 415.58 L209 415.82 L208.5 418.16 L208 415.62 L207.5 415.93 L207 416.28 L206.5 416.45 L206 416.68 L205.5 415.92 L205 415.71 L204.5 419.29 L204 416.79 L203.5 415.26 L203 417.95 L202.5 416.72 L202 416.89 L201.5 417.06 L201 415.75 L200.5 416.35 L200 415.45 L199.5 417.84 L199 415.28 L198.5 417.13 L198 416.86 L197.5 415.47 L197 416.36 L196.5 415.59 L196 415.52 L195.5 417.51 L195 415.37 L194.5 417.43 L194 415.8 L193.5 415.46 L193 415.73 L192.5 416.5 L192 415.63 L191.5 415.53 L191 415.68 L190.5 417.94 L190 416.12 L189.5 415.56 L189 415.81 Z" fill="#111" stroke="#111" stroke-width="0.3" />
<line x1="296.82" y1="413.69" x2="296.82" y2="406.37" stroke="#f55" stroke-width="0.6" opacity="0.55"/>
<line x1="237.82" y1="438.78" x2="237.82" y2="444.71" stroke="#f55" stroke-width="0.6" opacity="0.55"/>
<line x1="289.54" y1="414.05" x2="289.54" y2="405.21" stroke="#f55" stroke-width="0.6" opacity="0.55"/>
<line x1="189.14" y1="411.9" x2="189.14" y2="418.96" stroke="#f55" stroke-width="0.6" opacity="0.55"/>
<line x1="259.83" y1="417.81" x2="259.83" y2="411.05" stroke="#f55" stroke-width="0.6" opacity="0.55"/>
<line x1="338.71" y1="412.52" x2="338.71" y2="404.48" stroke="#f55" stroke-width="0.6" opacity="0.55"/>
<line x1="308.1" y1="413.23" x2="308.1" y2="407.78" stroke="#f55" stroke-width="0.6" opacity="0.55"/>
<line x1="198.65" y1="411.9" x2="198.65" y2="416.87" stroke="#f55" stroke-width="0.6" opacity="0.55"/>
<line x1="288.27" y1="414.14" x2="288.27" y2="410.25" stroke="#f55" stroke-width="0.6" opacity="0.55"/>
<line x1="309" y1="413.22" x2="309" y2="417.95" stroke="#f55" stroke-width="0.6" opacity="0.55"/>
<line x1="281.18" y1="414.63" x2="281.18" y2="409.68" stroke="#f55" stroke-width="0.6" opacity="0.55"/>
<line x1="315.57" y1="413" x2="315.57" y2="418.42" stroke="#f55" stroke-width="0.6" opacity="0.55"/>
<line x1="277.72" y1="414.92" x2="277.72" y2="419.64" stroke="#f55" stroke-width="0.6" opacity="0.55"/>
<line x1="210.38" y1="411.9" x2="210.38" y2="417.4" stroke="#f55" stroke-width="0.6" opacity="0.55"/>
<line x1="219.83" y1="411.9" x2="219.83" y2="403.93" stroke="#f55" stroke-width="0.6" opacity="0.55"/>
<line x1="224.92" y1="411.9" x2="224.92" y2="407.56" stroke="#f55" stroke-width="0.6" opacity="0.55"/>
<line x1="288.6" y1="414.11" x2="288.6" y2="407.09" stroke="#f55" stroke-width="0.6" opacity="0.55"/>
<line x1="313.53" y1="413.06" x2="313.53" y2="421.33" stroke="#f55" stroke-width="0.6" opacity="0.55"/>
<line x1="195.51" y1="411.9" x2="195.51" y2="406.41" stroke="#f55" stroke-width="0.6" opacity="0.55"/>
<line x1="318.97" y1="412.92" x2="318.97" y2="408.75" stroke="#f55" stroke-width="0.6" opacity="0.55"/>
<line x1="212.15" y1="411.9" x2="212.15" y2="406.34" stroke="#f55" stroke-width="0.6" opacity="0.55"/>
<line x1="243.9" y1="428.01" x2="243.9" y2="435.93" stroke="#f55" stroke-width="0.6" opacity="0.55"/>
<line x1="267.46" y1="416.2" x2="267.46" y2="409.06" stroke="#f55" stroke-width="0.6" opacity="0.55"/>
<line x1="230.39" y1="411.9" x2="230.39" y2="402.92" stroke="#f55" stroke-width="0.6" opacity="0.55"/>
<line x1="293.6" y1="413.84" x2="293.6" y2="406.85" stroke="#f55" stroke-width="0.6" opacity="0.55"/>
<line x1="298.97" y1="413.6" x2="298.97" y2="405.93" stroke="#f55" stroke-width="0.6" opacity="0.55"/>
<line x1="211.56" y1="411.9" x2="211.56" y2="416.12" stroke="#f55" stroke-width="0.6" opacity="0.55"/>
<line x1="262.56" y1="417.06" x2="262.56" y2="421.86" stroke="#f55" stroke-width="0.6" opacity="0.55"/>
<line x1="244.8" y1="426.8" x2="244.8" y2="418.89" stroke="#f55" stroke-width="0.6" opacity="0.55"/>
<line x1="227.06" y1="411.9" x2="227.06" y2="416.5" stroke="#f55" stroke-width="0.6" opacity="0.55"/>
<path d="M189 408.49 L189.5 408.65 L190 408.11 L190.5 407.37 L191 408.66 L191.5 407.93 L192 408.7 L192.5 406.91 L193 407.61 L193.5 408.03 L194 408.38 L194.5 408.28 L195 407.23 L195.5 407.98 L196 408.09 L196.5 408.15 L197 407.76 L197.5 408.51 L198 407.74 L198.5 407.63 L199 408.51 L199.5 407.82 L200 407.71 L200.5 407.34 L201 408.21 L201.5 408.01 L202 406.8 L202.5 407.72 L203 407.84 L203.5 406.31 L204 408.57 L204.5 407.86 L205 408.35 L205.5 408.03 L206 407.28 L206.5 408.08 L207 407.91 L207.5 407.96 L208 406.65 L208.5 408.75 L209 408.79 L209.5 408.57 L210 407.87 L210.5 408.19 L211 406.94 L211.5 408.35 L212 407.83 L212.5 408.22 L213 407.97 L213.5 408.12 L214 407.6 L214.5 408.73 L215 408.13 L215.5 407.47 L216 408.74 L216.5 407.79 L217 407.34 L217.5 408.42 L218 407.18 L218.5 408.23 L219 408.74 L219.5 408.3 L220 408.73 L220.5 408.41 L221 408.61 L221.5 408.38 L222 407.38 L222.5 407.92 L223 408.49 L223.5 408.67 L224 408.14 L224.5 407.37 L225 408.47 L225.5 408.76 L226 408.42 L226.5 407.83 L227 405.74 L227.5 407.02 L228 407.97 L228.5 406.95 L229 408.25 L229.5 408.09 L230 408.69 L230.5 408.79 L231 408 L231.3 408.74 L231.5 414.61 L232 428.52 L232.5 444.02 L232.8 450.92 L233 450.91 L233.5 449.55 L234 447.71 L234.5 445.98 L235 443.71 L235.5 440.83 L236 440.52 L236.5 437.8 L237 438.24 L237.5 436.27 L238 434.51 L238.5 434.09 L239 432.58 L239.5 431.5 L240 429.97 L240.5 430.24 L241 428.23 L241.5 427.23 L242 427.07 L242.5 424.86 L243 425.96 L243.5 425.46 L244 424.43 L244.5 423.16 L245 422.62 L245.5 422.44 L246 422.25 L246.5 421.39 L247 421.38 L247.5 420.37 L248 420.29 L248.5 418.57 L249 419.01 L249.5 418.95 L250 418.21 L250.5 418.43 L251 418.29 L251.5 418 L252 416.64 L252.5 417.09 L253 415.5 L253.5 416.54 L254 415.69 L254.5 416.09 L255 415.49 L255.5 414.2 L256 414.38 L256.5 415.18 L257 414.17 L257.5 415.47 L258 414.94 L258.5 414.41 L259 414.54 L259.5 413 L260 413.34 L260.5 412.8 L261 414.31 L261.5 413.87 L262 412.74 L262.5 413.08 L263 412.97 L263.5 413.53 L264 413.32 L264.5 412.99 L265 412.28 L265.5 412.6 L266 413.16 L266.5 412.99 L267 413.08 L267.5 412.82 L268 412.59 L268.5 412.23 L269 412.72 L269.5 411.48 L270 412.19 L270.5 411.49 L271 411.34 L271.5 410.71 L272 411.6 L272.5 410.69 L273 411.3 L273.5 410.82 L274 411.24 L274.5 412.05 L275 411.16 L275.5 411.86 L276 411.56 L276.5 411.41 L277 411.49 L277.5 411.74 L278 410.25 L278.5 411.42 L279 410.37 L279.5 411.05 L280 410.23 L280.5 410.37 L281 409.93 L281.5 409.95 L282 409.12 L282.5 411.39 L283 410.59 L283.5 411.24 L284 410.38 L284.5 409.94 L285 408.96 L285.5 411.18 L286 410.24 L286.5 410.53 L287 410.25 L287.5 410.09 L288 410.66 L288.5 410.93 L289 410.5 L289.5 410.37 L290 409.44 L290.5 409.72 L291 410.57 L291.5 408.62 L292 409.52 L292.5 410.54 L293 409.89 L293.5 410.57 L294 409.36 L294.5 410.21 L295 409.83 L295.5 410.38 L296 409.92 L296.5 410.38 L297 410.56 L297.5 409.94 L298 410.35 L298.5 409.7 L299 409.34 L299.5 409.94 L300 409.41 L300.5 409.72 L301 410.1 L301.5 409.09 L302 410.12 L302.5 410.29 L303 409.88 L303.5 410.28 L304 409.97 L304.5 409.85 L305 409.43 L305.5 409.8 L306 409.18 L306.5 409.16 L307 409.87 L307.5 409.65 L308 409.31 L308.5 409.81 L309 409 L309.5 408.4 L310 409.52 L310.5 410 L311 408.34 L311.5 408.89 L312 409.15 L312.5 409.22 L313 409.5 L313.5 409.86 L314 409.37 L314.5 409.83 L315 408.77 L315.5 409.66 L316 409.46 L316.5 409.4 L317 409.32 L317.5 409.48 L318 409.33 L318.5 409.31 L319 409.01 L319.5 408.96 L320 409.66 L320.5 409.68 L321 408.69 L321.5 409.36 L322 409.42 L322.5 408.48 L323 409.46 L323.5 409.05 L324 409.7 L324.5 409.11 L325 409.66 L325.5 409.42 L326 408.71 L326.5 408.9 L327 409.09 L327.5 407.6 L328 408.48 L328.5 408.94 L329 409.46 L329.5 408.25 L330 409.24 L330.5 408.03 L331 408.86 L331.5 409.26 L332 407.22 L332.5 407.86 L333 408.18 L333.5 409.16 L334 408.85 L334.5 407.78 L335 408.49 L335.5 407.95 L336 407.28 L336.5 408.92 L337 407.08 L337.5 409.28 L338 408.57 L338.5 408.89 L339 408.78 L339.5 409.02 L339.5 415.69 L339 415.66 L338.5 416.46 L338 417.35 L337.5 416.84 L337 416.64 L336.5 415.94 L336 417.45 L335.5 416.51 L335 416.93 L334.5 416.39 L334 415.87 L333.5 416.42 L333 416.08 L332.5 416.29 L332 416.98 L331.5 416.27 L331 416.37 L330.5 417.26 L330 416.22 L329.5 416.15 L329 416.18 L328.5 417.11 L328 416.44 L327.5 416.81 L327 417.16 L326.5 415.86 L326 418 L325.5 417.35 L325 416.67 L324.5 416.38 L324 416.2 L323.5 417.37 L323 416.91 L322.5 416.29 L322 416.67 L321.5 416.44 L321 416.87 L320.5 417.18 L320 416.89 L319.5 416.62 L319 417.03 L318.5 416.35 L318 416.25 L317.5 416.37 L317 416.51 L316.5 416.29 L316 417.58 L315.5 417.01 L315 416.98 L314.5 416.67 L314 416.54 L313.5 417.31 L313 417.6 L312.5 417.12 L312 416.26 L311.5 417.7 L311 418.12 L310.5 417.88 L310 416.9 L309.5 416.59 L309 417.7 L308.5 417.68 L308 416.85 L307.5 416.82 L307 416.56 L306.5 417.33 L306 416.87 L305.5 416.94 L305 418.05 L304.5 416.86 L304 416.51 L303.5 416.8 L303 417.26 L302.5 416.93 L302 417.43 L301.5 417.07 L301 418.42 L300.5 418.35 L300 416.76 L299.5 418.05 L299 417.04 L298.5 417.33 L298 417.81 L297.5 417.7 L297 416.94 L296.5 418.28 L296 417.64 L295.5 417.1 L295 418.14 L294.5 418.28 L294 417.91 L293.5 417.82 L293 417.14 L292.5 418.23 L292 417.78 L291.5 417.66 L291 418.02 L290.5 417.8 L290 417.22 L289.5 418.88 L289 419.15 L288.5 418.24 L288 417.34 L287.5 417.48 L287 417.78 L286.5 418.2 L286 417.69 L285.5 419.67 L285 418.34 L284.5 417.65 L284 418.16 L283.5 419.33 L283 419.55 L282.5 417.93 L282 418.48 L281.5 418.48 L281 418.18 L280.5 419.2 L280 418.71 L279.5 418.09 L279 419.97 L278.5 418.43 L278 418.34 L277.5 419.65 L277 418.93 L276.5 419.28 L276 418.9 L275.5 419.02 L275 418.61 L274.5 418.73 L274 419.96 L273.5 419.36 L273 418.98 L272.5 420.05 L272 419.73 L271.5 420.05 L271 421.22 L270.5 420.07 L270 419.24 L269.5 420.66 L269 419.39 L268.5 420.57 L268 419.24 L267.5 419.59 L267 420.34 L266.5 420.15 L266 420.67 L265.5 420 L265 420.18 L264.5 421.71 L264 421.55 L263.5 420.24 L263 421.02 L262.5 421.92 L262 420.61 L261.5 422.62 L261 420.65 L260.5 421.15 L260 421.93 L259.5 422.36 L259 421.97 L258.5 421.41 L258 421.86 L257.5 421.7 L257 422.81 L256.5 424 L256 423.21 L255.5 423.3 L255 423.52 L254.5 424.07 L254 423.85 L253.5 423.59 L253 424.51 L252.5 424.63 L252 424.91 L251.5 424.78 L251 424.94 L250.5 425.98 L250 427.31 L249.5 425.84 L249 427.1 L248.5 427.17 L248 428.82 L247.5 427.73 L247 428.1 L246.5 429.01 L246 429.08 L245.5 429.71 L245 430.94 L244.5 430.49 L244 431.73 L243.5 432.81 L243 433.1 L242.5 434.94 L242 434.66 L241.5 434.9 L241 438.62 L240.5 436.54 L240 439.99 L239.5 439.12 L239 440.35 L238.5 441.57 L238 442.94 L237.5 443.68 L237 444.93 L236.5 448.36 L236 447.69 L235.5 449.5 L235 450.86 L234.5 452.6 L234 454.31 L233.5 456.63 L233 458.41 L232.8 459.62 L232.5 451.65 L232 437.12 L231.5 421.08 L231.3 415.41 L231 415.11 L230.5 416.15 L230 415.78 L229.5 415.91 L229 415.21 L228.5 415.24 L228 415.87 L227.5 415.67 L227 416.19 L226.5 416.17 L226 416.41 L225.5 415.01 L225 415.18 L224.5 415.09 L224 415.03 L223.5 416.07 L223 416.57 L222.5 415.78 L222 415.47 L221.5 415.76 L221 416.24 L220.5 415.91 L220 415.47 L219.5 417.18 L219 415.98 L218.5 416.74 L218 415.37 L217.5 415.97 L217 415.25 L216.5 415.83 L216 416.27 L215.5 416.16 L215 415.1 L214.5 416.05 L214 415.36 L213.5 415.62 L213 415.38 L212.5 415.74 L212 415.18 L211.5 416.75 L211 416.96 L210.5 415.48 L210 417.37 L209.5 417.43 L209 415.77 L208.5 416.98 L208 415.43 L207.5 415.74 L207 416.72 L206.5 416.26 L206 415.43 L205.5 416.89 L205 415.06 L204.5 415.83 L204 417 L203.5 416.41 L203 416.24 L202.5 416.46 L202 415.77 L201.5 417.21 L201 416.36 L200.5 415.91 L200 415.19 L199.5 415.43 L199 415.1 L198.5 416.37 L198 416.37 L197.5 415.5 L197 415.44 L196.5 415.91 L196 416.4 L195.5 415.03 L195 416.74 L194.5 416.1 L194 415.3 L193.5 415.52 L193 418.4 L192.5 415.88 L192 415.17 L191.5 415.51 L191 415.42 L190.5 415.75 L190 415.53 L189.5 416.5 L189 415.15 Z" fill="#ff0000" stroke="#ff0000" stroke-width="0.3" />
<text x="293.5" y="437.6" font-size="8.3" fill="#ff0000" text-anchor="middle" font-family="Liberation Sans, Arial, sans-serif" font-weight="normal" stroke="#ff0000" stroke-width="0.22" >TEA 5 mM</text>
<line x1="268.8" y1="454.4" x2="268.8" y2="483.7" stroke="#444" stroke-width="1.1" />
<line x1="268.8" y1="483.7" x2="296" y2="483.7" stroke="#444" stroke-width="1.1" />
<text x="267.8" y="472.3" font-size="6.9" fill="#222" text-anchor="end" font-family="Liberation Sans, Arial, sans-serif" font-weight="normal" stroke="#222" stroke-width="0.22" >50 pA</text>
<text x="282.1" y="491" font-size="7.0" fill="#222" text-anchor="middle" font-family="Liberation Sans, Arial, sans-serif" font-weight="normal" stroke="#222" stroke-width="0.22" >5 s</text>
<text x="70.6" y="594.6" font-size="8.3" fill="#222" text-anchor="middle" font-family="Liberation Sans, Arial, sans-serif" font-weight="normal" stroke="#222" stroke-width="0.22" >pH 6.85</text>
<line x1="28.6" y1="599" x2="115" y2="599" stroke="#333" stroke-width="1.3" />
<path d="M6 605.3 L6.3 605.3 L6.6 605.3 L6.9 605.3 L7.2 605.3 L7.5 605.3 L7.8 605.3 L8.1 605.3 L8.4 605.3 L8.7 605.3 L9 605.3 L9.3 605.3 L9.6 605.3 L9.9 605.3 L10.2 605.3 L10.5 605.3 L10.8 605.3 L11.1 605.3 L11.4 605.3 L11.7 605.3 L12 605.3 L12.3 605.3 L12.6 605.3 L12.9 605.3 L13.2 605.3 L13.5 605.3 L13.8 605.3 L14.1 605.3 L14.4 605.3 L14.7 605.3 L15 605.3 L15.3 605.3 L15.6 605.3 L15.9 605.3 L16.2 605.3 L16.5 605.3 L16.8 605.3 L17.1 605.3 L17.4 605.3 L17.7 605.3 L18 605.3 L18.3 605.3 L18.6 605.3 L18.9 605.3 L19.2 605.3 L19.5 605.3 L19.8 605.3 L20.1 605.3 L20.4 605.3 L20.7 605.3 L21 605.3 L21.3 605.3 L21.6 605.3 L21.9 605.3 L22.2 605.3 L22.5 605.3 L22.8 605.3 L23.1 605.3 L23.4 605.3 L23.7 605.3 L24 605.3 L24.3 605.3 L24.6 605.3 L24.9 605.3 L25.2 605.3 L25.5 605.3 L25.8 605.3 L26.1 605.3 L26.4 605.3 L26.7 605.3 L27 605.3 L27.3 605.3 L27.6 605.3 L27.9 605.3 L28.2 605.3 L28.5 605.3 L28.8 605.3 L29.1 605.3 L29.4 605.3 L29.7 605.3 L29.8 605.3 L30 608.73 L30.3 613.88 L30.6 619.03 L30.9 624.18 L31.2 629.32 L31.5 634.47 L31.8 639.62 L32.1 644.77 L32.4 649.92 L32.7 655.06 L33 660.21 L33.3 665.36 L33.6 670.51 L33.9 675.66 L34.2 680.8 L34.5 685.95 L34.8 691.1 L35.1 691.1 L35.4 691.1 L35.7 691.1 L36 690.93 L36.3 690.92 L36.4 691.08 L36.6 688.87 L36.9 684.75 L37.2 682.24 L37.5 679.01 L37.8 675.92 L38.1 673.37 L38.4 670.44 L38.7 668.23 L39 666.39 L39.3 663.3 L39.6 661.72 L39.9 659.06 L40.2 657.3 L40.5 655.69 L40.8 653.58 L41.1 652.67 L41.4 649.98 L41.7 649.08 L42 647.76 L42.3 646.47 L42.6 645.08 L42.9 643.52 L43.2 642.84 L43.5 642.35 L43.8 640.99 L44.1 639.67 L44.4 638.26 L44.7 637.53 L45 637.45 L45.3 636.07 L45.6 635.42 L45.9 635.88 L46.2 633.11 L46.5 633.95 L46.8 631.88 L47.1 631.75 L47.4 632.99 L47.7 631.77 L48 631.04 L48.3 630.68 L48.6 630.27 L48.9 629.19 L49.2 628.43 L49.5 628.3 L49.8 628.45 L50.1 628.16 L50.4 628.09 L50.7 627.29 L51 627.34 L51.3 626.73 L51.6 625.97 L51.9 625.98 L52.2 626.13 L52.5 625.7 L52.8 625.29 L53.1 625.31 L53.4 625.75 L53.7 624.62 L54 623.66 L54.3 624.63 L54.6 623.39 L54.9 624.96 L55.2 623.84 L55.5 624.02 L55.8 623.76 L56.1 623.82 L56.4 623.75 L56.7 624.04 L57 622.91 L57.3 623.12 L57.6 623 L57.9 623 L58.2 623.29 L58.5 622.06 L58.8 621.89 L59.1 622.8 L59.4 622.9 L59.7 622.89 L60 623.01 L60.3 623.23 L60.6 622.03 L60.9 622.26 L61.2 622.46 L61.5 622.56 L61.8 622.47 L62.1 622.34 L62.4 621.71 L62.7 623.16 L63 622.07 L63.3 622.23 L63.6 621.56 L63.9 622.12 L64.2 621.77 L64.5 622.4 L64.8 622.28 L65.1 621.58 L65.4 621.84 L65.7 621.83 L66 621.9 L66.3 622.37 L66.6 621.37 L66.9 622.92 L67.2 621.28 L67.5 621.01 L67.8 621.95 L68.1 621.03 L68.4 622.17 L68.7 621.74 L69 621.39 L69.3 621.88 L69.6 621.58 L69.9 621.16 L70.2 621.3 L70.5 622.36 L70.8 621.54 L71.1 621.59 L71.4 620.98 L71.7 622.36 L72 621.69 L72.3 621.26 L72.6 621.38 L72.9 621.12 L73.2 621.96 L73.5 621.77 L73.8 621.03 L74.1 621.16 L74.4 621.12 L74.7 621.38 L75 622.31 L75.3 621.16 L75.6 621.45 L75.9 621.11 L76.2 621.17 L76.5 621.44 L76.8 621.75 L77.1 620.72 L77.4 620.93 L77.7 621.12 L78 620.77 L78.3 621.89 L78.6 621.52 L78.9 621.7 L79.2 621.38 L79.5 620.66 L79.8 621.59 L80.1 621.11 L80.4 620.86 L80.7 620.77 L81 620.61 L81.3 620.91 L81.6 621.2 L81.9 621.66 L82.2 620.81 L82.5 621.44 L82.8 621.25 L83.1 621.44 L83.4 621.08 L83.7 620.49 L84 621.59 L84.3 621.38 L84.6 620.52 L84.9 621.07 L85.2 620.95 L85.5 622.09 L85.8 621.74 L86.1 621.1 L86.4 620.93 L86.7 621.36 L87 621.14 L87.3 621.32 L87.6 620.89 L87.9 620.53 L88.2 620.1 L88.5 620.36 L88.8 620.23 L89.1 620.97 L89.4 621.25 L89.7 621.73 L90 621.06 L90.3 621.93 L90.6 621.7 L90.9 620.89 L91.2 620.67 L91.5 621.04 L91.8 620.69 L92.1 620.72 L92.4 620.91 L92.7 621.14 L93 620 L93.3 620.94 L93.6 620.89 L93.9 621.24 L94.2 620.43 L94.5 621.12 L94.8 620.4 L95.1 620.44 L95.4 620.46 L95.7 620.92 L96 620.69 L96.3 621.39 L96.6 621.04 L96.9 620.73 L97.2 621.28 L97.5 621.57 L97.8 620.86 L98.1 621.66 L98.4 620.94 L98.7 621 L99 620.34 L99.3 621.27 L99.6 621.24 L99.9 620.91 L100.2 621.24 L100.5 621.72 L100.8 621.56 L101.1 620.36 L101.4 620.64 L101.7 621.36 L102 621.15 L102.3 621.25 L102.6 620.03 L102.9 621.08 L103.2 620.98 L103.5 620.47 L103.8 621.43 L104.1 621.08 L104.4 621.19 L104.7 621.46 L105 620.59 L105.3 620.86 L105.6 620.69 L105.9 621.2 L106.2 621.12 L106.5 620.22 L106.8 620.34 L107.1 620.21 L107.4 620.77 L107.7 620.14 L108 620.22 L108.3 621.26 L108.6 620.26 L108.9 620.9 L109.2 619.66 L109.5 620.98 L109.8 619.99 L110.1 621.26 L110.4 620.72 L110.7 620.86 L111 620.19 L111.3 620.78 L111.6 620.37 L111.9 621.02 L112.2 620.39 L112.5 620.46 L112.8 620.21 L113.1 620.41 L113.4 620.93 L113.7 620.44 L114 620.7 L114.3 619.33 L114.6 620.96 L114.9 619.91 L115.2 619.64 L115.5 613.71 L115.8 609.02 L116.1 608.56 L116.4 606.65 L116.7 606.01 L117 606.05 L117.3 605.45 L117.6 605.47 L117.9 605.48 L118.2 606.27 L118.5 605.67 L118.8 605.12 L119.1 605.41 L119.4 604.53 L119.7 605.92 L120 604.79 L120.3 605.09 L120.6 605.26 L120.9 605.48 L121.2 604.95 L121.5 605 L121.8 604.99 L122.1 604.16 L122.4 605.03 L122.7 605.59 L123 605.77 L123.3 604.97 L123.6 604.85 L123.9 605.73 L124.2 605.12 L124.5 605.89 L124.8 604.94 L125.1 605.49 L125.4 605.26 L125.7 605.39 L126 605.66 L126.3 605.36 L126.6 605.26 L126.9 605.25 L127.2 606.01 L127.5 605.58 L127.8 605.28 L128.1 604.67 L128.4 605.56 L128.7 605.03 L129 604.61 L129.3 605.31 L129.6 604.96 L129.9 605.3 L130.2 605.41 L130.5 605.19 L130.8 605.01 L131.1 605.23 L131.4 606.46 L131.7 604.93 L132 604.83 L132.3 604.96 L132.6 604.8 L132.9 605.17 L133.2 604.94 L133.5 605.45 L133.8 605.37 L134.1 605.72 L134.4 605.34 L134.7 605.44 L135 605.47 L135.3 604.11 L135.6 605.35 L135.9 605.16 L136.2 604.97 L136.5 605.33 L136.8 605.02 L137.1 605.61 L137.4 605.52 L137.7 604.72 L138 605.67 L138.3 604.62 L138.6 605.55 L138.9 606.16 L139.2 605.89 L139.5 604.83 L139.8 606.01 L140.1 606.13 L140.4 605.46 L140.7 605.43 L141 606.17 L141.3 605.52 L141.6 604.67 L141.9 605.29 L142.2 605.36 L142.5 605.66 L142.8 606.21 L143.1 605.66 L143.4 605.85 L143.7 604.73 L144 604.96 L144.3 605.41 L144.6 605.53 L144.9 606.35 L145.2 606.03 L145.5 604.81 L145.8 605.74 L146.1 605.01 L146.4 605.16 L146.7 605.37 L147 605.33 L147.3 605.44 L147.6 605.11 L147.9 605.72 L148.2 605.2 L148.5 605.26 L148.8 605.06 L149.1 605.38 L149.4 604.97 L149.7 604.93 L150 605.71 L150.3 605.56 L150.6 605.52 L150.9 605.41 L151.2 604.95 L151.5 604.74 L151.8 605.82 L152.1 605.35 L152.4 605.59 L152.7 605.39 L153 605.73 L153.3 604.87 L153.6 605.78 L153.9 604.41 L154.2 605.46 L154.5 605.93 L154.8 605.51 L155.1 605.47 L155.4 605.02 L155.7 605.78 L156 605.39" fill="none" stroke="#2a2a2a" stroke-width="1.05" stroke-linejoin="round" />
<path d="M6 605.3 L6.3 605.3 L6.6 605.3 L6.9 605.3 L7.2 605.3 L7.5 605.3 L7.8 605.3 L8.1 605.3 L8.4 605.3 L8.7 605.3 L9 605.3 L9.3 605.3 L9.6 605.3 L9.9 605.3 L10.2 605.3 L10.5 605.3 L10.8 605.3 L11.1 605.3 L11.4 605.3 L11.7 605.3 L12 605.3 L12.3 605.3 L12.6 605.3 L12.9 605.3 L13.2 605.3 L13.5 605.3 L13.8 605.3 L14.1 605.3 L14.4 605.3 L14.7 605.3 L15 605.3 L15.3 605.3 L15.6 605.3 L15.9 605.3 L16.2 605.3 L16.5 605.3 L16.8 605.3 L17.1 605.3 L17.4 605.3 L17.7 605.3 L18 605.3 L18.3 605.3 L18.6 605.3 L18.9 605.3 L19.2 605.3 L19.5 605.3 L19.8 605.3 L20.1 605.3 L20.4 605.3 L20.7 605.3 L21 605.3 L21.3 605.3 L21.6 605.3 L21.9 605.3 L22.2 605.3 L22.5 605.3 L22.8 605.3 L23.1 605.3 L23.4 605.3 L23.7 605.3 L24 605.3 L24.3 605.3 L24.6 605.3 L24.9 605.3 L25.2 605.3 L25.5 605.3 L25.8 605.3 L26.1 605.3 L26.4 605.3 L26.7 605.3 L27 605.3 L27.3 605.3 L27.6 605.3 L27.9 605.3 L28.2 605.3 L28.5 605.3 L28.8 605.3 L29.1 605.3 L29.4 605.3 L29.5 605.3 L29.7 608.78 L30 614.01 L30.3 619.23 L30.6 624.46 L30.9 629.68 L31.2 634.91 L31.5 640.13 L31.8 645.35 L32.1 650.58 L32.4 655.8 L32.7 661.03 L33 666.25 L33.3 671.48 L33.6 676.7 L33.9 681.93 L34.2 687.15 L34.5 692.38 L34.8 697.6 L35.1 697.6 L35.4 697.6 L35.7 697.6 L36 697.89 L36.3 697.86 L36.6 696.59 L36.9 695.52 L37.2 695.03 L37.5 694.09 L37.8 693.04 L38.1 692.27 L38.4 691.02 L38.7 690.41 L39 689.83 L39.3 688.86 L39.6 687.13 L39.9 687.32 L40.2 686.28 L40.5 685.63 L40.8 685.05 L41.1 684.81 L41.4 682.9 L41.7 682.6 L42 682.89 L42.3 681.4 L42.6 681.58 L42.9 680.85 L43.2 679.45 L43.5 679.07 L43.8 678.86 L44.1 678.57 L44.4 677.43 L44.7 676.99 L45 676.24 L45.3 676.59 L45.6 674.73 L45.9 674.92 L46.2 674.64 L46.5 673.99 L46.8 673.24 L47.1 673.1 L47.4 672.26 L47.7 671.71 L48 672.3 L48.3 671.83 L48.6 670.51 L48.9 670.35 L49.2 670.43 L49.5 669.57 L49.8 669.08 L50.1 668.78 L50.4 667.86 L50.7 668.17 L51 667.47 L51.3 667.32 L51.6 666.56 L51.9 666.72 L52.2 666.28 L52.5 665.92 L52.8 666.05 L53.1 664.67 L53.4 665.13 L53.7 664.2 L54 664.09 L54.3 664.89 L54.6 664.16 L54.9 664.02 L55.2 662.92 L55.5 662.84 L55.8 663.24 L56.1 662.91 L56.4 662.91 L56.7 662.4 L57 662.23 L57.3 662.03 L57.6 661.64 L57.9 660.96 L58.2 661.54 L58.5 660.87 L58.8 660.78 L59.1 660.56 L59.4 660.65 L59.7 660.14 L60 659.62 L60.3 659.91 L60.6 660.06 L60.9 659.37 L61.2 659.81 L61.5 659.13 L61.8 659.13 L62.1 659.48 L62.4 659.09 L62.7 659.84 L63 658.13 L63.3 658.29 L63.6 658.38 L63.9 657.86 L64.2 657.53 L64.5 657.83 L64.8 657.49 L65.1 657.33 L65.4 657.12 L65.7 657.28 L66 657.02 L66.3 656.89 L66.6 656.56 L66.9 656.49 L67.2 656.11 L67.5 656.56 L67.8 656.27 L68.1 656.03 L68.4 656.12 L68.7 656.18 L69 656.1 L69.3 655.75 L69.6 655.98 L69.9 655.93 L70.2 654.88 L70.5 655.07 L70.8 655.58 L71.1 655.34 L71.4 655.39 L71.7 655.48 L72 654.65 L72.3 655.02 L72.6 655.23 L72.9 654.42 L73.2 655.24 L73.5 653.93 L73.8 654.43 L74.1 655.28 L74.4 654.29 L74.7 654.38 L75 654.39 L75.3 654.1 L75.6 654.4 L75.9 654.08 L76.2 653.76 L76.5 654.81 L76.8 654.11 L77.1 653.54 L77.4 653.07 L77.7 653.56 L78 653.81 L78.3 653.1 L78.6 653.35 L78.9 653.45 L79.2 653.43 L79.5 653.88 L79.8 652.77 L80.1 652.94 L80.4 653.94 L80.7 652.63 L81 653.17 L81.3 653.2 L81.6 653.39 L81.9 652.71 L82.2 653.16 L82.5 653.39 L82.8 652.85 L83.1 653.07 L83.4 652.49 L83.7 653.05 L84 652.64 L84.3 652.53 L84.6 652.59 L84.9 652.09 L85.2 652.03 L85.5 652.6 L85.8 652.49 L86.1 652.4 L86.4 651.89 L86.7 652.46 L87 652.21 L87.3 651.82 L87.6 652.65 L87.9 653.05 L88.2 652.27 L88.5 651.94 L88.8 651.36 L89.1 652.5 L89.4 652.2 L89.7 652.42 L90 652.78 L90.3 651.84 L90.6 652.05 L90.9 652.53 L91.2 651.61 L91.5 652.31 L91.8 651.91 L92.1 651.68 L92.4 651.88 L92.7 652.06 L93 651.79 L93.3 651.87 L93.6 651.99 L93.9 652 L94.2 651.58 L94.5 651.75 L94.8 650.94 L95.1 651.23 L95.4 651.33 L95.7 651.45 L96 651.48 L96.3 651.21 L96.6 651.73 L96.9 651.89 L97.2 652.03 L97.5 651.55 L97.8 651.65 L98.1 651.74 L98.4 652.02 L98.7 651.28 L99 651.66 L99.3 650.96 L99.6 651.01 L99.9 650.95 L100.2 651.57 L100.5 651.28 L100.8 651.34 L101.1 651 L101.4 651.26 L101.7 651.91 L102 650.7 L102.3 650.83 L102.6 651.55 L102.9 650.88 L103.2 651.22 L103.5 651.24 L103.8 650.62 L104.1 651.03 L104.4 651.12 L104.7 651.26 L105 651.33 L105.3 651.11 L105.6 651.08 L105.9 651.05 L106.2 651.11 L106.5 651.33 L106.8 650.8 L107.1 650.03 L107.4 651.2 L107.7 651.04 L108 651.85 L108.3 650.62 L108.6 651.17 L108.9 651.23 L109.2 650.66 L109.5 650.91 L109.8 650.6 L110.1 651.13 L110.4 650.92 L110.7 651.03 L111 651.08 L111.3 651 L111.6 651.3 L111.9 651.14 L112.2 650.78 L112.5 650.6 L112.8 651 L113.1 650.3 L113.4 650.61 L113.7 651.17 L114 651.12 L114.3 651.56 L114.6 650.7 L114.9 650.75 L115.2 651.09 L115.5 630.71 L115.8 618.58 L116.1 613.19 L116.4 609.51 L116.7 608.18 L117 606.59 L117.3 605.83 L117.6 605.48 L117.9 605.39 L118.2 605.25 L118.5 604.75 L118.8 605.4 L119.1 605.07 L119.4 605.74 L119.7 605.59 L120 605.13 L120.3 605.23 L120.6 605.46 L120.9 605.73 L121.2 605.69 L121.5 605.61 L121.8 605.32 L122.1 605.57 L122.4 604.92 L122.7 605.5 L123 605.29 L123.3 605.21 L123.6 605.26 L123.9 605.06 L124.2 605.17 L124.5 605.78 L124.8 605.13 L125.1 604.85 L125.4 605.49 L125.7 605.16 L126 605.11 L126.3 605.78 L126.6 605.29 L126.9 605.5 L127.2 605.39 L127.5 605.89 L127.8 605.56 L128.1 604.81 L128.4 605.9 L128.7 605.14 L129 605.19 L129.3 605.58 L129.6 605.28 L129.9 605.18 L130.2 605.18 L130.5 605.2 L130.8 605.7 L131.1 605.43 L131.4 605.77 L131.7 605.96 L132 605.58 L132.3 605.03 L132.6 605.36 L132.9 605.47 L133.2 604.88 L133.5 605.28 L133.8 604.94 L134.1 605.72 L134.4 604.71 L134.7 605.19 L135 605.4 L135.3 605.38 L135.6 604.99 L135.9 605.56 L136.2 605.29 L136.5 605.82 L136.8 605.35 L137.1 605.6 L137.4 604.75 L137.7 605.38 L138 605.34 L138.3 604.97 L138.6 604.54 L138.9 605.56 L139.2 605.74 L139.5 605.1 L139.8 605.61 L140.1 605.54 L140.4 605.12 L140.7 605.09 L141 606.26 L141.3 605.53 L141.6 605.46 L141.9 605.2 L142.2 604.82 L142.5 605.4 L142.8 605.26 L143.1 605.43 L143.4 605.3 L143.7 604.7 L144 605.16 L144.3 605.36 L144.6 605.18 L144.9 605.4 L145.2 605.41 L145.5 605.27 L145.8 605.16 L146.1 605.88 L146.4 605.41 L146.7 605.42 L147 605.49 L147.3 605.39 L147.6 604.65 L147.9 605.17 L148.2 605.41 L148.5 605.49 L148.8 605.33 L149.1 604.93 L149.4 605.21 L149.7 605.45 L150 605.34 L150.3 606.23 L150.6 605.5 L150.9 605.48 L151.2 605.26 L151.5 604.56 L151.8 605.63 L152.1 605.08 L152.4 605.76 L152.7 605.17 L153 605.21 L153.3 605.68 L153.6 605.18 L153.9 604.74 L154.2 605.46 L154.5 605.47 L154.8 605.46 L155.1 605.26 L155.4 605.42 L155.7 605.01 L156 605.3" fill="none" stroke="#ff0000" stroke-width="1.2" stroke-linejoin="round" />
<text x="84.2" y="642.9" font-size="8.3" fill="#ff0000" text-anchor="middle" font-family="Liberation Sans, Arial, sans-serif" font-weight="normal" stroke="#ff0000" stroke-width="0.22" >TPtA 5 mM</text>
<line x1="74.5" y1="663.2" x2="74.5" y2="691.7" stroke="#333" stroke-width="1.2" />
<line x1="74.5" y1="691.7" x2="117.4" y2="691.7" stroke="#333" stroke-width="1.2" />
<text x="72.9" y="680.4" font-size="7.1" fill="#222" text-anchor="end" font-family="Liberation Sans, Arial, sans-serif" font-weight="normal" stroke="#222" stroke-width="0.22" >0.5 nA</text>
<text x="96.15" y="700" font-size="6.9" fill="#222" text-anchor="middle" font-family="Liberation Sans, Arial, sans-serif" font-weight="normal" stroke="#222" stroke-width="0.22" >10 s</text>
</svg></body></html>
